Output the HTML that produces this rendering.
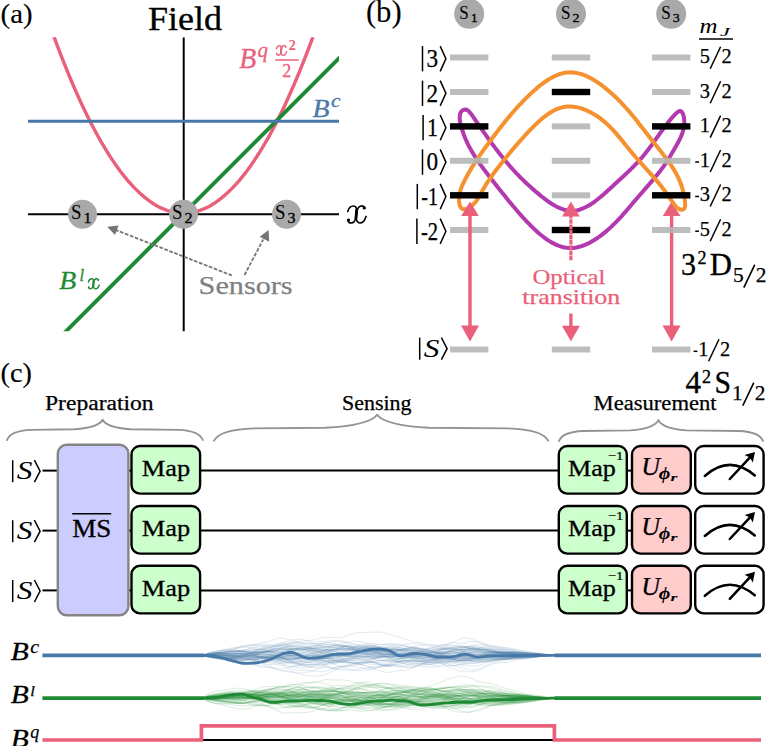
<!DOCTYPE html>
<html><head><meta charset="utf-8"><title>Figure</title>
<style>
html,body{margin:0;padding:0;background:#fff;}
body{width:768px;height:746px;overflow:hidden;font-family:"Liberation Serif",serif;}
svg{display:block;font-family:"Liberation Serif",serif;}
</style></head><body>
<svg width="768" height="746" viewBox="0 0 768 746">
<rect width="768" height="746" fill="#fff"/>
<text x="0.6" y="23.4" font-size="26.5" fill="#000" textLength="32" lengthAdjust="spacingAndGlyphs" stroke="#000" stroke-width="0.15">(a)</text>
<text x="148" y="30" font-size="33" fill="#000" textLength="74" lengthAdjust="spacingAndGlyphs" stroke="#000" stroke-width="0.3">Field</text>
<clipPath id="ca"><rect x="28" y="37.3" width="311" height="294"/></clipPath>
<line x1="183.7" y1="37.5" x2="183.7" y2="331.3" stroke="#000" stroke-width="2"/>
<line x1="28" y1="214.2" x2="339" y2="214.2" stroke="#000" stroke-width="2"/>
<g clip-path="url(#ca)">
<path d="M50.0,25.6 L53.0,34.0 L56.0,42.1 L59.0,50.1 L62.0,57.8 L65.0,65.4 L68.0,72.8 L71.0,80.0 L74.0,87.0 L77.0,93.8 L80.0,100.5 L83.0,106.9 L86.0,113.2 L89.0,119.2 L92.0,125.1 L95.0,130.8 L98.0,136.3 L101.0,141.6 L104.0,146.7 L107.0,151.6 L110.0,156.3 L113.0,160.9 L116.0,165.3 L119.0,169.4 L122.0,173.4 L125.0,177.2 L128.0,180.8 L131.0,184.2 L134.0,187.4 L137.0,190.4 L140.0,193.3 L143.0,195.9 L146.0,198.4 L149.0,200.7 L152.0,202.8 L155.0,204.7 L158.0,206.4 L161.0,207.9 L164.0,209.2 L167.0,210.3 L170.0,211.3 L173.0,212.0 L176.0,212.6 L179.0,213.0 L182.0,213.2 L185.0,213.2 L188.0,213.0 L191.0,212.6 L194.0,212.0 L197.0,211.3 L200.0,210.3 L203.0,209.2 L206.0,207.9 L209.0,206.4 L212.0,204.7 L215.0,202.8 L218.0,200.7 L221.0,198.4 L224.0,195.9 L227.0,193.3 L230.0,190.4 L233.0,187.4 L236.0,184.2 L239.0,180.8 L242.0,177.2 L245.0,173.4 L248.0,169.4 L251.0,165.3 L254.0,160.9 L257.0,156.3 L260.0,151.6 L263.0,146.7 L266.0,141.6 L269.0,136.3 L272.0,130.8 L275.0,125.1 L278.0,119.2 L281.0,113.2 L284.0,106.9 L287.0,100.5 L290.0,93.8 L293.0,87.0 L296.0,80.0 L299.0,72.8 L302.0,65.4 L305.0,57.8 L308.0,50.1 L311.0,42.1 L314.0,34.0 L317.0,25.6" fill="none" stroke="#EA5F79" stroke-width="3.4" stroke-linejoin="round"/>
<line x1="40" y1="357.3" x2="360" y2="37.3" stroke="#1F8A35" stroke-width="3.9"/>
<line x1="28" y1="121.2" x2="339" y2="121.2" stroke="#4878A8" stroke-width="3"/>
</g>
<circle cx="82.5" cy="214.2" r="14.5" fill="#A9A9A9"/>
<text x="71.0" y="218.8" font-size="20" fill="#000" textLength="10.5" lengthAdjust="spacingAndGlyphs">S</text>
<text x="83.5" y="222.5" font-size="14.5" fill="#000" textLength="8" lengthAdjust="spacingAndGlyphs" stroke="#000" stroke-width="0.3">1</text>
<circle cx="183.5" cy="214.2" r="14.5" fill="#A9A9A9"/>
<text x="172.0" y="218.8" font-size="20" fill="#000" textLength="10.5" lengthAdjust="spacingAndGlyphs">S</text>
<text x="184.5" y="222.5" font-size="14.5" fill="#000" textLength="8" lengthAdjust="spacingAndGlyphs" stroke="#000" stroke-width="0.3">2</text>
<circle cx="286.5" cy="214.2" r="14.5" fill="#A9A9A9"/>
<text x="275.0" y="218.8" font-size="20" fill="#000" textLength="10.5" lengthAdjust="spacingAndGlyphs">S</text>
<text x="287.5" y="222.5" font-size="14.5" fill="#000" textLength="8" lengthAdjust="spacingAndGlyphs" stroke="#000" stroke-width="0.3">3</text>
<g transform="translate(334.95,195.04) scale(0.05373)" fill="none" stroke="#000" stroke-linecap="round" stroke-linejoin="round"><path d="M238,305 C255,240 300,203 345,203 C385,203 408,235 402,290 L386,420 C378,480 340,520 300,520 C270,520 247,500 247,472" stroke-width="30"/><path d="M545,242 C540,215 515,200 490,203 C450,208 420,250 412,300 L398,420 C392,470 420,520 465,520 C520,520 560,460 578,398" stroke-width="30"/><path d="M404,275 L390,440" stroke-width="52"/><circle cx="252" cy="466" r="31" fill="#000" stroke="none"/><circle cx="546" cy="240" r="31" fill="#000" stroke="none"/></g>
<text x="239.2" y="67.8" font-size="30" fill="#EA5F79" font-style="italic" textLength="17" lengthAdjust="spacingAndGlyphs" stroke="#EA5F79" stroke-width="0.3">B</text>
<text x="257.6" y="56.6" font-size="21" fill="#EA5F79" font-style="italic" textLength="10.5" lengthAdjust="spacingAndGlyphs" stroke="#EA5F79" stroke-width="0.3">q</text>
<g transform="translate(269.05,39.45) scale(0.03045)" fill="none" stroke="#EA5F79" stroke-linecap="round" stroke-linejoin="round"><path d="M238,305 C255,240 300,203 345,203 C385,203 408,235 402,290 L386,420 C378,480 340,520 300,520 C270,520 247,500 247,472" stroke-width="42"/><path d="M545,242 C540,215 515,200 490,203 C450,208 420,250 412,300 L398,420 C392,470 420,520 465,520 C520,520 560,460 578,398" stroke-width="42"/><path d="M404,275 L390,440" stroke-width="64"/><circle cx="252" cy="466" r="31" fill="#EA5F79" stroke="none"/><circle cx="546" cy="240" r="31" fill="#EA5F79" stroke="none"/></g>
<text x="288.8" y="49.8" font-size="14" fill="#EA5F79" font-weight="bold" textLength="7" lengthAdjust="spacingAndGlyphs">2</text>
<line x1="275.3" y1="60" x2="298.6" y2="60" stroke="#EA5F79" stroke-width="1.5"/>
<text x="282.3" y="77.2" font-size="19.5" fill="#EA5F79" textLength="9" lengthAdjust="spacingAndGlyphs" stroke="#EA5F79" stroke-width="0.3">2</text>
<text x="312.6" y="117" font-size="25.5" fill="#4878A8" font-style="italic" textLength="17" lengthAdjust="spacingAndGlyphs" stroke="#4878A8" stroke-width="0.3">B</text>
<text x="331" y="107" font-size="19" fill="#4878A8" font-style="italic" textLength="9.5" lengthAdjust="spacingAndGlyphs" stroke="#4878A8" stroke-width="0.3">c</text>
<text x="59.2" y="288.6" font-size="26" fill="#1F8A35" font-style="italic" textLength="17" lengthAdjust="spacingAndGlyphs" stroke="#1F8A35" stroke-width="0.3">B</text>
<text x="79.6" y="280.8" font-size="16.5" fill="#1F8A35" font-style="italic" stroke="#1F8A35" stroke-width="0.3">l</text>
<g transform="translate(80.73,272.26) scale(0.03194)" fill="none" stroke="#1F8A35" stroke-linecap="round" stroke-linejoin="round"><path d="M238,305 C255,240 300,203 345,203 C385,203 408,235 402,290 L386,420 C378,480 340,520 300,520 C270,520 247,500 247,472" stroke-width="42"/><path d="M545,242 C540,215 515,200 490,203 C450,208 420,250 412,300 L398,420 C392,470 420,520 465,520 C520,520 560,460 578,398" stroke-width="42"/><path d="M404,275 L390,440" stroke-width="64"/><circle cx="252" cy="466" r="31" fill="#1F8A35" stroke="none"/><circle cx="546" cy="240" r="31" fill="#1F8A35" stroke="none"/></g>
<text x="198.6" y="294" font-size="26" fill="#7F7F7F" textLength="94" lengthAdjust="spacingAndGlyphs" stroke="#7F7F7F" stroke-width="0.25">Sensors</text>
<line x1="232" y1="275.5" x2="116" y2="230.1" stroke="#747474" stroke-width="1.8" stroke-dasharray="3.7,1.6"/>
<polygon points="107.2,226.7 118.6,225.6 115,235" fill="#747474"/>
<line x1="244.5" y1="275" x2="263.2" y2="239.5" stroke="#747474" stroke-width="1.8" stroke-dasharray="3.7,1.6"/>
<polygon points="268.6,230 269.2,241.8 259.8,236.8" fill="#747474"/>
<text x="365.9" y="22.3" font-size="31" fill="#000" textLength="35.8" lengthAdjust="spacingAndGlyphs" stroke="#000" stroke-width="0.1">(b)</text>
<circle cx="469.2" cy="13.8" r="15" fill="#A9A9A9"/>
<text x="459.2" y="18.8" font-size="19.5" fill="#000" textLength="9.5" lengthAdjust="spacingAndGlyphs">S</text>
<text x="470.8" y="22.3" font-size="13.5" fill="#000" textLength="7" lengthAdjust="spacingAndGlyphs" stroke="#000" stroke-width="0.3">1</text>
<circle cx="571" cy="13.8" r="15" fill="#A9A9A9"/>
<text x="561" y="18.8" font-size="19.5" fill="#000" textLength="9.5" lengthAdjust="spacingAndGlyphs">S</text>
<text x="572.6" y="22.3" font-size="13.5" fill="#000" textLength="7" lengthAdjust="spacingAndGlyphs" stroke="#000" stroke-width="0.3">2</text>
<circle cx="671.2" cy="13.8" r="15" fill="#A9A9A9"/>
<text x="661.2" y="18.8" font-size="19.5" fill="#000" textLength="9.5" lengthAdjust="spacingAndGlyphs">S</text>
<text x="672.8000000000001" y="22.3" font-size="13.5" fill="#000" textLength="7" lengthAdjust="spacingAndGlyphs" stroke="#000" stroke-width="0.3">3</text>
<line x1="671.6" y1="212" x2="671.6" y2="330" stroke="#EA5F79" stroke-width="3.4"/>
<polygon points="671.6,201.6 662.8000000000001,216 680.4,216" fill="#EA5F79"/>
<polygon points="671.6,341.4 662.6,325.6 680.6,325.6" fill="#EA5F79"/>
<path d="M570.9,248.1L568.8,248.0L566.7,247.8L564.6,247.5L562.6,247.0L560.5,246.4L558.5,245.7L556.5,244.9L554.5,243.9L552.5,242.9L550.6,241.8L548.6,240.6L546.7,239.3L544.8,238.0L542.9,236.5L541.0,235.0L539.2,233.5L537.4,231.9L535.6,230.3L533.8,228.6L532.1,226.9L530.3,225.2L528.7,223.5L527.0,221.8L525.4,220.0L523.8,218.3L522.2,216.6L520.7,214.9L519.2,213.2L517.7,211.5L516.2,209.8L514.8,208.1L513.4,206.4L512.0,204.7L510.6,203.1L509.2,201.4L507.8,199.7L506.4,198.0L505.1,196.3L503.7,194.6L502.3,192.9L501.0,191.2L499.6,189.4L498.2,187.7L496.8,185.9L495.3,184.1L493.9,182.3L492.5,180.5L491.0,178.7L489.6,176.8L488.2,175.0L486.8,173.1L485.3,171.3L483.9,169.4L482.6,167.5L481.2,165.6L479.8,163.7L478.5,161.8L477.2,159.9L476.0,158.0L474.7,156.1L473.5,154.2L472.4,152.2L471.2,150.3L470.2,148.4L469.1,146.5L468.1,144.6L467.2,142.6L466.3,140.7L465.4,138.7L464.6,136.6L463.7,134.4L463.0,132.2L462.2,129.8L461.4,127.4L460.7,124.8L460.2,122.3L459.8,119.9L459.7,117.5L459.8,115.4L460.2,113.4L461.1,111.8L462.3,110.5L463.8,109.7L465.4,109.5L467.2,110.0L468.8,111.3L470.4,113.1L472.0,115.2L473.5,117.3L474.9,119.4L476.2,121.3L477.5,123.2L478.8,125.1L480.1,126.9L481.3,128.7L482.6,130.5L483.9,132.3L485.2,134.2L486.5,136.0L487.8,137.8L489.1,139.7L490.5,141.5L491.8,143.4L493.2,145.3L494.6,147.1L496.0,149.0L497.4,150.8L498.8,152.6L500.2,154.5L501.7,156.3L503.1,158.1L504.6,159.8L506.0,161.6L507.5,163.3L508.9,165.0L510.4,166.7L511.9,168.4L513.4,170.0L514.9,171.7L516.4,173.3L518.0,174.9L519.5,176.5L521.1,178.1L522.7,179.6L524.3,181.2L525.9,182.7L527.5,184.3L529.2,185.8L530.9,187.3L532.6,188.9L534.4,190.4L536.1,191.9L538.0,193.4L539.8,194.9L541.6,196.5L543.5,197.9L545.4,199.4L547.4,200.8L549.3,202.2L551.3,203.5L553.3,204.7L555.3,205.9L557.3,207.0L559.3,207.9L561.3,208.7L563.3,209.5L565.4,210.0L567.4,210.5L569.4,210.8L571.4,210.9L573.5,210.8L575.5,210.6L577.5,210.2L579.5,209.7L581.5,209.0L583.4,208.2L585.4,207.3L587.4,206.3L589.3,205.2L591.2,204.0L593.2,202.7L595.1,201.3L597.0,199.8L598.9,198.3L600.8,196.8L602.6,195.2L604.5,193.6L606.3,192.0L608.1,190.3L609.9,188.7L611.7,187.0L613.5,185.4L615.2,183.8L616.9,182.2L618.7,180.6L620.4,179.1L622.0,177.5L623.7,176.0L625.3,174.5L627.0,172.9L628.6,171.4L630.1,169.9L631.7,168.3L633.3,166.8L634.8,165.2L636.3,163.7L637.8,162.1L639.3,160.5L640.7,158.9L642.2,157.2L643.6,155.5L645.0,153.8L646.3,152.1L647.7,150.3L649.1,148.5L650.4,146.7L651.8,144.9L653.1,143.0L654.4,141.2L655.8,139.3L657.1,137.4L658.5,135.5L659.8,133.6L661.2,131.6L662.6,129.7L664.0,127.8L665.5,125.9L667.0,123.9L668.5,122.0L670.0,120.1L671.6,118.2L673.2,116.4L674.8,114.6L676.4,113.0L678.0,111.8L679.4,111.1L680.7,111.1L681.8,111.9L682.7,113.3L683.4,115.2L683.9,117.5L684.2,119.9L684.3,122.3L684.2,124.7L683.9,127.0L683.4,129.3L682.8,131.6L682.1,133.8L681.3,135.9L680.3,138.0L679.3,140.1L678.2,142.2L677.1,144.2L676.0,146.2L674.8,148.2L673.7,150.2L672.5,152.1L671.4,154.1L670.3,156.0L669.1,157.9L668.0,159.8L666.8,161.7L665.5,163.6L664.3,165.4L663.0,167.3L661.6,169.1L660.2,170.9L658.8,172.7L657.4,174.5L655.9,176.3L654.5,178.1L653.0,179.9L651.5,181.6L650.0,183.4L648.4,185.1L646.9,186.9L645.4,188.6L643.9,190.3L642.4,192.1L640.8,193.8L639.4,195.5L637.9,197.2L636.4,198.9L635.0,200.6L633.5,202.3L632.1,204.0L630.7,205.7L629.2,207.4L627.8,209.1L626.4,210.8L624.9,212.4L623.4,214.1L622.0,215.8L620.5,217.4L618.9,219.1L617.4,220.7L615.8,222.3L614.2,223.9L612.5,225.5L610.8,227.1L609.1,228.7L607.3,230.3L605.5,231.9L603.6,233.4L601.7,234.9L599.8,236.3L597.8,237.7L595.8,239.0L593.8,240.3L591.8,241.5L589.7,242.7L587.7,243.7L585.6,244.6L583.5,245.5L581.4,246.2L579.3,246.8L577.2,247.3L575.1,247.7L573.0,248.0Z" fill="none" stroke="#B23AAE" stroke-width="4" stroke-linejoin="round"/>
<path d="M571.0,72.3L568.8,72.4L566.7,72.5L564.6,72.9L562.5,73.3L560.4,73.9L558.3,74.6L556.2,75.5L554.2,76.4L552.2,77.4L550.1,78.6L548.1,79.8L546.2,81.0L544.2,82.4L542.3,83.8L540.3,85.3L538.5,86.8L536.6,88.4L534.8,90.0L532.9,91.6L531.2,93.2L529.4,94.9L527.7,96.6L526.0,98.2L524.3,99.9L522.7,101.6L521.1,103.3L519.5,104.9L517.9,106.6L516.4,108.3L514.9,110.0L513.4,111.7L511.9,113.4L510.5,115.1L509.0,116.9L507.6,118.6L506.2,120.3L504.8,122.0L503.4,123.8L502.0,125.5L500.6,127.3L499.2,129.1L497.8,130.9L496.5,132.6L495.1,134.4L493.7,136.2L492.4,138.1L491.0,139.9L489.6,141.7L488.2,143.6L486.9,145.5L485.5,147.3L484.1,149.2L482.8,151.1L481.5,153.0L480.1,154.9L478.8,156.8L477.5,158.8L476.2,160.7L474.9,162.7L473.7,164.6L472.4,166.6L471.2,168.6L470.0,170.6L468.9,172.6L467.7,174.6L466.6,176.7L465.5,178.7L464.5,180.8L463.5,182.8L462.5,184.9L461.6,187.0L460.8,189.2L460.1,191.4L459.6,193.6L459.2,196.0L459.0,198.4L459.1,200.9L459.3,203.4L459.9,205.7L460.7,207.5L461.9,208.7L463.4,209.3L465.1,209.3L467.0,208.7L469.0,207.7L470.9,206.4L472.8,204.8L474.6,203.0L476.1,201.2L477.5,199.3L478.7,197.3L479.9,195.3L481.0,193.2L482.1,191.2L483.2,189.2L484.4,187.2L485.6,185.2L486.9,183.2L488.1,181.3L489.5,179.3L490.8,177.4L492.1,175.5L493.5,173.6L494.9,171.7L496.3,169.8L497.7,168.0L499.2,166.2L500.6,164.3L502.0,162.5L503.5,160.8L504.9,159.0L506.3,157.2L507.7,155.5L509.1,153.8L510.6,152.0L512.0,150.3L513.4,148.6L514.9,146.9L516.3,145.2L517.8,143.6L519.2,141.9L520.7,140.2L522.2,138.5L523.8,136.8L525.3,135.1L526.9,133.4L528.5,131.7L530.1,130.0L531.8,128.3L533.5,126.6L535.2,124.9L537.0,123.2L538.8,121.5L540.6,119.9L542.4,118.3L544.3,116.8L546.2,115.4L548.1,114.0L550.1,112.7L552.1,111.5L554.1,110.4L556.1,109.4L558.1,108.6L560.2,107.9L562.3,107.3L564.4,106.9L566.6,106.6L568.7,106.5L570.9,106.5L573.0,106.7L575.2,106.9L577.4,107.4L579.6,107.9L581.7,108.5L583.9,109.3L586.0,110.1L588.1,111.1L590.2,112.1L592.3,113.2L594.3,114.4L596.4,115.7L598.3,117.0L600.3,118.4L602.1,119.9L604.0,121.4L605.8,122.9L607.5,124.5L609.2,126.1L610.9,127.8L612.5,129.4L614.0,131.1L615.6,132.9L617.1,134.6L618.6,136.4L620.1,138.1L621.5,139.9L623.0,141.7L624.4,143.5L625.8,145.3L627.3,147.0L628.7,148.8L630.1,150.6L631.6,152.3L633.0,154.1L634.5,155.8L636.0,157.5L637.5,159.2L639.0,160.9L640.5,162.6L642.0,164.2L643.5,165.9L645.1,167.6L646.6,169.3L648.1,171.0L649.6,172.6L651.2,174.4L652.7,176.1L654.2,177.8L655.7,179.6L657.2,181.3L658.7,183.1L660.2,184.9L661.7,186.8L663.1,188.7L664.6,190.6L666.0,192.5L667.5,194.5L668.9,196.5L670.2,198.6L671.6,200.7L673.0,202.7L674.4,204.7L675.8,206.4L677.3,207.8L678.9,208.9L680.5,209.6L681.9,209.8L683.2,209.4L684.2,208.6L684.8,207.2L685.1,205.4L685.1,203.2L685.0,200.8L684.6,198.2L684.1,195.5L683.5,192.8L682.8,190.1L682.1,187.6L681.3,185.2L680.5,183.0L679.7,180.9L678.8,178.8L677.9,176.9L676.9,175.0L675.9,173.1L674.8,171.2L673.7,169.4L672.5,167.5L671.3,165.7L670.0,163.8L668.7,161.9L667.4,160.1L666.0,158.2L664.7,156.4L663.2,154.5L661.8,152.6L660.4,150.8L658.9,148.9L657.5,147.1L656.0,145.3L654.5,143.4L653.1,141.6L651.6,139.7L650.2,137.9L648.7,136.1L647.3,134.2L645.9,132.4L644.5,130.6L643.1,128.8L641.6,127.0L640.2,125.2L638.8,123.4L637.4,121.6L636.0,119.8L634.6,118.1L633.1,116.3L631.7,114.6L630.2,112.8L628.8,111.1L627.3,109.4L625.8,107.7L624.3,106.0L622.7,104.4L621.2,102.7L619.6,101.1L618.0,99.4L616.4,97.8L614.7,96.2L613.0,94.7L611.3,93.1L609.5,91.6L607.7,90.1L605.9,88.6L604.1,87.1L602.2,85.7L600.2,84.2L598.3,82.9L596.3,81.5L594.2,80.2L592.2,79.0L590.1,77.9L588.0,76.8L585.9,75.9L583.8,75.0L581.7,74.2L579.5,73.6L577.4,73.1L575.2,72.7L573.1,72.4Z" fill="none" stroke="#F5912F" stroke-width="4" stroke-linejoin="round"/>
<rect x="450.0" y="54.5" width="38.4" height="6" fill="#B4B4B4" fill-opacity="0.88"/>
<rect x="450.0" y="89.0" width="38.4" height="6" fill="#B4B4B4" fill-opacity="0.88"/>
<rect x="450.0" y="123.2" width="38.4" height="6.4" fill="#000"/>
<rect x="450.0" y="157.8" width="38.4" height="6" fill="#B4B4B4" fill-opacity="0.88"/>
<rect x="450.0" y="192.1" width="38.4" height="6.4" fill="#000"/>
<rect x="450.0" y="227.0" width="38.4" height="6" fill="#B4B4B4" fill-opacity="0.88"/>
<rect x="450.0" y="346.5" width="38.4" height="6" fill="#BDBDBD"/>
<rect x="551.8" y="54.5" width="38.4" height="6" fill="#B4B4B4" fill-opacity="0.88"/>
<rect x="551.8" y="88.8" width="38.4" height="6.4" fill="#000"/>
<rect x="551.8" y="123.4" width="38.4" height="6" fill="#B4B4B4" fill-opacity="0.88"/>
<rect x="551.8" y="157.8" width="38.4" height="6" fill="#B4B4B4" fill-opacity="0.88"/>
<rect x="551.8" y="192.3" width="38.4" height="6" fill="#B4B4B4" fill-opacity="0.88"/>
<rect x="551.8" y="226.8" width="38.4" height="6.4" fill="#000"/>
<rect x="551.8" y="346.5" width="38.4" height="6" fill="#BDBDBD"/>
<rect x="652.0" y="54.5" width="38.4" height="6" fill="#B4B4B4" fill-opacity="0.88"/>
<rect x="652.0" y="89.0" width="38.4" height="6" fill="#B4B4B4" fill-opacity="0.88"/>
<rect x="652.0" y="123.2" width="38.4" height="6.4" fill="#000"/>
<rect x="652.0" y="157.8" width="38.4" height="6" fill="#B4B4B4" fill-opacity="0.88"/>
<rect x="652.0" y="192.1" width="38.4" height="6.4" fill="#000"/>
<rect x="652.0" y="227.0" width="38.4" height="6" fill="#B4B4B4" fill-opacity="0.88"/>
<rect x="652.0" y="346.5" width="38.4" height="6" fill="#BDBDBD"/>
<polyline points="440.2,46.1 445.9,58.7 440.2,71.4" fill="none" stroke="#000" stroke-width="1.5"/>
<text x="426.5" y="67.1" font-size="24.5" fill="#000" textLength="11.6" lengthAdjust="spacingAndGlyphs" stroke="#000" stroke-width="0.25">3</text>
<line x1="422.5" y1="46.1" x2="422.5" y2="71.4" stroke="#000" stroke-width="1.5"/>
<polyline points="440.2,80.6 445.9,93.2 440.2,105.9" fill="none" stroke="#000" stroke-width="1.5"/>
<text x="426.5" y="101.6" font-size="24.5" fill="#000" textLength="11.6" lengthAdjust="spacingAndGlyphs" stroke="#000" stroke-width="0.25">2</text>
<line x1="422.5" y1="80.6" x2="422.5" y2="105.9" stroke="#000" stroke-width="1.5"/>
<polyline points="440.2,115.0 445.9,127.7 440.2,140.3" fill="none" stroke="#000" stroke-width="1.5"/>
<text x="427.1" y="136.0" font-size="24.5" fill="#000" textLength="11.0" lengthAdjust="spacingAndGlyphs" stroke="#000" stroke-width="0.25">1</text>
<line x1="423.1" y1="115.0" x2="423.1" y2="140.3" stroke="#000" stroke-width="1.5"/>
<polyline points="440.2,149.4 445.9,162.1 440.2,174.7" fill="none" stroke="#000" stroke-width="1.5"/>
<text x="426.5" y="170.4" font-size="24.5" fill="#000" textLength="11.6" lengthAdjust="spacingAndGlyphs" stroke="#000" stroke-width="0.25">0</text>
<line x1="422.5" y1="149.4" x2="422.5" y2="174.7" stroke="#000" stroke-width="1.5"/>
<polyline points="440.2,183.9 445.9,196.6 440.2,209.2" fill="none" stroke="#000" stroke-width="1.5"/>
<text x="421.3" y="204.9" font-size="24.5" fill="#000" textLength="16.8" lengthAdjust="spacingAndGlyphs" stroke="#000" stroke-width="0.25">-1</text>
<line x1="417.3" y1="183.9" x2="417.3" y2="209.2" stroke="#000" stroke-width="1.5"/>
<polyline points="440.2,218.6 445.9,231.2 440.2,243.9" fill="none" stroke="#000" stroke-width="1.5"/>
<text x="420.9" y="239.6" font-size="24.5" fill="#000" textLength="17.2" lengthAdjust="spacingAndGlyphs" stroke="#000" stroke-width="0.25">-2</text>
<line x1="416.9" y1="218.6" x2="416.9" y2="243.9" stroke="#000" stroke-width="1.5"/>
<polyline points="441.4,337.7 447.1,348.7 441.4,359.7" fill="none" stroke="#000" stroke-width="1.5"/>
<text x="423.7" y="356.6" font-size="25.5" fill="#000" font-style="italic" textLength="15.6" lengthAdjust="spacingAndGlyphs" stroke="#000" stroke-width="0.05">S</text>
<line x1="419.7" y1="337.7" x2="419.7" y2="359.7" stroke="#000" stroke-width="1.5"/>
<text x="699.5" y="33" font-size="22" fill="#000" font-style="italic" textLength="18" lengthAdjust="spacingAndGlyphs">m</text>
<text x="720" y="35.8" font-size="12.5" fill="#000" font-style="italic" textLength="10" lengthAdjust="spacingAndGlyphs">J</text>
<line x1="699" y1="38.9" x2="733" y2="38.9" stroke="#000" stroke-width="1.5"/>
<text x="721.6" y="63.3" font-size="21" fill="#000" textLength="10.2" lengthAdjust="spacingAndGlyphs" stroke="#000" stroke-width="0.25">2</text>
<text x="699.8" y="63.3" font-size="21" fill="#000" textLength="10.2" lengthAdjust="spacingAndGlyphs" stroke="#000" stroke-width="0.25">5</text>
<line x1="710.2" y1="68.7" x2="720.6" y2="46.7" stroke="#000" stroke-width="1.50"/>
<text x="721.6" y="97.8" font-size="21" fill="#000" textLength="10.2" lengthAdjust="spacingAndGlyphs" stroke="#000" stroke-width="0.25">2</text>
<text x="699.8" y="97.8" font-size="21" fill="#000" textLength="10.2" lengthAdjust="spacingAndGlyphs" stroke="#000" stroke-width="0.25">3</text>
<line x1="710.2" y1="103.2" x2="720.6" y2="81.2" stroke="#000" stroke-width="1.50"/>
<text x="721.6" y="132.2" font-size="21" fill="#000" textLength="10.2" lengthAdjust="spacingAndGlyphs" stroke="#000" stroke-width="0.25">2</text>
<text x="699.8" y="132.2" font-size="21" fill="#000" textLength="10.2" lengthAdjust="spacingAndGlyphs" stroke="#000" stroke-width="0.25">1</text>
<line x1="710.2" y1="137.6" x2="720.6" y2="115.6" stroke="#000" stroke-width="1.50"/>
<text x="721.6" y="166.6" font-size="21" fill="#000" textLength="10.2" lengthAdjust="spacingAndGlyphs" stroke="#000" stroke-width="0.25">2</text>
<text x="699.8" y="166.6" font-size="21" fill="#000" textLength="10.2" lengthAdjust="spacingAndGlyphs" stroke="#000" stroke-width="0.25">1</text>
<line x1="710.2" y1="172.0" x2="720.6" y2="150.0" stroke="#000" stroke-width="1.50"/>
<line x1="695.2" y1="162.0" x2="699.0" y2="162.0" stroke="#000" stroke-width="1.50"/>
<text x="721.6" y="201.1" font-size="21" fill="#000" textLength="10.2" lengthAdjust="spacingAndGlyphs" stroke="#000" stroke-width="0.25">2</text>
<text x="699.8" y="201.1" font-size="21" fill="#000" textLength="10.2" lengthAdjust="spacingAndGlyphs" stroke="#000" stroke-width="0.25">3</text>
<line x1="710.2" y1="206.5" x2="720.6" y2="184.5" stroke="#000" stroke-width="1.50"/>
<line x1="695.2" y1="196.5" x2="699.0" y2="196.5" stroke="#000" stroke-width="1.50"/>
<text x="721.6" y="235.8" font-size="21" fill="#000" textLength="10.2" lengthAdjust="spacingAndGlyphs" stroke="#000" stroke-width="0.25">2</text>
<text x="699.8" y="235.8" font-size="21" fill="#000" textLength="10.2" lengthAdjust="spacingAndGlyphs" stroke="#000" stroke-width="0.25">5</text>
<line x1="710.2" y1="241.2" x2="720.6" y2="219.2" stroke="#000" stroke-width="1.50"/>
<line x1="695.2" y1="231.2" x2="699.0" y2="231.2" stroke="#000" stroke-width="1.50"/>
<text x="720.0" y="355.9" font-size="21" fill="#000" textLength="10.2" lengthAdjust="spacingAndGlyphs" stroke="#000" stroke-width="0.25">2</text>
<text x="698.2" y="355.9" font-size="21" fill="#000" textLength="10.2" lengthAdjust="spacingAndGlyphs" stroke="#000" stroke-width="0.25">1</text>
<line x1="708.6" y1="361.3" x2="719.0" y2="339.3" stroke="#000" stroke-width="1.50"/>
<line x1="693.6" y1="351.3" x2="697.4" y2="351.3" stroke="#000" stroke-width="1.50"/>
<text x="681" y="274.7" font-size="31" fill="#000" textLength="15" lengthAdjust="spacingAndGlyphs" stroke="#000" stroke-width="0.35">3</text>
<text x="697.6" y="264.3" font-size="18.5" fill="#000" textLength="9" lengthAdjust="spacingAndGlyphs" stroke="#000" stroke-width="0.35">2</text>
<text x="709.8" y="274.7" font-size="31" fill="#000" textLength="22.2" lengthAdjust="spacingAndGlyphs" stroke="#000" stroke-width="0.35">D</text>
<text x="755.8" y="282.0" font-size="22" fill="#000" textLength="10.7" lengthAdjust="spacingAndGlyphs" stroke="#000" stroke-width="0.25">2</text>
<text x="733.0" y="282.0" font-size="22" fill="#000" textLength="10.7" lengthAdjust="spacingAndGlyphs" stroke="#000" stroke-width="0.25">5</text>
<line x1="743.8" y1="287.7" x2="754.8" y2="264.6" stroke="#000" stroke-width="1.57"/>
<text x="685.6" y="392.6" font-size="31" fill="#000" textLength="15.5" lengthAdjust="spacingAndGlyphs" stroke="#000" stroke-width="0.35">4</text>
<text x="702" y="382.6" font-size="18.5" fill="#000" textLength="9" lengthAdjust="spacingAndGlyphs" stroke="#000" stroke-width="0.35">2</text>
<text x="714.4" y="392.6" font-size="31" fill="#000" textLength="16.5" lengthAdjust="spacingAndGlyphs" stroke="#000" stroke-width="0.35">S</text>
<text x="754.8" y="400.0" font-size="22" fill="#000" textLength="10.7" lengthAdjust="spacingAndGlyphs" stroke="#000" stroke-width="0.25">2</text>
<text x="732.0" y="400.0" font-size="22" fill="#000" textLength="10.7" lengthAdjust="spacingAndGlyphs" stroke="#000" stroke-width="0.25">1</text>
<line x1="742.8" y1="405.7" x2="753.8" y2="382.6" stroke="#000" stroke-width="1.57"/>
<line x1="470.0" y1="212" x2="470.0" y2="330" stroke="#EA5F79" stroke-width="3.4"/>
<polygon points="470.0,201.6 461.2,216 478.8,216" fill="#EA5F79"/>
<polygon points="470.0,341.4 461.0,325.6 479.0,325.6" fill="#EA5F79"/>
<line x1="570.9" y1="214" x2="570.9" y2="260.4" stroke="#EA5F79" stroke-width="3.2" stroke-dasharray="4.6,0.6"/>
<polygon points="570.9,201.4 562.1,216.4 579.6999999999999,216.4" fill="#EA5F79"/>
<line x1="570.9" y1="313.6" x2="570.9" y2="328" stroke="#EA5F79" stroke-width="3.3"/>
<polygon points="570.9,341.2 561.9,325.8 579.9,325.8" fill="#EA5F79"/>
<text x="532.4" y="283.7" font-size="22" fill="#EA5F79" textLength="73" lengthAdjust="spacingAndGlyphs" stroke="#EA5F79" stroke-width="0.25">Optical</text>
<text x="522.3" y="303.5" font-size="22" fill="#EA5F79" textLength="98" lengthAdjust="spacingAndGlyphs" stroke="#EA5F79" stroke-width="0.25">transition</text>
<text x="0.6" y="382.2" font-size="26.5" fill="#000" textLength="31.4" lengthAdjust="spacingAndGlyphs" stroke="#000" stroke-width="0.15">(c)</text>
<text x="45" y="409.6" font-size="20.5" fill="#000" textLength="108.6" lengthAdjust="spacingAndGlyphs" stroke="#000" stroke-width="0.25">Preparation</text>
<text x="342" y="410.2" font-size="21" fill="#000" textLength="69.5" lengthAdjust="spacingAndGlyphs" stroke="#000" stroke-width="0.25">Sensing</text>
<text x="593.6" y="409.6" font-size="20.5" fill="#000" textLength="123" lengthAdjust="spacingAndGlyphs" stroke="#000" stroke-width="0.25">Measurement</text>
<path d="M7,440 C8.9,435.2 14.2,430.6 31,429.90000000000003 L74.6,429.3 C90.0,428.1 99.8,425.0 102.6,419.7 C105.4,425.0 115.2,428.1 130.6,429.3 L178.8,429.90000000000003 C195.6,430.6 200.9,435.2 202.8,440" fill="none" stroke="#939393" stroke-width="1.9" stroke-linecap="round" stroke-linejoin="round"/>
<path d="M214,440.6 C217.2,434.8 226.0,429.3 254,428.40000000000003 L325.1,427.8 C353.7,426.2 371.9,421.9 377.1,414.7 C382.3,421.9 400.5,426.2 429.1,427.8 L508.20000000000005,428.40000000000003 C536.2,429.3 545.0,434.8 548.2,440.6" fill="none" stroke="#939393" stroke-width="1.9" stroke-linecap="round" stroke-linejoin="round"/>
<path d="M559,441 C560.9,436.2 566.2,431.7 583,431.0 L630.4,430.4 C645.8,429.2 655.6,425.8 658.4,420.1 C661.2,425.8 671.0,429.2 686.4,430.4 L739,431.0 C755.8,431.7 761.1,436.2 763,441" fill="none" stroke="#939393" stroke-width="1.9" stroke-linecap="round" stroke-linejoin="round"/>
<line x1="42.5" y1="470.6" x2="58" y2="470.6" stroke="#000" stroke-width="2"/>
<line x1="128" y1="470.6" x2="131" y2="470.6" stroke="#000" stroke-width="2"/>
<line x1="200" y1="470.6" x2="559" y2="470.6" stroke="#000" stroke-width="2"/>
<line x1="627" y1="470.6" x2="632" y2="470.6" stroke="#000" stroke-width="2"/>
<polyline points="34.4,460.2 40.1,471.2 34.4,482.2" fill="none" stroke="#000" stroke-width="1.5"/>
<text x="16.7" y="479.1" font-size="25.5" fill="#000" font-style="italic" textLength="15.6" lengthAdjust="spacingAndGlyphs" stroke="#000" stroke-width="0.05">S</text>
<line x1="12.7" y1="460.2" x2="12.7" y2="482.2" stroke="#000" stroke-width="1.5"/>
<line x1="42.5" y1="530.6" x2="58" y2="530.6" stroke="#000" stroke-width="2"/>
<line x1="128" y1="530.6" x2="131" y2="530.6" stroke="#000" stroke-width="2"/>
<line x1="200" y1="530.6" x2="559" y2="530.6" stroke="#000" stroke-width="2"/>
<line x1="627" y1="530.6" x2="632" y2="530.6" stroke="#000" stroke-width="2"/>
<polyline points="34.4,520.2 40.1,531.2 34.4,542.2" fill="none" stroke="#000" stroke-width="1.5"/>
<text x="16.7" y="539.1" font-size="25.5" fill="#000" font-style="italic" textLength="15.6" lengthAdjust="spacingAndGlyphs" stroke="#000" stroke-width="0.05">S</text>
<line x1="12.7" y1="520.2" x2="12.7" y2="542.2" stroke="#000" stroke-width="1.5"/>
<line x1="42.5" y1="590.4" x2="58" y2="590.4" stroke="#000" stroke-width="2"/>
<line x1="128" y1="590.4" x2="131" y2="590.4" stroke="#000" stroke-width="2"/>
<line x1="200" y1="590.4" x2="559" y2="590.4" stroke="#000" stroke-width="2"/>
<line x1="627" y1="590.4" x2="632" y2="590.4" stroke="#000" stroke-width="2"/>
<polyline points="34.4,580.0 40.1,591.0 34.4,602.0" fill="none" stroke="#000" stroke-width="1.5"/>
<text x="16.7" y="598.9" font-size="25.5" fill="#000" font-style="italic" textLength="15.6" lengthAdjust="spacingAndGlyphs" stroke="#000" stroke-width="0.05">S</text>
<line x1="12.7" y1="580.0" x2="12.7" y2="602.0" stroke="#000" stroke-width="1.5"/>
<rect x="57.8" y="444.8" width="70.6" height="170.4" rx="9" fill="#CCCCFF" stroke="#858585" stroke-width="2.4"/>
<text x="72.2" y="537" font-size="26" fill="#000" textLength="39" lengthAdjust="spacingAndGlyphs" stroke="#000" stroke-width="0.3">MS</text>
<line x1="72.2" y1="513.8" x2="111.2" y2="513.8" stroke="#000" stroke-width="1.6"/>
<rect x="131.5" y="446.0" width="68.6" height="47.6" rx="8.5" fill="#CCFFCC" stroke="#000" stroke-width="2.4"/>
<text x="141.8" y="475.8" font-size="23" fill="#000" textLength="48.4" lengthAdjust="spacingAndGlyphs" stroke="#000" stroke-width="0.3">Map</text>
<rect x="558.8" y="446.0" width="68" height="47.6" rx="8.5" fill="#CCFFCC" stroke="#000" stroke-width="2.4"/>
<text x="568" y="476.0" font-size="23" fill="#000" textLength="47.8" lengthAdjust="spacingAndGlyphs" stroke="#000" stroke-width="0.3">Map</text>
<text x="607.8" y="460.2" font-size="12.5" fill="#000" textLength="15.6" lengthAdjust="spacingAndGlyphs" stroke="#000" stroke-width="0.2">−1</text>
<rect x="632" y="446.0" width="58.8" height="47.6" rx="8.5" fill="#FFCCCC" stroke="#000" stroke-width="2.4"/>
<text x="641.3" y="474.9" font-size="24.5" fill="#000" font-style="italic" textLength="18.8" lengthAdjust="spacingAndGlyphs" stroke="#000" stroke-width="0.25">U</text>
<text x="658.8" y="479.4" font-size="17" fill="#000" font-style="italic" font-weight="bold" textLength="11.5" lengthAdjust="spacingAndGlyphs">ϕ</text>
<text x="670.5" y="481.1" font-size="11" fill="#000" font-style="italic" font-weight="bold" textLength="7" lengthAdjust="spacingAndGlyphs">r</text>
<rect x="695.2" y="446.0" width="68.4" height="47.6" rx="8.5" fill="#fff" stroke="#000" stroke-width="2.4"/>
<path d="M704.8,476.0 Q729.5,454.1 754.8,475.5" fill="none" stroke="#000" stroke-width="2.5" stroke-linecap="round"/>
<line x1="729.8" y1="479.0" x2="750.5" y2="456.8" stroke="#000" stroke-width="2.5" stroke-linecap="round"/>
<polygon points="755,452.0 752.8,462.6 749.8,457.6 744.6,455.0" fill="#000"/>
<rect x="131.5" y="506.0" width="68.6" height="47.6" rx="8.5" fill="#CCFFCC" stroke="#000" stroke-width="2.4"/>
<text x="141.8" y="535.8" font-size="23" fill="#000" textLength="48.4" lengthAdjust="spacingAndGlyphs" stroke="#000" stroke-width="0.3">Map</text>
<rect x="558.8" y="506.0" width="68" height="47.6" rx="8.5" fill="#CCFFCC" stroke="#000" stroke-width="2.4"/>
<text x="568" y="536.0" font-size="23" fill="#000" textLength="47.8" lengthAdjust="spacingAndGlyphs" stroke="#000" stroke-width="0.3">Map</text>
<text x="607.8" y="520.2" font-size="12.5" fill="#000" textLength="15.6" lengthAdjust="spacingAndGlyphs" stroke="#000" stroke-width="0.2">−1</text>
<rect x="632" y="506.0" width="58.8" height="47.6" rx="8.5" fill="#FFCCCC" stroke="#000" stroke-width="2.4"/>
<text x="641.3" y="534.9" font-size="24.5" fill="#000" font-style="italic" textLength="18.8" lengthAdjust="spacingAndGlyphs" stroke="#000" stroke-width="0.25">U</text>
<text x="658.8" y="539.4" font-size="17" fill="#000" font-style="italic" font-weight="bold" textLength="11.5" lengthAdjust="spacingAndGlyphs">ϕ</text>
<text x="670.5" y="541.1" font-size="11" fill="#000" font-style="italic" font-weight="bold" textLength="7" lengthAdjust="spacingAndGlyphs">r</text>
<rect x="695.2" y="506.0" width="68.4" height="47.6" rx="8.5" fill="#fff" stroke="#000" stroke-width="2.4"/>
<path d="M704.8,536.0 Q729.5,514.1 754.8,535.5" fill="none" stroke="#000" stroke-width="2.5" stroke-linecap="round"/>
<line x1="729.8" y1="539.0" x2="750.5" y2="516.8" stroke="#000" stroke-width="2.5" stroke-linecap="round"/>
<polygon points="755,512.0 752.8,522.6 749.8,517.6 744.6,515.0" fill="#000"/>
<rect x="131.5" y="565.8" width="68.6" height="47.6" rx="8.5" fill="#CCFFCC" stroke="#000" stroke-width="2.4"/>
<text x="141.8" y="595.6" font-size="23" fill="#000" textLength="48.4" lengthAdjust="spacingAndGlyphs" stroke="#000" stroke-width="0.3">Map</text>
<rect x="558.8" y="565.8" width="68" height="47.6" rx="8.5" fill="#CCFFCC" stroke="#000" stroke-width="2.4"/>
<text x="568" y="595.8" font-size="23" fill="#000" textLength="47.8" lengthAdjust="spacingAndGlyphs" stroke="#000" stroke-width="0.3">Map</text>
<text x="607.8" y="580.0" font-size="12.5" fill="#000" textLength="15.6" lengthAdjust="spacingAndGlyphs" stroke="#000" stroke-width="0.2">−1</text>
<rect x="632" y="565.8" width="58.8" height="47.6" rx="8.5" fill="#FFCCCC" stroke="#000" stroke-width="2.4"/>
<text x="641.3" y="594.7" font-size="24.5" fill="#000" font-style="italic" textLength="18.8" lengthAdjust="spacingAndGlyphs" stroke="#000" stroke-width="0.25">U</text>
<text x="658.8" y="599.2" font-size="17" fill="#000" font-style="italic" font-weight="bold" textLength="11.5" lengthAdjust="spacingAndGlyphs">ϕ</text>
<text x="670.5" y="600.9" font-size="11" fill="#000" font-style="italic" font-weight="bold" textLength="7" lengthAdjust="spacingAndGlyphs">r</text>
<rect x="695.2" y="565.8" width="68.4" height="47.6" rx="8.5" fill="#fff" stroke="#000" stroke-width="2.4"/>
<path d="M704.8,595.8 Q729.5,573.9 754.8,595.3" fill="none" stroke="#000" stroke-width="2.5" stroke-linecap="round"/>
<line x1="729.8" y1="598.8" x2="750.5" y2="576.6" stroke="#000" stroke-width="2.5" stroke-linecap="round"/>
<polygon points="755,571.8 752.8,582.4 749.8,577.4 744.6,574.8" fill="#000"/>
<line x1="42.4" y1="655.3" x2="204.0" y2="655.3" stroke="#4878A8" stroke-width="3.8"/>
<line x1="554.5" y1="655.3" x2="761" y2="655.3" stroke="#4878A8" stroke-width="3.8"/>
<g fill="none" stroke="#4878A8" stroke-width="0.8" stroke-opacity="0.2">
<path d="M203.0,655.3L206.7,655.5L210.3,655.8L214.0,656.4L217.7,657.0L221.4,657.6L225.0,658.1L228.7,658.3L232.4,658.1L236.0,657.8L239.7,657.4L243.4,657.0L247.1,656.9L250.7,656.8L254.4,656.8L258.1,656.8L261.8,656.8L265.4,656.9L269.1,657.2L272.8,657.6L276.4,658.2L280.1,658.7L283.8,659.0L287.5,658.9L291.1,658.9L294.8,659.0L298.5,659.1L302.1,658.6L305.8,657.9L309.5,657.5L313.2,657.5L316.8,657.9L320.5,658.2L324.2,658.4L327.8,658.8L331.5,659.3L335.2,660.3L338.9,661.5L342.5,662.5L346.2,663.1L349.9,663.4L353.5,663.5L357.2,663.4L360.9,663.2L364.6,662.7L368.2,662.2L371.9,661.5L375.6,660.9L379.2,660.6L382.9,660.8L386.6,660.9L390.3,660.4L393.9,659.4L397.6,658.5L401.3,657.8L405.0,657.1L408.6,656.6L412.3,656.3L416.0,656.4L419.6,656.5L423.3,656.5L427.0,656.5L430.7,657.1L434.3,658.3L438.0,659.7L441.7,660.3L445.3,659.9L449.0,658.7L452.7,657.2L456.4,656.1L460.0,655.7L463.7,655.8L467.4,655.8L471.0,655.6L474.7,655.2L478.4,654.7L482.1,654.7L485.7,655.2L489.4,656.1L493.1,657.0L496.8,657.7L500.4,657.9L504.1,657.8L507.8,657.6L511.4,657.4L515.1,657.0L518.8,656.6L522.5,656.3L526.1,656.1L529.8,655.9L533.5,655.6L537.1,655.4L540.8,655.3L544.5,655.2L548.2,655.2L551.8,655.2L555.5,655.3"/>
<path d="M203.0,655.3L206.7,655.7L210.3,656.1L214.0,656.6L217.7,657.0L221.4,657.4L225.0,657.8L228.7,658.3L232.4,658.5L236.0,658.4L239.7,658.4L243.4,658.5L247.1,658.8L250.7,659.2L254.4,659.5L258.1,659.9L261.8,660.0L265.4,659.9L269.1,659.8L272.8,659.8L276.4,660.0L280.1,660.7L283.8,661.7L287.5,662.8L291.1,663.6L294.8,664.3L298.5,664.8L302.1,665.5L305.8,666.3L309.5,666.5L313.2,665.9L316.8,664.9L320.5,664.2L324.2,664.1L327.8,664.2L331.5,664.1L335.2,663.5L338.9,662.4L342.5,661.2L346.2,660.2L349.9,659.2L353.5,658.2L357.2,657.4L360.9,657.0L364.6,656.8L368.2,656.5L371.9,656.2L375.6,656.0L379.2,655.7L382.9,655.7L386.6,656.0L390.3,656.7L393.9,657.5L397.6,658.2L401.3,658.6L405.0,658.8L408.6,659.1L412.3,659.6L416.0,660.0L419.6,660.4L423.3,660.8L427.0,661.3L430.7,661.6L434.3,661.3L438.0,660.4L441.7,659.1L445.3,658.1L449.0,657.8L452.7,658.0L456.4,658.1L460.0,658.2L463.7,658.2L467.4,658.3L471.0,658.3L474.7,658.4L478.4,658.6L482.1,659.0L485.7,659.5L489.4,659.9L493.1,659.6L496.8,659.1L500.4,658.7L504.1,658.4L507.8,658.1L511.4,657.8L515.1,657.6L518.8,657.4L522.5,657.1L526.1,656.9L529.8,656.6L533.5,656.4L537.1,656.2L540.8,655.9L544.5,655.6L548.2,655.4L551.8,655.3L555.5,655.3"/>
<path d="M203.0,655.3L206.7,653.7L210.3,652.8L214.0,652.0L217.7,651.1L221.4,650.3L225.0,649.8L228.7,649.6L232.4,649.8L236.0,650.3L239.7,650.8L243.4,651.2L247.1,651.7L250.7,651.9L254.4,651.9L258.1,651.6L261.8,651.4L265.4,651.4L269.1,651.7L272.8,652.0L276.4,652.2L280.1,652.0L283.8,651.4L287.5,650.5L291.1,649.7L294.8,649.2L298.5,649.2L302.1,649.6L305.8,650.1L309.5,650.6L313.2,651.0L316.8,651.4L320.5,651.8L324.2,652.1L327.8,652.4L331.5,652.9L335.2,653.5L338.9,653.7L342.5,652.9L346.2,651.3L349.9,649.8L353.5,649.4L357.2,650.3L360.9,651.6L364.6,652.4L368.2,652.4L371.9,652.3L375.6,652.2L379.2,652.3L382.9,652.5L386.6,652.7L390.3,653.0L393.9,653.4L397.6,654.0L401.3,654.7L405.0,655.4L408.6,656.2L412.3,657.3L416.0,658.9L419.6,660.6L423.3,661.7L427.0,661.6L430.7,660.8L434.3,659.6L438.0,658.6L441.7,658.1L445.3,658.2L449.0,658.3L452.7,658.1L456.4,658.0L460.0,658.1L463.7,658.5L467.4,658.9L471.0,658.9L474.7,658.3L478.4,657.5L482.1,656.8L485.7,656.2L489.4,655.6L493.1,654.9L496.8,654.2L500.4,653.8L504.1,653.5L507.8,653.4L511.4,653.5L515.1,653.7L518.8,654.0L522.5,654.1L526.1,654.4L529.8,654.8L533.5,655.0L537.1,655.1L540.8,655.0L544.5,655.0L548.2,655.1L551.8,655.2L555.5,655.3"/>
<path d="M203.0,655.3L206.7,654.7L210.3,654.5L214.0,654.4L217.7,654.3L221.4,654.2L225.0,654.2L228.7,654.4L232.4,654.6L236.0,654.6L239.7,654.6L243.4,654.5L247.1,654.1L250.7,653.3L254.4,652.5L258.1,652.2L261.8,652.7L265.4,653.7L269.1,654.5L272.8,655.3L276.4,656.1L280.1,656.8L283.8,657.1L287.5,657.4L291.1,657.7L294.8,658.1L298.5,658.2L302.1,657.8L305.8,656.7L309.5,655.2L313.2,653.7L316.8,652.5L320.5,651.6L324.2,650.4L327.8,648.6L331.5,646.4L335.2,644.7L338.9,643.9L342.5,643.3L346.2,642.6L349.9,641.6L353.5,641.1L357.2,641.2L360.9,641.9L364.6,642.7L368.2,643.7L371.9,644.8L375.6,646.2L379.2,648.1L382.9,650.2L386.6,652.3L390.3,654.1L393.9,655.3L397.6,656.1L401.3,656.6L405.0,657.0L408.6,657.0L412.3,657.2L416.0,657.9L419.6,658.9L423.3,659.6L427.0,659.8L430.7,659.5L434.3,659.1L438.0,659.0L441.7,658.8L445.3,658.3L449.0,658.2L452.7,658.6L456.4,659.2L460.0,659.4L463.7,659.4L467.4,659.8L471.0,660.7L474.7,661.6L478.4,662.1L482.1,662.0L485.7,661.6L489.4,661.1L493.1,660.5L496.8,660.1L500.4,659.7L504.1,659.6L507.8,659.4L511.4,659.0L515.1,658.6L518.8,658.2L522.5,657.8L526.1,657.6L529.8,657.4L533.5,657.2L537.1,656.8L540.8,656.3L544.5,655.8L548.2,655.6L551.8,655.4L555.5,655.3"/>
<path d="M203.0,655.3L206.7,655.8L210.3,656.1L214.0,656.5L217.7,657.1L221.4,657.7L225.0,658.0L228.7,658.1L232.4,658.0L236.0,658.0L239.7,658.1L243.4,658.3L247.1,658.4L250.7,658.2L254.4,657.8L258.1,657.2L261.8,656.3L265.4,655.3L269.1,654.6L272.8,654.4L276.4,654.3L280.1,654.3L283.8,654.4L287.5,654.8L291.1,655.4L294.8,655.6L298.5,655.5L302.1,655.7L305.8,656.3L309.5,657.0L313.2,657.5L316.8,657.6L320.5,657.3L324.2,656.7L327.8,656.2L331.5,655.8L335.2,655.6L338.9,655.4L342.5,654.8L346.2,653.8L349.9,652.6L353.5,651.5L357.2,650.7L360.9,649.9L364.6,649.2L368.2,648.6L371.9,648.4L375.6,648.6L379.2,649.0L382.9,649.4L386.6,649.7L390.3,649.8L393.9,649.8L397.6,649.8L401.3,649.9L405.0,650.2L408.6,650.6L412.3,651.3L416.0,651.6L419.6,651.2L423.3,650.5L427.0,650.2L430.7,650.6L434.3,650.9L438.0,650.3L441.7,648.9L445.3,647.8L449.0,647.7L452.7,648.2L456.4,648.9L460.0,649.6L463.7,650.2L467.4,650.7L471.0,651.0L474.7,651.3L478.4,651.6L482.1,652.2L485.7,653.0L489.4,653.8L493.1,654.5L496.8,654.9L500.4,655.2L504.1,655.4L507.8,655.5L511.4,655.6L515.1,655.7L518.8,655.9L522.5,656.0L526.1,655.9L529.8,655.8L533.5,655.7L537.1,655.6L540.8,655.5L544.5,655.5L548.2,655.4L551.8,655.3L555.5,655.3"/>
<path d="M203.0,655.3L206.7,655.5L210.3,655.2L214.0,654.8L217.7,654.2L221.4,653.6L225.0,652.7L228.7,651.5L232.4,650.1L236.0,648.6L239.7,647.0L243.4,645.6L247.1,644.9L250.7,645.0L254.4,645.4L258.1,645.8L261.8,646.0L265.4,646.2L269.1,646.2L272.8,646.0L276.4,645.8L280.1,645.9L283.8,646.1L287.5,646.3L291.1,646.6L294.8,646.8L298.5,646.5L302.1,646.1L305.8,646.3L309.5,647.4L313.2,648.8L316.8,649.4L320.5,649.4L324.2,649.2L327.8,649.3L331.5,649.2L335.2,648.8L338.9,647.9L342.5,646.8L346.2,646.3L349.9,646.7L353.5,647.5L357.2,647.9L360.9,647.7L364.6,647.6L368.2,648.2L371.9,649.5L375.6,651.2L379.2,652.8L382.9,654.2L386.6,656.0L390.3,657.9L393.9,659.6L397.6,660.7L401.3,661.5L405.0,662.4L408.6,663.1L412.3,663.4L416.0,663.3L419.6,663.5L423.3,664.0L427.0,664.5L430.7,664.4L434.3,663.5L438.0,662.2L441.7,661.2L445.3,660.5L449.0,660.3L452.7,660.5L456.4,661.0L460.0,661.0L463.7,660.7L467.4,660.6L471.0,661.0L474.7,661.6L478.4,661.6L482.1,660.9L485.7,659.7L489.4,658.6L493.1,658.0L496.8,657.7L500.4,657.4L504.1,657.1L507.8,656.7L511.4,656.2L515.1,655.7L518.8,655.4L522.5,655.4L526.1,655.4L529.8,655.5L533.5,655.5L537.1,655.6L540.8,655.7L544.5,655.6L548.2,655.6L551.8,655.4L555.5,655.3"/>
<path d="M203.0,655.3L206.7,655.3L210.3,654.9L214.0,654.4L217.7,654.0L221.4,653.9L225.0,653.8L228.7,653.7L232.4,653.5L236.0,653.3L239.7,653.1L243.4,653.1L247.1,653.5L250.7,654.1L254.4,654.5L258.1,654.6L261.8,655.0L265.4,655.8L269.1,657.0L272.8,658.3L276.4,659.1L280.1,659.5L283.8,659.7L287.5,660.2L291.1,661.1L294.8,662.3L298.5,663.1L302.1,663.3L305.8,662.7L309.5,661.5L313.2,660.3L316.8,659.8L320.5,659.9L324.2,660.2L327.8,660.3L331.5,660.4L335.2,660.6L338.9,660.6L342.5,660.2L346.2,659.5L349.9,659.0L353.5,658.4L357.2,657.9L360.9,657.6L364.6,657.5L368.2,657.6L371.9,658.0L375.6,658.8L379.2,659.8L382.9,660.5L386.6,661.2L390.3,661.6L393.9,661.8L397.6,661.9L401.3,661.9L405.0,661.6L408.6,660.7L412.3,659.6L416.0,658.6L419.6,658.2L423.3,658.1L427.0,657.6L430.7,656.3L434.3,654.7L438.0,652.9L441.7,651.1L445.3,649.5L449.0,648.5L452.7,647.7L456.4,647.2L460.0,646.9L463.7,647.0L467.4,647.3L471.0,647.7L474.7,648.2L478.4,648.7L482.1,649.5L485.7,650.3L489.4,650.8L493.1,651.3L496.8,651.8L500.4,652.1L504.1,652.3L507.8,652.5L511.4,652.7L515.1,652.9L518.8,653.1L522.5,653.3L526.1,653.4L529.8,653.4L533.5,653.4L537.1,653.5L540.8,653.7L544.5,654.1L548.2,654.5L551.8,655.0L555.5,655.3"/>
<path d="M203.0,655.3L206.7,655.6L210.3,656.0L214.0,656.6L217.7,657.5L221.4,658.5L225.0,659.2L228.7,659.6L232.4,659.7L236.0,659.6L239.7,659.6L243.4,659.7L247.1,659.7L250.7,659.7L254.4,659.6L258.1,659.1L261.8,658.3L265.4,657.4L269.1,656.8L272.8,656.4L276.4,656.5L280.1,657.1L283.8,657.8L287.5,658.2L291.1,658.0L294.8,657.3L298.5,656.9L302.1,656.8L305.8,657.2L309.5,657.8L313.2,658.6L316.8,659.4L320.5,659.8L324.2,659.4L327.8,658.6L331.5,658.1L335.2,657.8L338.9,657.6L342.5,657.2L346.2,656.9L349.9,656.8L353.5,657.0L357.2,657.3L360.9,657.6L364.6,658.2L368.2,658.7L371.9,658.5L375.6,657.5L379.2,656.3L382.9,655.5L386.6,655.3L390.3,655.5L393.9,655.6L397.6,655.3L401.3,654.6L405.0,653.6L408.6,652.6L412.3,651.8L416.0,651.1L419.6,650.3L423.3,649.7L427.0,649.9L430.7,651.0L434.3,652.4L438.0,653.3L441.7,653.3L445.3,652.5L449.0,651.3L452.7,650.0L456.4,648.9L460.0,648.2L463.7,647.8L467.4,647.9L471.0,648.6L474.7,649.8L478.4,650.9L482.1,651.7L485.7,652.2L489.4,652.3L493.1,652.1L496.8,652.1L500.4,652.5L504.1,653.2L507.8,653.7L511.4,654.2L515.1,654.7L518.8,655.1L522.5,655.3L526.1,655.2L529.8,655.0L533.5,654.8L537.1,654.8L540.8,654.9L544.5,655.1L548.2,655.2L551.8,655.3L555.5,655.3"/>
<path d="M203.0,655.3L206.7,655.1L210.3,654.9L214.0,654.5L217.7,654.3L221.4,654.4L225.0,654.8L228.7,655.4L232.4,655.9L236.0,656.3L239.7,656.6L243.4,656.9L247.1,656.6L250.7,655.9L254.4,655.5L258.1,655.9L261.8,656.7L265.4,657.3L269.1,657.5L272.8,657.5L276.4,657.6L280.1,657.7L283.8,658.3L287.5,659.1L291.1,659.8L294.8,660.4L298.5,661.1L302.1,661.9L305.8,662.4L309.5,662.4L313.2,662.1L316.8,661.3L320.5,660.3L324.2,659.1L327.8,657.9L331.5,656.7L335.2,655.8L338.9,655.5L342.5,655.8L346.2,656.2L349.9,656.3L353.5,656.2L357.2,656.1L360.9,656.2L364.6,656.7L368.2,657.3L371.9,657.8L375.6,657.8L379.2,657.4L382.9,656.9L386.6,656.4L390.3,656.2L393.9,656.0L397.6,655.5L401.3,654.7L405.0,653.9L408.6,653.4L412.3,653.2L416.0,653.0L419.6,652.8L423.3,652.6L427.0,652.4L430.7,652.3L434.3,651.9L438.0,651.3L441.7,650.4L445.3,649.5L449.0,648.6L452.7,648.1L456.4,647.9L460.0,647.7L463.7,647.8L467.4,647.8L471.0,647.8L474.7,647.7L478.4,647.6L482.1,647.8L485.7,648.5L489.4,649.5L493.1,650.6L496.8,651.5L500.4,652.1L504.1,652.4L507.8,652.4L511.4,652.3L515.1,652.1L518.8,652.0L522.5,652.2L526.1,652.6L529.8,653.2L533.5,653.6L537.1,654.0L540.8,654.2L544.5,654.5L548.2,654.8L551.8,655.1L555.5,655.3"/>
<path d="M203.0,655.3L206.7,656.2L210.3,656.9L214.0,657.7L217.7,658.5L221.4,659.2L225.0,660.0L228.7,660.7L232.4,661.5L236.0,662.2L239.7,662.6L243.4,662.7L247.1,662.6L250.7,662.6L254.4,662.8L258.1,662.6L261.8,661.8L265.4,660.5L269.1,659.0L272.8,657.7L276.4,656.5L280.1,655.1L283.8,653.4L287.5,651.2L291.1,649.5L294.8,648.7L298.5,648.9L302.1,649.5L305.8,650.3L309.5,650.9L313.2,651.6L316.8,652.0L320.5,652.0L324.2,652.0L327.8,652.5L331.5,653.7L335.2,655.1L338.9,656.0L342.5,656.0L346.2,654.9L349.9,653.2L353.5,651.5L357.2,650.2L360.9,649.3L364.6,648.2L368.2,646.9L371.9,645.7L375.6,644.9L379.2,644.5L382.9,644.2L386.6,643.7L390.3,643.3L393.9,643.7L397.6,644.4L401.3,645.0L405.0,645.7L408.6,646.9L412.3,648.3L416.0,649.5L419.6,650.5L423.3,651.0L427.0,651.4L430.7,652.0L434.3,652.8L438.0,653.9L441.7,654.9L445.3,655.5L449.0,655.9L452.7,656.3L456.4,656.5L460.0,656.4L463.7,656.0L467.4,656.2L471.0,656.7L474.7,657.0L478.4,656.7L482.1,655.9L485.7,655.1L489.4,654.3L493.1,653.8L496.8,653.4L500.4,652.8L504.1,652.3L507.8,652.0L511.4,652.0L515.1,652.3L518.8,652.9L522.5,653.6L526.1,654.2L529.8,654.7L533.5,654.9L537.1,655.1L540.8,655.1L544.5,655.2L548.2,655.3L551.8,655.3L555.5,655.3"/>
<path d="M203.0,655.3L206.7,656.5L210.3,657.4L214.0,658.2L217.7,658.6L221.4,658.7L225.0,658.7L228.7,658.5L232.4,658.3L236.0,658.1L239.7,657.9L243.4,657.8L247.1,658.2L250.7,658.8L254.4,659.7L258.1,660.6L261.8,661.5L265.4,662.2L269.1,662.8L272.8,663.4L276.4,664.2L280.1,665.4L283.8,666.7L287.5,668.0L291.1,668.9L294.8,669.5L298.5,670.0L302.1,670.3L305.8,670.4L309.5,670.6L313.2,670.8L316.8,671.3L320.5,671.7L324.2,671.5L327.8,670.6L331.5,669.2L335.2,667.7L338.9,666.6L342.5,666.0L346.2,665.8L349.9,666.1L353.5,666.5L357.2,667.0L360.9,667.5L364.6,668.3L368.2,669.0L371.9,668.9L375.6,668.0L379.2,666.8L382.9,665.8L386.6,664.8L390.3,663.7L393.9,662.6L397.6,661.6L401.3,661.0L405.0,660.7L408.6,660.5L412.3,660.4L416.0,660.4L419.6,660.6L423.3,660.8L427.0,660.6L430.7,660.1L434.3,660.3L438.0,661.6L441.7,663.5L445.3,665.4L449.0,667.1L452.7,668.9L456.4,670.3L460.0,671.0L463.7,671.1L467.4,671.4L471.0,671.8L474.7,671.5L478.4,670.5L482.1,668.9L485.7,667.2L489.4,665.6L493.1,664.0L496.8,663.0L500.4,662.7L504.1,662.7L507.8,662.3L511.4,661.4L515.1,660.4L518.8,659.5L522.5,658.8L526.1,658.3L529.8,657.9L533.5,657.4L537.1,656.9L540.8,656.4L544.5,656.0L548.2,655.7L551.8,655.4L555.5,655.3"/>
<path d="M203.0,655.3L206.7,656.1L210.3,656.7L214.0,657.2L217.7,657.7L221.4,658.1L225.0,658.3L228.7,658.5L232.4,658.8L236.0,659.2L239.7,659.6L243.4,659.8L247.1,659.9L250.7,660.1L254.4,660.7L258.1,661.9L261.8,663.3L265.4,664.7L269.1,666.1L272.8,667.3L276.4,668.6L280.1,669.9L283.8,670.9L287.5,671.7L291.1,672.2L294.8,672.8L298.5,673.2L302.1,672.9L305.8,672.3L309.5,671.6L313.2,670.8L316.8,669.6L320.5,667.7L324.2,665.5L327.8,663.7L331.5,662.2L335.2,660.8L338.9,659.1L342.5,657.5L346.2,656.4L349.9,655.7L353.5,654.9L357.2,654.0L360.9,653.2L364.6,652.4L368.2,651.6L371.9,651.0L375.6,650.5L379.2,649.7L382.9,648.4L386.6,647.1L390.3,646.4L393.9,646.2L397.6,646.0L401.3,645.3L405.0,644.4L408.6,643.7L412.3,643.4L416.0,643.6L419.6,644.0L423.3,644.4L427.0,644.7L430.7,645.0L434.3,645.5L438.0,646.4L441.7,647.5L445.3,648.2L449.0,648.3L452.7,648.3L456.4,648.7L460.0,649.5L463.7,650.0L467.4,650.1L471.0,650.1L474.7,650.2L478.4,650.2L482.1,650.2L485.7,650.4L489.4,650.8L493.1,651.7L496.8,652.6L500.4,653.2L504.1,653.1L507.8,652.7L511.4,652.4L515.1,652.4L518.8,652.6L522.5,653.0L526.1,653.5L529.8,653.9L533.5,654.3L537.1,654.7L540.8,655.0L544.5,655.2L548.2,655.3L551.8,655.4L555.5,655.3"/>
<path d="M203.0,655.3L206.7,655.2L210.3,654.9L214.0,654.3L217.7,653.8L221.4,653.5L225.0,653.5L228.7,653.5L232.4,653.5L236.0,653.5L239.7,653.7L243.4,654.2L247.1,654.6L250.7,655.3L254.4,656.0L258.1,656.5L261.8,656.4L265.4,656.0L269.1,655.7L272.8,656.0L276.4,656.5L280.1,657.0L283.8,656.9L287.5,656.5L291.1,656.1L294.8,656.0L298.5,655.6L302.1,654.9L305.8,654.1L309.5,653.6L313.2,653.8L316.8,654.3L320.5,654.7L324.2,654.9L327.8,655.0L331.5,655.1L335.2,655.0L338.9,654.7L342.5,654.2L346.2,653.6L349.9,652.9L353.5,652.2L357.2,651.8L360.9,651.6L364.6,651.4L368.2,651.3L371.9,651.5L375.6,652.3L379.2,652.8L382.9,652.7L386.6,651.9L390.3,651.2L393.9,650.8L397.6,651.0L401.3,651.7L405.0,653.0L408.6,654.4L412.3,655.4L416.0,656.2L419.6,657.4L423.3,658.7L427.0,659.8L430.7,660.0L434.3,659.4L438.0,658.7L441.7,658.2L445.3,658.0L449.0,657.8L452.7,657.6L456.4,657.3L460.0,657.1L463.7,656.7L467.4,655.8L471.0,654.7L474.7,653.8L478.4,653.3L482.1,652.7L485.7,652.2L489.4,651.8L493.1,651.9L496.8,652.1L500.4,652.5L504.1,652.9L507.8,653.2L511.4,653.3L515.1,653.2L518.8,653.2L522.5,653.4L526.1,653.5L529.8,653.7L533.5,653.8L537.1,653.9L540.8,654.0L544.5,654.3L548.2,654.7L551.8,655.1L555.5,655.3"/>
<path d="M203.0,655.3L206.7,655.0L210.3,654.5L214.0,654.1L217.7,654.1L221.4,654.4L225.0,655.0L228.7,655.4L232.4,655.9L236.0,656.2L239.7,656.5L243.4,656.6L247.1,656.7L250.7,657.2L254.4,657.8L258.1,658.3L261.8,658.5L265.4,658.5L269.1,658.5L272.8,658.3L276.4,658.0L280.1,658.1L283.8,658.7L287.5,659.5L291.1,659.7L294.8,659.2L298.5,658.6L302.1,658.3L305.8,658.5L309.5,658.3L313.2,657.4L316.8,656.2L320.5,655.3L324.2,654.8L327.8,654.3L331.5,653.7L335.2,653.5L338.9,653.9L342.5,654.9L346.2,656.1L349.9,657.2L353.5,658.0L357.2,658.5L360.9,658.9L364.6,659.2L368.2,659.3L371.9,659.5L375.6,659.9L379.2,660.3L382.9,660.4L386.6,660.4L390.3,660.5L393.9,660.4L397.6,659.8L401.3,658.8L405.0,657.7L408.6,656.3L412.3,655.1L416.0,654.6L419.6,654.8L423.3,655.3L427.0,655.3L430.7,654.7L434.3,654.1L438.0,654.1L441.7,655.0L445.3,656.3L449.0,657.7L452.7,659.0L456.4,660.0L460.0,660.4L463.7,660.1L467.4,659.5L471.0,659.2L474.7,659.6L478.4,660.4L482.1,661.1L485.7,661.1L489.4,660.4L493.1,659.5L496.8,658.9L500.4,658.7L504.1,658.6L507.8,658.3L511.4,657.8L515.1,657.2L518.8,656.8L522.5,656.5L526.1,656.4L529.8,656.3L533.5,656.2L537.1,656.1L540.8,656.1L544.5,655.9L548.2,655.7L551.8,655.5L555.5,655.3"/>
<path d="M203.0,655.3L206.7,654.8L210.3,654.5L214.0,654.3L217.7,654.2L221.4,654.4L225.0,654.6L228.7,654.9L232.4,655.1L236.0,654.9L239.7,654.5L243.4,654.0L247.1,653.6L250.7,653.1L254.4,652.5L258.1,652.0L261.8,652.0L265.4,652.5L269.1,653.4L272.8,654.4L276.4,655.1L280.1,655.4L283.8,655.5L287.5,655.3L291.1,655.0L294.8,654.9L298.5,655.2L302.1,655.5L305.8,655.6L309.5,655.7L313.2,656.1L316.8,657.1L320.5,658.0L324.2,658.2L327.8,657.7L331.5,656.9L335.2,656.5L338.9,656.4L342.5,656.2L346.2,655.7L349.9,655.2L353.5,654.5L357.2,653.7L360.9,653.3L364.6,653.5L368.2,654.1L371.9,654.5L375.6,654.6L379.2,654.4L382.9,654.2L386.6,654.4L390.3,655.3L393.9,656.1L397.6,656.5L401.3,656.4L405.0,655.9L408.6,655.6L412.3,656.0L416.0,657.1L419.6,658.2L423.3,658.8L427.0,659.0L430.7,659.0L434.3,658.8L438.0,658.2L441.7,657.4L445.3,656.9L449.0,656.9L452.7,657.1L456.4,657.1L460.0,656.7L463.7,656.1L467.4,655.9L471.0,656.3L474.7,656.7L478.4,656.3L482.1,654.9L485.7,653.3L489.4,652.4L493.1,652.3L496.8,652.8L500.4,653.7L504.1,654.6L507.8,655.4L511.4,655.9L515.1,656.2L518.8,656.2L522.5,656.2L526.1,656.2L529.8,656.2L533.5,656.2L537.1,656.1L540.8,655.9L544.5,655.8L548.2,655.6L551.8,655.4L555.5,655.3"/>
<path d="M203.0,655.3L206.7,653.7L210.3,652.7L214.0,651.9L217.7,651.1L221.4,650.3L225.0,649.8L228.7,649.3L232.4,648.8L236.0,648.0L239.7,647.2L243.4,646.4L247.1,645.7L250.7,645.1L254.4,644.7L258.1,644.3L261.8,644.2L265.4,644.2L269.1,644.3L272.8,644.2L276.4,643.7L280.1,643.1L283.8,642.9L287.5,643.0L291.1,643.1L294.8,642.8L298.5,642.4L302.1,642.4L305.8,642.7L309.5,643.1L313.2,643.5L316.8,643.7L320.5,643.7L324.2,643.4L327.8,642.9L331.5,642.2L335.2,641.4L338.9,641.3L342.5,641.9L346.2,643.0L349.9,643.8L353.5,644.2L357.2,644.5L360.9,644.9L364.6,645.4L368.2,645.8L371.9,646.2L375.6,646.8L379.2,647.6L382.9,648.6L386.6,649.7L390.3,650.6L393.9,650.8L397.6,650.5L401.3,650.0L405.0,649.6L408.6,649.6L412.3,650.0L416.0,650.7L419.6,651.4L423.3,652.0L427.0,652.2L430.7,652.2L434.3,652.4L438.0,652.7L441.7,652.6L445.3,652.0L449.0,651.5L452.7,651.5L456.4,652.4L460.0,653.6L463.7,654.7L467.4,655.0L471.0,654.6L474.7,654.2L478.4,654.0L482.1,654.1L485.7,654.6L489.4,655.2L493.1,655.8L496.8,656.1L500.4,656.2L504.1,656.0L507.8,655.6L511.4,655.2L515.1,655.1L518.8,655.1L522.5,655.1L526.1,655.0L529.8,654.9L533.5,654.8L537.1,654.7L540.8,654.7L544.5,654.9L548.2,655.1L551.8,655.3L555.5,655.3"/>
<path d="M203.0,655.3L206.7,656.2L210.3,656.5L214.0,656.3L217.7,656.1L221.4,655.9L225.0,655.7L228.7,655.3L232.4,654.9L236.0,654.3L239.7,654.1L243.4,654.3L247.1,655.2L250.7,656.4L254.4,657.3L258.1,657.6L261.8,657.5L265.4,657.4L269.1,657.5L272.8,657.8L276.4,658.1L280.1,658.4L283.8,658.5L287.5,658.8L291.1,659.0L294.8,658.8L298.5,658.3L302.1,657.6L305.8,657.3L309.5,657.4L313.2,657.7L316.8,658.2L320.5,658.5L324.2,658.5L327.8,658.4L331.5,658.4L335.2,658.5L338.9,658.5L342.5,658.4L346.2,658.3L349.9,658.1L353.5,657.6L357.2,656.9L360.9,656.4L364.6,656.4L368.2,657.0L371.9,657.7L375.6,657.8L379.2,657.5L382.9,657.1L386.6,656.8L390.3,656.6L393.9,656.4L397.6,656.4L401.3,656.3L405.0,656.1L408.6,655.7L412.3,655.3L416.0,655.1L419.6,654.9L423.3,654.7L427.0,655.0L430.7,656.0L434.3,657.8L438.0,659.7L441.7,661.5L445.3,663.0L449.0,664.3L452.7,665.6L456.4,666.6L460.0,667.5L463.7,668.2L467.4,669.2L471.0,670.0L474.7,669.9L478.4,669.1L482.1,667.6L485.7,665.8L489.4,664.1L493.1,662.8L496.8,661.8L500.4,661.1L504.1,660.2L507.8,659.2L511.4,658.2L515.1,657.4L518.8,657.0L522.5,656.9L526.1,657.0L529.8,657.0L533.5,656.9L537.1,656.7L540.8,656.4L544.5,656.0L548.2,655.7L551.8,655.5L555.5,655.3"/>
<path d="M203.0,655.3L206.7,654.2L210.3,653.6L214.0,653.1L217.7,652.6L221.4,652.3L225.0,652.1L228.7,652.1L232.4,652.0L236.0,651.9L239.7,651.9L243.4,651.9L247.1,651.9L250.7,651.6L254.4,650.8L258.1,649.7L261.8,648.8L265.4,648.1L269.1,647.6L272.8,646.7L276.4,645.3L280.1,643.9L283.8,642.4L287.5,641.2L291.1,640.7L294.8,640.9L298.5,641.9L302.1,643.2L305.8,644.2L309.5,644.8L313.2,645.0L316.8,645.3L320.5,646.1L324.2,647.7L327.8,649.6L331.5,651.2L335.2,652.1L338.9,652.3L342.5,652.6L346.2,653.1L349.9,653.6L353.5,653.3L357.2,652.3L360.9,651.2L364.6,650.2L368.2,649.6L371.9,649.6L375.6,650.2L379.2,650.7L382.9,650.6L386.6,649.9L390.3,649.1L393.9,648.6L397.6,648.6L401.3,649.2L405.0,650.5L408.6,652.4L412.3,654.5L416.0,655.9L419.6,656.5L423.3,656.9L427.0,657.4L430.7,658.3L434.3,659.1L438.0,659.6L441.7,659.8L445.3,659.9L449.0,659.9L452.7,659.3L456.4,658.4L460.0,657.8L463.7,657.8L467.4,658.0L471.0,657.7L474.7,656.8L478.4,655.8L482.1,655.0L485.7,654.4L489.4,654.0L493.1,653.8L496.8,653.6L500.4,653.4L504.1,653.2L507.8,653.1L511.4,653.1L515.1,653.0L518.8,653.0L522.5,653.1L526.1,653.3L529.8,653.6L533.5,653.8L537.1,654.0L540.8,654.3L544.5,654.6L548.2,654.9L551.8,655.1L555.5,655.3"/>
<path d="M203.0,655.3L206.7,654.6L210.3,654.6L214.0,654.9L217.7,655.2L221.4,655.6L225.0,655.8L228.7,655.9L232.4,656.1L236.0,656.1L239.7,656.1L243.4,655.9L247.1,655.4L250.7,654.6L254.4,653.6L258.1,652.5L261.8,651.4L265.4,650.9L269.1,651.6L272.8,653.2L276.4,655.2L280.1,656.8L283.8,657.5L287.5,657.4L291.1,656.6L294.8,655.8L298.5,655.6L302.1,655.6L305.8,655.1L309.5,654.0L313.2,653.0L316.8,652.8L320.5,653.4L324.2,654.3L327.8,654.9L331.5,655.2L335.2,655.6L338.9,657.0L342.5,659.2L346.2,661.4L349.9,662.8L353.5,663.1L357.2,662.9L360.9,662.5L364.6,661.9L368.2,661.5L371.9,661.8L375.6,662.9L379.2,664.1L382.9,664.8L386.6,665.0L390.3,665.0L393.9,665.2L397.6,665.9L401.3,666.6L405.0,667.1L408.6,667.3L412.3,667.0L416.0,666.2L419.6,665.0L423.3,664.0L427.0,663.9L430.7,664.6L434.3,665.5L438.0,665.7L441.7,664.9L445.3,663.4L449.0,661.8L452.7,660.9L456.4,660.7L460.0,660.8L463.7,660.7L467.4,660.1L471.0,659.1L474.7,657.8L478.4,656.6L482.1,655.3L485.7,654.3L489.4,653.5L493.1,653.3L496.8,653.6L500.4,654.0L504.1,654.2L507.8,654.4L511.4,654.8L515.1,655.2L518.8,655.4L522.5,655.3L526.1,655.1L529.8,654.9L533.5,654.9L537.1,654.8L540.8,654.7L544.5,654.7L548.2,654.9L551.8,655.1L555.5,655.3"/>
<path d="M203.0,655.3L206.7,653.9L210.3,653.2L214.0,652.6L217.7,652.2L221.4,652.0L225.0,652.0L228.7,652.0L232.4,652.3L236.0,652.7L239.7,653.3L243.4,653.7L247.1,654.1L250.7,654.6L254.4,655.3L258.1,656.1L261.8,656.8L265.4,657.6L269.1,658.3L272.8,658.7L276.4,658.9L280.1,658.7L283.8,658.1L287.5,657.9L291.1,658.3L294.8,658.7L298.5,658.6L302.1,658.1L305.8,657.8L309.5,657.4L313.2,656.8L316.8,655.6L320.5,654.3L324.2,653.4L327.8,652.6L331.5,651.8L335.2,650.9L338.9,650.0L342.5,649.5L346.2,649.5L349.9,649.5L353.5,649.3L357.2,649.0L360.9,648.5L364.6,647.9L368.2,647.4L371.9,647.8L375.6,649.7L379.2,652.7L382.9,655.6L386.6,657.1L390.3,657.0L393.9,656.5L397.6,656.7L401.3,657.9L405.0,659.6L408.6,661.2L412.3,662.0L416.0,662.1L419.6,661.8L423.3,661.8L427.0,662.4L430.7,663.3L434.3,663.5L438.0,662.9L441.7,662.0L445.3,661.4L449.0,661.2L452.7,661.3L456.4,661.2L460.0,660.6L463.7,659.6L467.4,658.8L471.0,658.3L474.7,658.1L478.4,658.2L482.1,658.5L485.7,659.0L489.4,659.3L493.1,659.2L496.8,658.7L500.4,658.1L504.1,657.5L507.8,657.1L511.4,656.9L515.1,656.7L518.8,656.8L522.5,656.9L526.1,657.0L529.8,656.8L533.5,656.5L537.1,656.2L540.8,656.0L544.5,655.8L548.2,655.6L551.8,655.4L555.5,655.3"/>
<path d="M203.0,655.3L206.7,656.4L210.3,656.7L214.0,656.7L217.7,656.3L221.4,655.9L225.0,655.5L228.7,655.2L232.4,654.8L236.0,654.3L239.7,653.8L243.4,653.5L247.1,653.5L250.7,653.4L254.4,652.8L258.1,651.9L261.8,650.9L265.4,650.3L269.1,649.9L272.8,649.6L276.4,649.3L280.1,648.9L283.8,648.7L287.5,648.7L291.1,648.7L294.8,648.7L298.5,648.7L302.1,648.9L305.8,648.8L309.5,648.5L313.2,648.2L316.8,648.3L320.5,648.8L324.2,649.5L327.8,650.1L331.5,650.7L335.2,651.9L338.9,653.5L342.5,655.1L346.2,655.7L349.9,655.4L353.5,654.2L357.2,652.8L360.9,651.7L364.6,651.2L368.2,651.2L371.9,651.4L375.6,651.2L379.2,650.5L382.9,649.5L386.6,648.8L390.3,648.6L393.9,648.9L397.6,649.1L401.3,649.2L405.0,649.2L408.6,649.2L412.3,648.9L416.0,648.3L419.6,648.1L423.3,648.4L427.0,649.0L430.7,649.2L434.3,649.1L438.0,648.9L441.7,649.0L445.3,649.4L449.0,649.8L452.7,649.8L456.4,649.5L460.0,649.2L463.7,649.2L467.4,649.3L471.0,649.6L474.7,649.5L478.4,649.3L482.1,649.2L485.7,649.4L489.4,649.6L493.1,649.7L496.8,649.9L500.4,650.4L504.1,651.5L507.8,652.8L511.4,653.9L515.1,654.4L518.8,654.3L522.5,654.1L526.1,654.1L529.8,654.4L533.5,654.8L537.1,655.1L540.8,655.3L544.5,655.3L548.2,655.3L551.8,655.3L555.5,655.3"/>
<path d="M203.0,655.3L206.7,654.8L210.3,654.3L214.0,653.9L217.7,653.3L221.4,652.9L225.0,652.5L228.7,652.3L232.4,652.2L236.0,651.9L239.7,651.5L243.4,650.6L247.1,649.4L250.7,648.1L254.4,646.8L258.1,645.9L261.8,645.5L265.4,645.6L269.1,645.9L272.8,645.9L276.4,645.5L280.1,645.1L283.8,644.8L287.5,644.5L291.1,644.5L294.8,644.5L298.5,644.3L302.1,644.0L305.8,643.7L309.5,643.5L313.2,643.6L316.8,643.7L320.5,643.8L324.2,644.1L327.8,644.6L331.5,644.9L335.2,645.2L338.9,646.1L342.5,647.6L346.2,649.2L349.9,650.2L353.5,650.6L357.2,650.7L360.9,650.7L364.6,650.6L368.2,650.7L371.9,651.4L375.6,652.3L379.2,652.7L382.9,652.0L386.6,650.7L390.3,649.9L393.9,649.6L397.6,649.6L401.3,649.5L405.0,649.2L408.6,649.0L412.3,649.3L416.0,650.0L419.6,650.7L423.3,651.2L427.0,651.4L430.7,651.5L434.3,651.4L438.0,651.3L441.7,651.2L445.3,651.1L449.0,651.2L452.7,651.5L456.4,652.0L460.0,652.2L463.7,652.0L467.4,651.4L471.0,651.2L474.7,651.6L478.4,652.3L482.1,653.0L485.7,653.4L489.4,653.9L493.1,654.4L496.8,655.0L500.4,655.3L504.1,655.5L507.8,655.7L511.4,655.8L515.1,655.8L518.8,655.8L522.5,655.7L526.1,655.6L529.8,655.5L533.5,655.5L537.1,655.6L540.8,655.6L544.5,655.6L548.2,655.5L551.8,655.4L555.5,655.3"/>
<path d="M203.0,655.3L206.7,653.7L210.3,653.0L214.0,652.6L217.7,652.4L221.4,652.3L225.0,652.1L228.7,651.8L232.4,651.6L236.0,651.7L239.7,651.8L243.4,651.9L247.1,652.2L250.7,652.6L254.4,652.9L258.1,652.8L261.8,652.4L265.4,651.9L269.1,651.6L272.8,651.3L276.4,650.8L280.1,650.0L283.8,649.3L287.5,649.5L291.1,650.7L294.8,652.4L298.5,654.1L302.1,655.1L305.8,655.4L309.5,655.2L313.2,654.7L316.8,653.7L320.5,652.6L324.2,651.8L327.8,651.1L331.5,650.2L335.2,649.1L338.9,648.5L342.5,648.4L346.2,648.5L349.9,648.3L353.5,647.7L357.2,647.3L360.9,647.3L364.6,647.4L368.2,647.5L371.9,647.8L375.6,648.6L379.2,649.8L382.9,651.1L386.6,652.0L390.3,652.6L393.9,653.6L397.6,655.2L401.3,656.8L405.0,658.0L408.6,658.4L412.3,658.1L416.0,657.4L419.6,656.5L423.3,655.7L427.0,655.1L430.7,654.8L434.3,654.6L438.0,654.3L441.7,653.9L445.3,653.5L449.0,653.0L452.7,652.5L456.4,652.4L460.0,652.8L463.7,653.2L467.4,653.3L471.0,653.1L474.7,653.0L478.4,653.4L482.1,654.1L485.7,654.9L489.4,655.7L493.1,656.3L496.8,656.7L500.4,657.0L504.1,657.1L507.8,657.2L511.4,657.4L515.1,657.6L518.8,657.8L522.5,658.0L526.1,658.0L529.8,657.8L533.5,657.4L537.1,657.0L540.8,656.6L544.5,656.1L548.2,655.8L551.8,655.5L555.5,655.3"/>
<path d="M203.0,655.3L206.7,655.7L210.3,656.1L214.0,656.7L217.7,657.2L221.4,657.5L225.0,657.9L228.7,658.4L232.4,659.2L236.0,659.8L239.7,660.3L243.4,660.6L247.1,660.9L250.7,661.1L254.4,661.3L258.1,661.8L261.8,662.3L265.4,662.6L269.1,662.4L272.8,662.1L276.4,662.3L280.1,663.3L283.8,664.6L287.5,666.0L291.1,666.8L294.8,666.8L298.5,665.7L302.1,664.0L305.8,662.4L309.5,661.5L313.2,661.0L316.8,660.2L320.5,658.8L324.2,657.0L327.8,655.4L331.5,654.4L335.2,654.3L338.9,655.0L342.5,655.8L346.2,656.1L349.9,656.0L353.5,655.9L357.2,655.9L360.9,656.1L364.6,656.1L368.2,655.8L371.9,654.9L375.6,653.3L379.2,651.6L382.9,650.7L386.6,650.9L390.3,651.4L393.9,651.6L397.6,651.3L401.3,650.9L405.0,650.7L408.6,650.7L412.3,651.0L416.0,651.4L419.6,651.9L423.3,652.2L427.0,652.1L430.7,651.9L434.3,651.4L438.0,650.3L441.7,649.2L445.3,648.4L449.0,647.8L452.7,647.1L456.4,646.6L460.0,646.6L463.7,647.3L467.4,648.2L471.0,648.7L474.7,649.0L478.4,649.5L482.1,650.5L485.7,651.3L489.4,651.7L493.1,651.9L496.8,652.1L500.4,652.5L504.1,653.1L507.8,653.6L511.4,653.8L515.1,653.9L518.8,654.1L522.5,654.4L526.1,654.5L529.8,654.5L533.5,654.5L537.1,654.6L540.8,654.7L544.5,654.8L548.2,654.9L551.8,655.1L555.5,655.3"/>
<path d="M203.0,655.3L206.7,655.9L210.3,656.7L214.0,657.7L217.7,658.6L221.4,659.4L225.0,660.1L228.7,660.7L232.4,661.4L236.0,661.8L239.7,661.8L243.4,661.1L247.1,660.0L250.7,659.0L254.4,658.3L258.1,658.1L261.8,657.9L265.4,657.4L269.1,656.5L272.8,655.8L276.4,655.5L280.1,655.5L283.8,655.5L287.5,655.3L291.1,655.3L294.8,655.4L298.5,655.6L302.1,656.2L305.8,657.1L309.5,657.9L313.2,658.3L316.8,658.6L320.5,658.8L324.2,658.8L327.8,658.2L331.5,657.0L335.2,655.8L338.9,655.3L342.5,655.2L346.2,655.3L349.9,654.9L353.5,654.2L357.2,653.5L360.9,653.1L364.6,652.8L368.2,652.3L371.9,652.0L375.6,651.7L379.2,651.4L382.9,651.4L386.6,652.2L390.3,653.7L393.9,655.3L397.6,656.4L401.3,657.0L405.0,657.3L408.6,657.4L412.3,657.1L416.0,656.5L419.6,655.9L423.3,655.8L427.0,655.9L430.7,655.9L434.3,655.8L438.0,655.7L441.7,655.1L445.3,654.1L449.0,653.2L452.7,652.9L456.4,653.0L460.0,652.9L463.7,652.4L467.4,651.8L471.0,651.7L474.7,652.2L478.4,652.7L482.1,653.2L485.7,653.7L489.4,653.9L493.1,653.7L496.8,653.3L500.4,652.8L504.1,652.6L507.8,652.7L511.4,653.0L515.1,653.1L518.8,653.0L522.5,653.0L526.1,653.1L529.8,653.3L533.5,653.5L537.1,653.7L540.8,654.1L544.5,654.6L548.2,655.0L551.8,655.2L555.5,655.3"/>
<path d="M203.0,655.3L206.7,653.9L210.3,653.2L214.0,652.8L217.7,652.6L221.4,652.2L225.0,651.7L228.7,651.0L232.4,650.4L236.0,650.3L239.7,650.8L243.4,651.7L247.1,652.5L250.7,652.9L254.4,653.0L258.1,652.8L261.8,652.2L265.4,651.4L269.1,650.8L272.8,650.7L276.4,651.1L280.1,652.0L283.8,652.9L287.5,653.6L291.1,654.1L294.8,654.5L298.5,654.8L302.1,655.5L305.8,656.2L309.5,656.8L313.2,656.8L316.8,656.3L320.5,655.9L324.2,656.0L327.8,656.3L331.5,656.5L335.2,656.4L338.9,656.0L342.5,655.6L346.2,655.4L349.9,655.3L353.5,655.5L357.2,655.9L360.9,656.2L364.6,656.3L368.2,656.2L371.9,656.0L375.6,655.8L379.2,655.8L382.9,656.2L386.6,657.0L390.3,657.5L393.9,657.3L397.6,656.8L401.3,656.8L405.0,657.3L408.6,657.9L412.3,658.0L416.0,657.5L419.6,656.4L423.3,655.1L427.0,654.0L430.7,653.3L434.3,653.1L438.0,653.2L441.7,653.1L445.3,652.9L449.0,652.4L452.7,651.9L456.4,651.2L460.0,650.5L463.7,649.8L467.4,649.3L471.0,649.4L474.7,650.1L478.4,650.9L482.1,651.7L485.7,652.3L489.4,652.6L493.1,652.4L496.8,652.0L500.4,651.7L504.1,651.8L507.8,652.1L511.4,652.4L515.1,652.5L518.8,652.4L522.5,652.4L526.1,652.7L529.8,653.1L533.5,653.5L537.1,653.9L540.8,654.3L544.5,654.7L548.2,655.0L551.8,655.2L555.5,655.3"/>
<path d="M203.0,655.3L206.7,655.9L210.3,656.3L214.0,656.6L217.7,656.8L221.4,656.9L225.0,656.8L228.7,656.6L232.4,656.2L236.0,655.8L239.7,655.3L243.4,654.7L247.1,653.9L250.7,652.8L254.4,651.3L258.1,649.9L261.8,649.1L265.4,648.6L269.1,647.8L272.8,646.4L276.4,644.9L280.1,644.1L283.8,644.3L287.5,645.1L291.1,646.3L294.8,647.1L298.5,647.5L302.1,647.6L305.8,647.9L309.5,648.9L313.2,650.0L316.8,650.8L320.5,650.9L324.2,650.3L327.8,649.5L331.5,649.1L335.2,649.4L338.9,649.9L342.5,649.9L346.2,649.3L349.9,648.5L353.5,647.9L357.2,647.7L360.9,648.1L364.6,648.8L368.2,649.5L371.9,650.0L375.6,650.7L379.2,651.5L382.9,652.1L386.6,652.3L390.3,651.8L393.9,650.9L397.6,649.9L401.3,649.2L405.0,649.0L408.6,649.4L412.3,650.4L416.0,651.6L419.6,652.9L423.3,654.2L427.0,655.3L430.7,655.8L434.3,655.5L438.0,655.0L441.7,654.8L445.3,655.3L449.0,655.9L452.7,656.1L456.4,655.3L460.0,653.6L463.7,651.5L467.4,649.7L471.0,648.5L474.7,648.2L478.4,648.7L482.1,649.6L485.7,650.6L489.4,651.6L493.1,652.4L496.8,652.9L500.4,653.1L504.1,653.1L507.8,653.1L511.4,653.4L515.1,653.8L518.8,654.3L522.5,654.6L526.1,654.8L529.8,655.0L533.5,655.2L537.1,655.2L540.8,655.2L544.5,655.2L548.2,655.2L551.8,655.3L555.5,655.3"/>
<path d="M203.0,655.3L206.7,655.8L210.3,656.2L214.0,656.6L217.7,656.8L221.4,657.1L225.0,657.5L228.7,657.9L232.4,658.4L236.0,658.9L239.7,659.4L243.4,659.6L247.1,659.6L250.7,659.5L254.4,659.4L258.1,659.3L261.8,659.2L265.4,659.2L269.1,659.3L272.8,659.5L276.4,659.8L280.1,660.4L283.8,660.9L287.5,661.0L291.1,660.6L294.8,660.3L298.5,660.4L302.1,660.5L305.8,660.3L309.5,660.0L313.2,659.9L316.8,659.9L320.5,660.3L324.2,660.9L327.8,661.7L331.5,662.4L335.2,662.6L338.9,662.1L342.5,661.2L346.2,660.6L349.9,660.5L353.5,661.0L357.2,661.7L360.9,662.3L364.6,662.6L368.2,662.4L371.9,662.1L375.6,662.3L379.2,663.0L382.9,663.9L386.6,664.5L390.3,664.8L393.9,664.9L397.6,665.2L401.3,665.8L405.0,666.7L408.6,667.5L412.3,667.7L416.0,666.8L419.6,665.3L423.3,663.6L427.0,662.3L430.7,661.2L434.3,660.4L438.0,660.1L441.7,660.4L445.3,661.2L449.0,662.2L452.7,663.1L456.4,663.9L460.0,664.6L463.7,665.2L467.4,665.7L471.0,666.1L474.7,666.2L478.4,665.7L482.1,664.7L485.7,663.4L489.4,662.1L493.1,661.2L496.8,660.6L500.4,660.1L504.1,659.6L507.8,659.1L511.4,658.6L515.1,658.1L518.8,657.5L522.5,657.1L526.1,656.8L529.8,656.7L533.5,656.7L537.1,656.7L540.8,656.5L544.5,656.3L548.2,656.0L551.8,655.7L555.5,655.3"/>
<path d="M203.0,655.3L206.7,656.1L210.3,656.6L214.0,657.3L217.7,658.1L221.4,658.9L225.0,659.3L228.7,659.3L232.4,659.4L236.0,659.7L239.7,659.8L243.4,659.4L247.1,658.3L250.7,656.9L254.4,655.5L258.1,654.1L261.8,652.8L265.4,651.9L269.1,651.4L272.8,650.9L276.4,650.0L280.1,648.9L283.8,647.6L287.5,646.4L291.1,645.6L294.8,645.2L298.5,645.4L302.1,646.3L305.8,647.4L309.5,648.0L313.2,647.9L316.8,647.6L320.5,647.4L324.2,647.1L327.8,646.8L331.5,646.3L335.2,646.1L338.9,646.0L342.5,646.0L346.2,646.4L349.9,647.3L353.5,648.7L357.2,649.8L360.9,650.0L364.6,649.7L368.2,649.7L371.9,650.4L375.6,651.3L379.2,651.6L382.9,651.4L386.6,651.0L390.3,651.2L393.9,651.9L397.6,652.7L401.3,653.2L405.0,653.5L408.6,653.4L412.3,653.0L416.0,652.5L419.6,652.4L423.3,653.0L427.0,654.3L430.7,655.5L434.3,656.1L438.0,655.6L441.7,654.4L445.3,652.9L449.0,651.8L452.7,651.0L456.4,650.3L460.0,649.4L463.7,648.2L467.4,646.8L471.0,645.7L474.7,644.9L478.4,644.4L482.1,644.5L485.7,645.6L489.4,647.5L493.1,649.6L496.8,651.4L500.4,652.9L504.1,654.2L507.8,655.4L511.4,656.2L515.1,656.7L518.8,656.7L522.5,656.7L526.1,656.6L529.8,656.4L533.5,656.2L537.1,655.9L540.8,655.7L544.5,655.6L548.2,655.4L551.8,655.3L555.5,655.3"/>
<path d="M203.0,655.3L206.7,656.0L210.3,656.4L214.0,656.3L217.7,656.0L221.4,655.5L225.0,654.9L228.7,654.4L232.4,654.0L236.0,653.8L239.7,653.7L243.4,653.6L247.1,653.6L250.7,653.8L254.4,654.4L258.1,655.3L261.8,656.6L265.4,657.7L269.1,658.2L272.8,657.7L276.4,656.4L280.1,655.2L283.8,654.6L287.5,654.7L291.1,655.2L294.8,655.2L298.5,654.6L302.1,653.8L305.8,653.3L309.5,653.4L313.2,653.9L316.8,655.0L320.5,656.7L324.2,658.3L327.8,659.4L331.5,659.7L335.2,659.8L338.9,659.8L342.5,659.7L346.2,659.3L349.9,658.4L353.5,657.0L357.2,655.7L360.9,654.8L364.6,654.2L368.2,653.5L371.9,652.7L375.6,651.6L379.2,650.2L382.9,649.1L386.6,648.8L390.3,649.3L393.9,649.9L397.6,650.2L401.3,650.4L405.0,650.8L408.6,651.5L412.3,652.4L416.0,653.6L419.6,654.5L423.3,654.6L427.0,653.8L430.7,652.6L434.3,651.5L438.0,651.2L441.7,651.7L445.3,652.3L449.0,652.8L452.7,653.3L456.4,654.2L460.0,655.4L463.7,656.2L467.4,656.4L471.0,656.1L474.7,655.8L478.4,655.4L482.1,655.1L485.7,654.6L489.4,654.2L493.1,654.0L496.8,654.1L500.4,654.2L504.1,654.4L507.8,654.5L511.4,654.8L515.1,655.0L518.8,655.0L522.5,655.0L526.1,655.0L529.8,655.2L533.5,655.5L537.1,655.7L540.8,655.7L544.5,655.7L548.2,655.6L551.8,655.4L555.5,655.3"/>
<path d="M203.0,655.3L206.7,656.0L210.3,656.0L214.0,655.7L217.7,655.3L221.4,655.0L225.0,654.7L228.7,654.2L232.4,653.5L236.0,653.1L239.7,652.7L243.4,652.2L247.1,651.2L250.7,650.2L254.4,649.6L258.1,649.3L261.8,648.9L265.4,648.2L269.1,647.5L272.8,647.1L276.4,646.8L280.1,646.2L283.8,645.3L287.5,644.1L291.1,643.1L294.8,642.7L298.5,643.2L302.1,644.5L305.8,646.0L309.5,647.3L313.2,648.1L316.8,648.6L320.5,649.1L324.2,649.9L327.8,650.8L331.5,651.1L335.2,650.7L338.9,649.8L342.5,648.9L346.2,648.3L349.9,647.7L353.5,647.2L357.2,646.7L360.9,646.4L364.6,646.7L368.2,647.7L371.9,648.9L375.6,649.9L379.2,650.6L382.9,651.1L386.6,651.7L390.3,652.6L393.9,653.3L397.6,653.6L401.3,653.6L405.0,653.2L408.6,652.7L412.3,652.5L416.0,652.8L419.6,653.7L423.3,654.5L427.0,654.4L430.7,653.5L434.3,652.7L438.0,652.3L441.7,652.3L445.3,652.0L449.0,651.1L452.7,650.0L456.4,649.5L460.0,649.7L463.7,649.7L467.4,649.1L471.0,648.4L474.7,648.1L478.4,648.1L482.1,648.0L485.7,648.0L489.4,648.4L493.1,649.2L496.8,650.0L500.4,650.6L504.1,651.0L507.8,651.4L511.4,651.8L515.1,652.4L518.8,653.1L522.5,653.8L526.1,654.4L529.8,654.7L533.5,654.9L537.1,654.8L540.8,654.8L544.5,654.9L548.2,655.1L551.8,655.2L555.5,655.3"/>
<path d="M203.0,655.3L206.7,655.3L210.3,655.6L214.0,656.1L217.7,656.9L221.4,657.8L225.0,658.5L228.7,658.9L232.4,659.0L236.0,659.3L239.7,659.6L243.4,659.8L247.1,660.0L250.7,660.3L254.4,660.7L258.1,660.7L261.8,660.2L265.4,659.9L269.1,660.1L272.8,660.8L276.4,661.4L280.1,662.0L283.8,662.4L287.5,662.2L291.1,661.6L294.8,661.3L298.5,661.3L302.1,661.4L305.8,661.3L309.5,660.8L313.2,659.9L316.8,659.1L320.5,658.3L324.2,658.1L327.8,658.4L331.5,658.5L335.2,657.9L338.9,657.0L342.5,656.2L346.2,656.0L349.9,656.3L353.5,656.6L357.2,656.9L360.9,656.9L364.6,656.8L368.2,656.6L371.9,656.5L375.6,656.4L379.2,655.9L382.9,654.8L386.6,654.2L390.3,654.3L393.9,654.7L397.6,654.6L401.3,654.1L405.0,653.6L408.6,653.5L412.3,653.2L416.0,652.6L419.6,651.9L423.3,651.4L427.0,651.1L430.7,650.5L434.3,649.5L438.0,648.8L441.7,648.8L445.3,649.2L449.0,649.5L452.7,649.6L456.4,649.9L460.0,650.8L463.7,651.8L467.4,652.5L471.0,652.7L474.7,652.3L478.4,651.8L482.1,651.5L485.7,651.7L489.4,652.1L493.1,652.3L496.8,652.0L500.4,651.4L504.1,651.0L507.8,651.1L511.4,651.8L515.1,652.6L518.8,653.4L522.5,654.0L526.1,654.4L529.8,654.8L533.5,655.1L537.1,655.3L540.8,655.3L544.5,655.3L548.2,655.3L551.8,655.3L555.5,655.3"/>
<path d="M203.0,655.3L206.7,654.4L210.3,654.0L214.0,653.8L217.7,653.8L221.4,654.4L225.0,655.1L228.7,655.5L232.4,655.6L236.0,655.6L239.7,655.8L243.4,656.5L247.1,657.4L250.7,658.5L254.4,659.7L258.1,661.1L261.8,662.7L265.4,663.9L269.1,664.5L272.8,664.5L276.4,664.2L280.1,663.7L283.8,663.4L287.5,663.0L291.1,662.7L294.8,662.9L298.5,663.5L302.1,664.2L305.8,665.0L309.5,665.4L313.2,665.1L316.8,664.1L320.5,662.8L324.2,661.9L327.8,662.0L331.5,662.5L335.2,662.7L338.9,662.3L342.5,661.9L346.2,661.9L349.9,662.5L353.5,663.2L357.2,663.8L360.9,664.6L364.6,665.7L368.2,666.9L371.9,668.1L375.6,669.3L379.2,670.6L382.9,671.8L386.6,672.4L390.3,672.2L393.9,671.4L397.6,670.6L401.3,670.4L405.0,670.4L408.6,669.9L412.3,668.2L416.0,665.9L419.6,664.1L423.3,663.4L427.0,663.1L430.7,662.6L434.3,661.8L438.0,661.0L441.7,660.0L445.3,659.0L449.0,658.5L452.7,658.4L456.4,658.5L460.0,658.4L463.7,658.3L467.4,658.2L471.0,658.0L474.7,657.7L478.4,657.4L482.1,657.1L485.7,656.3L489.4,655.2L493.1,654.2L496.8,653.4L500.4,652.9L504.1,652.6L507.8,652.5L511.4,652.7L515.1,653.3L518.8,653.9L522.5,654.1L526.1,654.1L529.8,654.3L533.5,654.6L537.1,654.9L540.8,655.0L544.5,655.1L548.2,655.2L551.8,655.2L555.5,655.3"/>
<path d="M203.0,655.3L206.7,654.3L210.3,653.9L214.0,653.7L217.7,653.2L221.4,652.5L225.0,652.0L228.7,651.8L232.4,651.8L236.0,651.6L239.7,651.3L243.4,651.1L247.1,651.2L250.7,651.5L254.4,651.9L258.1,652.4L261.8,652.5L265.4,652.1L269.1,651.7L272.8,651.6L276.4,651.7L280.1,651.6L283.8,651.3L287.5,651.0L291.1,651.3L294.8,652.0L298.5,652.5L302.1,652.4L305.8,652.0L309.5,652.1L313.2,653.0L316.8,654.6L320.5,656.3L324.2,657.5L327.8,658.4L331.5,659.4L335.2,660.7L338.9,661.6L342.5,661.7L346.2,661.3L349.9,660.7L353.5,660.0L357.2,659.6L360.9,659.5L364.6,659.5L368.2,659.2L371.9,658.6L375.6,658.1L379.2,657.8L382.9,657.7L386.6,657.9L390.3,658.4L393.9,659.0L397.6,659.0L401.3,658.4L405.0,657.4L408.6,656.8L412.3,656.6L416.0,656.3L419.6,655.5L423.3,654.5L427.0,653.6L430.7,653.1L434.3,652.7L438.0,652.5L441.7,652.7L445.3,653.3L449.0,654.3L452.7,655.5L456.4,656.3L460.0,656.1L463.7,654.9L467.4,653.1L471.0,651.3L474.7,649.8L478.4,648.6L482.1,647.7L485.7,647.1L489.4,647.1L493.1,647.6L496.8,648.0L500.4,648.5L504.1,649.1L507.8,649.8L511.4,650.5L515.1,651.1L518.8,651.7L522.5,652.4L526.1,653.0L529.8,653.4L533.5,653.6L537.1,653.7L540.8,654.0L544.5,654.4L548.2,654.8L551.8,655.1L555.5,655.3"/>
<path d="M203.0,655.3L206.7,655.5L210.3,655.8L214.0,656.2L217.7,656.6L221.4,656.8L225.0,657.2L228.7,657.7L232.4,658.1L236.0,658.1L239.7,657.7L243.4,657.0L247.1,656.3L250.7,655.4L254.4,654.4L258.1,653.4L261.8,652.2L265.4,651.1L269.1,649.9L272.8,648.6L276.4,647.1L280.1,645.7L283.8,644.4L287.5,643.3L291.1,642.6L294.8,642.2L298.5,641.6L302.1,641.0L305.8,640.5L309.5,640.4L313.2,640.0L316.8,639.1L320.5,638.1L324.2,637.5L327.8,637.4L331.5,637.4L335.2,637.5L338.9,637.5L342.5,637.1L346.2,636.1L349.9,634.8L353.5,633.5L357.2,632.8L360.9,632.5L364.6,632.4L368.2,632.4L371.9,632.2L375.6,632.1L379.2,632.1L382.9,632.6L386.6,633.6L390.3,634.8L393.9,635.8L397.6,636.7L401.3,637.7L405.0,639.0L408.6,640.3L412.3,641.4L416.0,642.0L419.6,642.4L423.3,643.3L427.0,644.3L430.7,645.1L434.3,645.2L438.0,644.9L441.7,644.5L445.3,644.5L449.0,644.8L452.7,645.3L456.4,645.4L460.0,645.5L463.7,645.8L467.4,646.5L471.0,647.2L474.7,647.9L478.4,648.6L482.1,649.4L485.7,650.3L489.4,651.1L493.1,652.2L496.8,653.4L500.4,654.4L504.1,654.8L507.8,654.9L511.4,655.1L515.1,655.6L518.8,656.1L522.5,656.3L526.1,656.1L529.8,655.9L533.5,655.7L537.1,655.5L540.8,655.4L544.5,655.4L548.2,655.3L551.8,655.3L555.5,655.3"/>
<path d="M203.0,655.3L206.7,654.9L210.3,654.5L214.0,654.1L217.7,653.4L221.4,652.6L225.0,651.6L228.7,650.4L232.4,649.4L236.0,648.5L239.7,648.0L243.4,647.5L247.1,646.8L250.7,645.7L254.4,644.5L258.1,643.5L261.8,642.9L265.4,642.3L269.1,641.4L272.8,640.0L276.4,638.7L280.1,638.1L283.8,638.5L287.5,639.3L291.1,639.9L294.8,639.7L298.5,639.2L302.1,639.3L305.8,640.3L309.5,641.5L313.2,642.1L316.8,641.9L320.5,641.5L324.2,641.6L327.8,642.2L331.5,643.1L335.2,644.0L338.9,644.8L342.5,645.5L346.2,646.2L349.9,647.0L353.5,647.7L357.2,648.3L360.9,648.8L364.6,649.4L368.2,650.1L371.9,650.7L375.6,651.0L379.2,651.0L382.9,651.1L386.6,651.5L390.3,652.1L393.9,653.0L397.6,653.8L401.3,654.7L405.0,655.7L408.6,657.2L412.3,659.0L416.0,660.7L419.6,662.0L423.3,662.7L427.0,662.9L430.7,662.7L434.3,662.2L438.0,661.4L441.7,660.7L445.3,659.9L449.0,659.4L452.7,659.3L456.4,659.9L460.0,660.6L463.7,660.9L467.4,660.8L471.0,660.0L474.7,658.5L478.4,656.4L482.1,654.2L485.7,652.5L489.4,651.7L493.1,651.6L496.8,651.8L500.4,651.9L504.1,652.0L507.8,652.0L511.4,651.9L515.1,651.9L518.8,652.1L522.5,652.3L526.1,652.6L529.8,653.1L533.5,653.4L537.1,653.7L540.8,654.1L544.5,654.4L548.2,654.8L551.8,655.1L555.5,655.3"/>
<path d="M203.0,655.3L206.7,655.5L210.3,655.6L214.0,655.7L217.7,656.0L221.4,656.4L225.0,656.7L228.7,657.0L232.4,657.0L236.0,656.6L239.7,655.9L243.4,655.0L247.1,654.1L250.7,653.0L254.4,651.7L258.1,650.0L261.8,648.1L265.4,646.5L269.1,645.6L272.8,645.5L276.4,645.7L280.1,645.8L283.8,645.8L287.5,646.0L291.1,646.3L294.8,646.2L298.5,646.2L302.1,646.6L305.8,647.6L309.5,648.6L313.2,649.2L316.8,649.5L320.5,649.7L324.2,649.8L327.8,649.9L331.5,650.1L335.2,650.1L338.9,650.2L342.5,650.4L346.2,651.1L349.9,652.0L353.5,652.6L357.2,653.1L360.9,653.6L364.6,654.2L368.2,654.7L371.9,655.3L375.6,656.4L379.2,657.7L382.9,658.9L386.6,659.5L390.3,659.9L393.9,660.5L397.6,661.5L401.3,662.8L405.0,663.9L408.6,664.9L412.3,665.6L416.0,666.0L419.6,666.2L423.3,666.4L427.0,666.7L430.7,667.0L434.3,667.2L438.0,667.0L441.7,666.5L445.3,666.0L449.0,665.9L452.7,665.8L456.4,665.2L460.0,664.2L463.7,663.3L467.4,662.7L471.0,662.4L474.7,662.0L478.4,662.1L482.1,662.1L485.7,661.6L489.4,660.8L493.1,660.1L496.8,659.8L500.4,659.7L504.1,659.3L507.8,658.9L511.4,658.7L515.1,658.6L518.8,658.4L522.5,658.2L526.1,658.0L529.8,657.8L533.5,657.6L537.1,657.2L540.8,656.7L544.5,656.3L548.2,655.9L551.8,655.6L555.5,655.3"/>
<path d="M203.0,655.3L206.7,655.0L210.3,654.9L214.0,654.9L217.7,655.0L221.4,655.2L225.0,655.5L228.7,655.9L232.4,656.1L236.0,656.1L239.7,655.9L243.4,656.0L247.1,656.3L250.7,656.7L254.4,657.0L258.1,657.2L261.8,657.4L265.4,657.4L269.1,657.3L272.8,657.2L276.4,657.4L280.1,657.8L283.8,658.2L287.5,658.5L291.1,658.8L294.8,659.0L298.5,659.1L302.1,659.1L305.8,658.8L309.5,658.6L313.2,658.5L316.8,658.8L320.5,659.3L324.2,660.1L327.8,661.3L331.5,663.0L335.2,664.6L338.9,665.9L342.5,667.1L346.2,668.5L349.9,669.6L353.5,669.9L357.2,669.5L360.9,668.9L364.6,668.5L368.2,667.9L371.9,666.9L375.6,666.2L379.2,666.0L382.9,665.9L386.6,665.4L390.3,664.3L393.9,662.7L397.6,661.4L401.3,660.7L405.0,660.5L408.6,660.2L412.3,659.6L416.0,658.6L419.6,657.9L423.3,657.6L427.0,657.7L430.7,657.8L434.3,657.8L438.0,657.8L441.7,658.0L445.3,658.5L449.0,658.8L452.7,658.6L456.4,658.0L460.0,657.3L463.7,656.9L467.4,656.8L471.0,656.9L474.7,657.0L478.4,657.2L482.1,657.3L485.7,657.5L489.4,657.7L493.1,657.9L496.8,658.0L500.4,658.4L504.1,658.8L507.8,659.1L511.4,659.1L515.1,658.8L518.8,658.5L522.5,658.1L526.1,657.6L529.8,657.1L533.5,656.7L537.1,656.4L540.8,656.1L544.5,655.9L548.2,655.7L551.8,655.5L555.5,655.3"/>
<path d="M203.0,655.3L206.7,656.3L210.3,656.9L214.0,657.2L217.7,657.3L221.4,657.5L225.0,658.0L228.7,659.0L232.4,659.8L236.0,660.3L239.7,660.3L243.4,660.2L247.1,660.0L250.7,659.7L254.4,659.2L258.1,658.4L261.8,657.4L265.4,656.7L269.1,656.6L272.8,657.3L276.4,658.5L280.1,659.5L283.8,659.8L287.5,659.5L291.1,659.1L294.8,658.7L298.5,658.0L302.1,657.3L305.8,657.2L309.5,658.0L313.2,659.1L316.8,660.1L320.5,660.8L324.2,661.2L327.8,661.3L331.5,661.2L335.2,660.9L338.9,660.2L342.5,659.3L346.2,658.3L349.9,657.2L353.5,656.3L357.2,655.8L360.9,655.3L364.6,654.6L368.2,653.7L371.9,652.9L375.6,652.5L379.2,652.4L382.9,652.6L386.6,653.0L390.3,653.4L393.9,653.7L397.6,653.9L401.3,654.1L405.0,654.6L408.6,655.3L412.3,656.0L416.0,656.6L419.6,657.0L423.3,657.2L427.0,657.1L430.7,656.5L434.3,654.9L438.0,652.1L441.7,648.9L445.3,646.2L449.0,644.2L452.7,642.4L456.4,640.6L460.0,639.0L463.7,638.1L467.4,638.0L471.0,638.8L474.7,640.4L478.4,642.1L482.1,643.5L485.7,644.5L489.4,645.3L493.1,645.9L496.8,646.4L500.4,647.0L504.1,647.7L507.8,648.7L511.4,649.9L515.1,650.9L518.8,651.8L522.5,652.5L526.1,653.1L529.8,653.8L533.5,654.3L537.1,654.8L540.8,655.1L544.5,655.3L548.2,655.3L551.8,655.3L555.5,655.3"/>
<path d="M203.0,655.3L206.7,656.8L210.3,657.2L214.0,657.3L217.7,657.3L221.4,657.3L225.0,657.4L228.7,657.5L232.4,657.4L236.0,657.3L239.7,657.0L243.4,656.7L247.1,656.4L250.7,656.3L254.4,656.4L258.1,656.7L261.8,656.7L265.4,656.5L269.1,656.0L272.8,655.4L276.4,654.8L280.1,654.6L283.8,654.9L287.5,655.3L291.1,655.3L294.8,654.4L298.5,652.8L302.1,650.8L305.8,649.4L309.5,648.8L313.2,648.8L316.8,649.4L320.5,650.3L324.2,651.1L327.8,651.5L331.5,651.7L335.2,651.8L338.9,651.4L342.5,650.7L346.2,650.1L349.9,649.7L353.5,649.5L357.2,649.1L360.9,648.1L364.6,646.7L368.2,645.8L371.9,645.9L375.6,646.7L379.2,647.9L382.9,648.9L386.6,649.5L390.3,649.1L393.9,648.1L397.6,647.2L401.3,646.8L405.0,647.0L408.6,647.3L412.3,647.5L416.0,647.9L419.6,648.6L423.3,649.6L427.0,650.3L430.7,650.9L434.3,651.8L438.0,653.4L441.7,655.0L445.3,656.0L449.0,656.2L452.7,656.0L456.4,656.1L460.0,656.7L463.7,657.6L467.4,658.4L471.0,658.6L474.7,658.1L478.4,657.1L482.1,656.3L485.7,655.7L489.4,655.4L493.1,655.5L496.8,655.9L500.4,656.3L504.1,656.7L507.8,656.8L511.4,656.7L515.1,656.3L518.8,655.9L522.5,655.6L526.1,655.4L529.8,655.3L533.5,655.3L537.1,655.3L540.8,655.4L544.5,655.4L548.2,655.4L551.8,655.4L555.5,655.3"/>
<path d="M203.0,655.3L206.7,654.6L210.3,654.2L214.0,654.0L217.7,653.9L221.4,653.8L225.0,653.7L228.7,653.6L232.4,653.5L236.0,653.7L239.7,654.0L243.4,654.6L247.1,655.4L250.7,656.4L254.4,657.1L258.1,657.6L261.8,657.9L265.4,658.3L269.1,658.8L272.8,659.4L276.4,659.9L280.1,660.6L283.8,661.4L287.5,662.4L291.1,663.0L294.8,662.9L298.5,662.2L302.1,661.2L305.8,660.0L309.5,658.6L313.2,657.4L316.8,656.5L320.5,656.3L324.2,656.8L327.8,657.2L331.5,656.9L335.2,655.7L338.9,654.3L342.5,653.4L346.2,652.9L349.9,652.6L353.5,652.2L357.2,651.8L360.9,651.3L364.6,651.0L368.2,650.9L371.9,650.6L375.6,650.2L379.2,650.0L382.9,650.3L386.6,651.2L390.3,652.3L393.9,652.9L397.6,652.9L401.3,652.7L405.0,653.0L408.6,653.5L412.3,653.9L416.0,654.0L419.6,653.9L423.3,654.1L427.0,654.7L430.7,655.2L434.3,655.3L438.0,655.2L441.7,654.8L445.3,654.3L449.0,654.0L452.7,653.8L456.4,653.5L460.0,652.7L463.7,651.5L467.4,650.4L471.0,649.7L474.7,649.5L478.4,649.4L482.1,649.3L485.7,649.5L489.4,650.0L493.1,650.5L496.8,650.7L500.4,651.0L504.1,651.5L507.8,652.1L511.4,652.4L515.1,652.6L518.8,652.8L522.5,653.3L526.1,653.8L529.8,654.2L533.5,654.4L537.1,654.4L540.8,654.5L544.5,654.6L548.2,654.9L551.8,655.1L555.5,655.3"/>
<path d="M203.0,655.3L206.7,656.5L210.3,657.4L214.0,658.3L217.7,658.9L221.4,659.1L225.0,658.9L228.7,658.7L232.4,658.5L236.0,658.3L239.7,657.8L243.4,657.0L247.1,656.1L250.7,655.3L254.4,654.7L258.1,654.1L261.8,653.3L265.4,652.1L269.1,650.6L272.8,649.4L276.4,648.4L280.1,647.7L283.8,647.6L287.5,648.1L291.1,649.5L294.8,651.6L298.5,653.8L302.1,655.6L305.8,657.1L309.5,658.7L313.2,660.3L316.8,661.5L320.5,662.3L324.2,662.8L327.8,663.0L331.5,662.7L335.2,661.9L338.9,661.5L342.5,661.7L346.2,662.3L349.9,662.8L353.5,662.9L357.2,662.8L360.9,662.8L364.6,663.2L368.2,663.8L371.9,664.4L375.6,664.6L379.2,664.8L382.9,665.3L386.6,666.0L390.3,666.6L393.9,667.0L397.6,667.0L401.3,666.5L405.0,665.6L408.6,664.8L412.3,664.5L416.0,664.5L419.6,664.8L423.3,664.9L427.0,664.7L430.7,664.3L434.3,663.9L438.0,663.6L441.7,663.4L445.3,663.2L449.0,663.1L452.7,662.7L456.4,661.7L460.0,660.0L463.7,658.3L467.4,657.3L471.0,657.1L474.7,657.2L478.4,656.7L482.1,655.3L485.7,653.8L489.4,652.9L493.1,652.6L496.8,652.7L500.4,653.0L504.1,653.4L507.8,653.8L511.4,653.9L515.1,653.9L518.8,653.7L522.5,653.3L526.1,652.9L529.8,652.8L533.5,653.1L537.1,653.6L540.8,654.0L544.5,654.4L548.2,654.7L551.8,655.1L555.5,655.3"/>
<path d="M203.0,655.3L206.7,657.0L210.3,657.8L214.0,658.4L217.7,658.9L221.4,659.2L225.0,659.2L228.7,659.0L232.4,658.7L236.0,658.4L239.7,658.5L243.4,658.9L247.1,659.2L250.7,659.1L254.4,658.6L258.1,657.9L261.8,657.1L265.4,656.5L269.1,656.1L272.8,656.1L276.4,656.5L280.1,656.8L283.8,656.6L287.5,656.3L291.1,656.7L294.8,657.8L298.5,659.0L302.1,659.6L305.8,659.7L309.5,659.8L313.2,660.4L316.8,660.9L320.5,661.0L324.2,660.8L327.8,660.5L331.5,660.5L335.2,660.6L338.9,660.8L342.5,661.2L346.2,661.8L349.9,662.4L353.5,662.9L357.2,663.0L360.9,662.6L364.6,662.2L368.2,662.2L371.9,662.7L375.6,663.6L379.2,664.4L382.9,664.6L386.6,663.8L390.3,662.2L393.9,660.7L397.6,660.0L401.3,659.9L405.0,660.1L408.6,660.4L412.3,661.0L416.0,661.5L419.6,661.6L423.3,661.2L427.0,660.7L430.7,660.0L434.3,659.0L438.0,657.9L441.7,656.9L445.3,656.8L449.0,657.9L452.7,659.4L456.4,660.2L460.0,660.3L463.7,660.3L467.4,660.6L471.0,661.0L474.7,661.1L478.4,660.8L482.1,660.6L485.7,660.8L489.4,661.2L493.1,661.1L496.8,660.3L500.4,659.3L504.1,658.8L507.8,658.6L511.4,658.8L515.1,658.9L518.8,659.1L522.5,659.1L526.1,658.9L529.8,658.3L533.5,657.6L537.1,656.9L540.8,656.4L544.5,656.1L548.2,655.9L551.8,655.6L555.5,655.3"/>
<path d="M203.0,655.3L206.7,654.9L210.3,654.4L214.0,653.9L217.7,653.2L221.4,652.7L225.0,652.4L228.7,652.0L232.4,651.5L236.0,650.9L239.7,650.5L243.4,650.1L247.1,649.8L250.7,649.6L254.4,649.5L258.1,649.4L261.8,649.3L265.4,649.2L269.1,649.0L272.8,648.7L276.4,648.3L280.1,647.9L283.8,647.6L287.5,647.6L291.1,648.5L294.8,650.1L298.5,651.7L302.1,652.5L305.8,652.0L309.5,650.5L313.2,648.6L316.8,647.3L320.5,646.6L324.2,646.5L327.8,646.8L331.5,647.4L335.2,648.0L338.9,648.6L342.5,649.0L346.2,648.9L349.9,648.6L353.5,648.2L357.2,648.1L360.9,648.8L364.6,650.1L368.2,651.5L371.9,652.5L375.6,653.2L379.2,653.8L382.9,654.2L386.6,654.5L390.3,654.9L393.9,655.1L397.6,655.0L401.3,654.6L405.0,654.3L408.6,654.2L412.3,654.0L416.0,653.6L419.6,653.5L423.3,653.8L427.0,654.1L430.7,653.9L434.3,653.4L438.0,652.8L441.7,652.6L445.3,652.9L449.0,653.5L452.7,653.6L456.4,652.9L460.0,652.1L463.7,651.4L467.4,650.9L471.0,650.5L474.7,649.9L478.4,649.5L482.1,649.6L485.7,650.2L489.4,650.9L493.1,651.6L496.8,652.0L500.4,652.5L504.1,653.1L507.8,653.5L511.4,653.8L515.1,653.8L518.8,654.0L522.5,654.2L526.1,654.5L529.8,654.8L533.5,655.1L537.1,655.3L540.8,655.4L544.5,655.4L548.2,655.4L551.8,655.4L555.5,655.3"/>
<path d="M203.0,655.3L206.7,653.3L210.3,652.2L214.0,651.4L217.7,650.8L221.4,650.2L225.0,649.4L228.7,648.5L232.4,647.7L236.0,647.2L239.7,646.8L243.4,646.7L247.1,647.0L250.7,647.5L254.4,648.1L258.1,648.8L261.8,649.6L265.4,650.5L269.1,651.3L272.8,651.9L276.4,652.0L280.1,651.7L283.8,650.9L287.5,649.8L291.1,648.8L294.8,648.2L298.5,648.4L302.1,648.9L305.8,649.1L309.5,648.8L313.2,648.3L316.8,647.8L320.5,647.5L324.2,647.5L327.8,647.5L331.5,647.2L335.2,646.9L338.9,646.9L342.5,647.2L346.2,647.7L349.9,648.1L353.5,648.6L357.2,649.5L360.9,651.0L364.6,652.9L368.2,654.4L371.9,655.0L375.6,655.0L379.2,654.8L382.9,654.7L386.6,654.5L390.3,654.2L393.9,653.8L397.6,653.3L401.3,653.0L405.0,653.0L408.6,653.0L412.3,652.6L416.0,652.0L419.6,651.7L423.3,651.8L427.0,652.5L430.7,654.0L434.3,655.9L438.0,657.6L441.7,658.7L445.3,659.3L449.0,660.1L452.7,661.3L456.4,662.5L460.0,663.1L463.7,662.6L467.4,661.6L471.0,660.5L474.7,659.6L478.4,658.7L482.1,657.9L485.7,657.2L489.4,656.8L493.1,656.7L496.8,657.0L500.4,657.7L504.1,658.3L507.8,658.3L511.4,657.9L515.1,657.3L518.8,657.0L522.5,656.9L526.1,656.9L529.8,656.9L533.5,656.8L537.1,656.4L540.8,656.0L544.5,655.7L548.2,655.5L551.8,655.4L555.5,655.3"/>
<path d="M203.0,655.3L206.7,654.7L210.3,654.6L214.0,654.4L217.7,654.2L221.4,653.9L225.0,654.0L228.7,654.4L232.4,655.1L236.0,655.6L239.7,655.8L243.4,655.6L247.1,655.1L250.7,654.6L254.4,654.1L258.1,653.5L261.8,652.8L265.4,651.9L269.1,651.2L272.8,650.7L276.4,650.4L280.1,650.0L283.8,649.5L287.5,649.1L291.1,649.0L294.8,648.9L298.5,648.2L302.1,647.5L305.8,647.0L309.5,646.7L313.2,646.2L316.8,645.3L320.5,644.0L324.2,642.6L327.8,641.4L331.5,640.6L335.2,640.4L338.9,640.6L342.5,641.1L346.2,641.9L349.9,642.7L353.5,643.9L357.2,645.4L360.9,647.0L364.6,648.1L368.2,648.9L371.9,649.6L375.6,650.2L379.2,650.4L382.9,650.3L386.6,650.1L390.3,649.8L393.9,649.7L397.6,650.0L401.3,650.9L405.0,651.5L408.6,651.4L412.3,651.0L416.0,650.5L419.6,650.5L423.3,651.4L427.0,653.0L430.7,654.5L434.3,655.5L438.0,656.0L441.7,656.5L445.3,656.9L449.0,656.8L452.7,656.3L456.4,655.5L460.0,655.0L463.7,654.8L467.4,655.1L471.0,655.7L474.7,656.2L478.4,656.3L482.1,656.1L485.7,655.7L489.4,655.4L493.1,655.3L496.8,655.4L500.4,655.8L504.1,656.1L507.8,656.3L511.4,656.3L515.1,656.3L518.8,656.4L522.5,656.6L526.1,656.7L529.8,656.5L533.5,656.2L537.1,655.8L540.8,655.5L544.5,655.3L548.2,655.2L551.8,655.2L555.5,655.3"/>
<path d="M203.0,655.3L206.7,656.3L210.3,657.0L214.0,657.6L217.7,658.2L221.4,658.8L225.0,659.4L228.7,660.0L232.4,660.7L236.0,661.3L239.7,661.7L243.4,662.3L247.1,663.2L250.7,664.4L254.4,665.5L258.1,666.4L261.8,667.1L265.4,667.5L269.1,667.7L272.8,667.8L276.4,668.1L280.1,668.5L283.8,668.5L287.5,667.9L291.1,666.7L294.8,665.7L298.5,665.4L302.1,665.7L305.8,666.3L309.5,667.0L313.2,667.6L316.8,667.9L320.5,667.8L324.2,667.6L327.8,667.8L331.5,668.4L335.2,669.1L338.9,669.7L342.5,669.8L346.2,669.9L349.9,670.2L353.5,670.5L357.2,670.5L360.9,670.4L364.6,670.3L368.2,670.0L371.9,669.3L375.6,668.2L379.2,666.9L382.9,666.0L386.6,665.6L390.3,665.4L393.9,665.0L397.6,664.5L401.3,663.9L405.0,663.0L408.6,662.1L412.3,661.3L416.0,660.8L419.6,660.3L423.3,659.7L427.0,658.9L430.7,658.0L434.3,657.4L438.0,657.5L441.7,658.0L445.3,658.2L449.0,657.5L452.7,656.4L456.4,655.6L460.0,655.4L463.7,655.6L467.4,655.8L471.0,656.0L474.7,656.4L478.4,656.9L482.1,657.4L485.7,657.8L489.4,658.2L493.1,658.3L496.8,658.2L500.4,658.0L504.1,657.6L507.8,657.1L511.4,656.6L515.1,656.2L518.8,656.0L522.5,656.0L526.1,655.9L529.8,655.8L533.5,655.6L537.1,655.3L540.8,655.2L544.5,655.2L548.2,655.3L551.8,655.3L555.5,655.3"/>
<path d="M203.0,655.3L206.7,655.0L210.3,654.9L214.0,655.1L217.7,655.6L221.4,656.0L225.0,656.4L228.7,656.4L232.4,656.1L236.0,655.9L239.7,655.7L243.4,655.6L247.1,655.4L250.7,655.4L254.4,656.0L258.1,656.9L261.8,657.8L265.4,658.6L269.1,659.6L272.8,660.7L276.4,661.2L280.1,661.3L283.8,661.2L287.5,660.7L291.1,659.9L294.8,659.1L298.5,658.3L302.1,657.5L305.8,656.6L309.5,655.9L313.2,655.8L316.8,656.3L320.5,656.8L324.2,656.8L327.8,656.4L331.5,655.8L335.2,655.1L338.9,654.5L342.5,654.0L346.2,653.4L349.9,652.5L353.5,651.5L357.2,651.0L360.9,651.2L364.6,651.9L368.2,652.5L371.9,653.0L375.6,653.4L379.2,653.9L382.9,653.9L386.6,653.4L390.3,652.5L393.9,651.6L397.6,651.2L401.3,651.2L405.0,651.5L408.6,652.1L412.3,652.6L416.0,653.2L419.6,654.0L423.3,655.2L427.0,656.0L430.7,655.7L434.3,654.7L438.0,653.7L441.7,653.4L445.3,653.8L449.0,654.6L452.7,655.3L456.4,655.5L460.0,655.2L463.7,654.4L467.4,653.9L471.0,654.0L474.7,654.7L478.4,655.4L482.1,655.6L485.7,655.5L489.4,655.3L493.1,655.3L496.8,655.4L500.4,655.6L504.1,655.8L507.8,656.0L511.4,656.2L515.1,656.3L518.8,656.2L522.5,656.1L526.1,656.1L529.8,656.0L533.5,655.8L537.1,655.6L540.8,655.4L544.5,655.3L548.2,655.2L551.8,655.2L555.5,655.3"/>
<path d="M203.0,655.3L206.7,655.0L210.3,654.7L214.0,654.5L217.7,654.3L221.4,654.0L225.0,653.7L228.7,653.3L232.4,653.2L236.0,653.3L239.7,653.5L243.4,653.7L247.1,653.8L250.7,653.5L254.4,652.7L258.1,651.3L261.8,650.0L265.4,649.3L269.1,649.2L272.8,649.5L276.4,649.7L280.1,649.2L283.8,648.3L287.5,647.5L291.1,647.5L294.8,648.5L298.5,650.0L302.1,651.3L305.8,652.1L309.5,652.2L313.2,652.0L316.8,651.5L320.5,650.9L324.2,650.2L327.8,649.3L331.5,648.4L335.2,647.4L338.9,646.4L342.5,645.8L346.2,645.9L349.9,646.3L353.5,646.4L357.2,646.0L360.9,645.2L364.6,644.4L368.2,643.7L371.9,643.6L375.6,644.0L379.2,644.5L382.9,644.8L386.6,644.7L390.3,644.6L393.9,645.3L397.6,646.9L401.3,648.4L405.0,648.9L408.6,648.6L412.3,648.2L416.0,648.5L419.6,649.7L423.3,651.7L427.0,654.1L430.7,656.1L434.3,657.2L438.0,657.6L441.7,657.7L445.3,657.8L449.0,657.8L452.7,657.8L456.4,657.6L460.0,656.8L463.7,655.5L467.4,654.1L471.0,652.9L474.7,652.0L478.4,651.2L482.1,650.5L485.7,650.1L489.4,650.3L493.1,651.0L496.8,651.8L500.4,652.4L504.1,652.9L507.8,653.3L511.4,653.5L515.1,653.6L518.8,653.8L522.5,654.0L526.1,654.2L529.8,654.3L533.5,654.5L537.1,654.6L540.8,654.8L544.5,655.0L548.2,655.1L551.8,655.3L555.5,655.3"/>
<path d="M203.0,655.3L206.7,654.2L210.3,653.3L214.0,652.5L217.7,651.6L221.4,650.9L225.0,650.5L228.7,650.5L232.4,650.6L236.0,650.7L239.7,651.0L243.4,651.7L247.1,652.6L250.7,653.5L254.4,654.0L258.1,654.0L261.8,653.5L265.4,652.7L269.1,651.9L272.8,651.0L276.4,650.2L280.1,649.4L283.8,649.0L287.5,648.9L291.1,649.0L294.8,649.1L298.5,649.3L302.1,649.6L305.8,649.8L309.5,650.1L313.2,650.6L316.8,651.5L320.5,652.7L324.2,653.6L327.8,654.1L331.5,654.4L335.2,654.6L338.9,654.9L342.5,654.9L346.2,654.5L349.9,653.6L353.5,652.8L357.2,652.5L360.9,652.4L364.6,652.0L368.2,651.0L371.9,649.5L375.6,648.1L379.2,647.3L382.9,647.4L386.6,648.1L390.3,649.1L393.9,649.7L397.6,649.7L401.3,649.2L405.0,648.5L408.6,647.8L412.3,647.8L416.0,648.6L419.6,649.9L423.3,651.1L427.0,652.0L430.7,652.7L434.3,653.1L438.0,652.9L441.7,652.2L445.3,651.5L449.0,651.1L452.7,651.1L456.4,651.2L460.0,651.4L463.7,651.8L467.4,652.5L471.0,653.3L474.7,654.0L478.4,654.5L482.1,654.8L485.7,655.0L489.4,655.3L493.1,655.6L496.8,655.8L500.4,655.8L504.1,655.5L507.8,655.1L511.4,654.9L515.1,655.1L518.8,655.4L522.5,655.7L526.1,655.8L529.8,655.8L533.5,655.7L537.1,655.8L540.8,655.8L544.5,655.7L548.2,655.5L551.8,655.4L555.5,655.3"/>
<path d="M203.0,655.3L206.7,656.0L210.3,656.5L214.0,656.9L217.7,657.2L221.4,657.5L225.0,657.7L228.7,657.7L232.4,657.5L236.0,657.4L239.7,657.6L243.4,658.0L247.1,658.3L250.7,658.6L254.4,658.9L258.1,658.9L261.8,658.6L265.4,658.0L269.1,657.5L272.8,657.4L276.4,657.3L280.1,657.1L283.8,656.7L287.5,656.1L291.1,655.7L294.8,655.9L298.5,656.3L302.1,656.5L305.8,656.6L309.5,656.6L313.2,656.7L316.8,656.9L320.5,657.2L324.2,657.1L327.8,656.3L331.5,655.1L335.2,654.0L338.9,653.0L342.5,651.8L346.2,650.6L349.9,649.7L353.5,649.5L357.2,649.9L360.9,650.9L364.6,652.2L368.2,653.3L371.9,653.7L375.6,653.6L379.2,653.7L382.9,654.0L386.6,654.4L390.3,654.7L393.9,654.7L397.6,654.7L401.3,654.7L405.0,655.0L408.6,655.3L412.3,655.3L416.0,654.3L419.6,652.5L423.3,650.4L427.0,648.9L430.7,647.8L434.3,646.9L438.0,645.9L441.7,645.2L445.3,645.1L449.0,645.6L452.7,646.0L456.4,646.0L460.0,646.1L463.7,646.6L467.4,647.4L471.0,648.1L474.7,648.6L478.4,648.9L482.1,649.3L485.7,649.7L489.4,649.9L493.1,649.8L496.8,649.7L500.4,649.5L504.1,649.2L507.8,649.1L511.4,649.1L515.1,649.4L518.8,649.9L522.5,650.6L526.1,651.5L529.8,652.3L533.5,653.0L537.1,653.5L540.8,653.8L544.5,654.1L548.2,654.6L551.8,655.0L555.5,655.3"/>
<path d="M203.0,655.3L206.7,655.0L210.3,654.6L214.0,654.2L217.7,653.8L221.4,653.6L225.0,653.8L228.7,654.1L232.4,654.0L236.0,653.6L239.7,653.2L243.4,653.0L247.1,653.0L250.7,653.0L254.4,653.0L258.1,652.8L261.8,652.5L265.4,652.1L269.1,652.0L272.8,652.4L276.4,653.1L280.1,653.7L283.8,654.0L287.5,654.4L291.1,655.3L294.8,656.5L298.5,657.5L302.1,658.0L305.8,658.3L309.5,658.6L313.2,658.8L316.8,658.9L320.5,658.7L324.2,658.4L327.8,658.0L331.5,657.6L335.2,657.1L338.9,656.5L342.5,655.6L346.2,654.5L349.9,652.9L353.5,651.0L357.2,649.1L360.9,647.5L364.6,646.4L368.2,645.8L371.9,645.6L375.6,646.0L379.2,646.7L382.9,647.3L386.6,647.4L390.3,647.3L393.9,647.6L397.6,648.7L401.3,650.7L405.0,653.0L408.6,654.5L412.3,655.0L416.0,654.8L419.6,654.5L423.3,654.4L427.0,654.7L430.7,655.1L434.3,655.4L438.0,655.3L441.7,655.5L445.3,655.9L449.0,656.3L452.7,656.5L456.4,656.5L460.0,656.7L463.7,656.9L467.4,656.9L471.0,656.7L474.7,656.6L478.4,656.6L482.1,656.3L485.7,655.6L489.4,654.9L493.1,654.6L496.8,654.3L500.4,654.2L504.1,654.0L507.8,653.8L511.4,654.0L515.1,654.5L518.8,655.1L522.5,655.5L526.1,655.8L529.8,656.0L533.5,656.0L537.1,656.0L540.8,655.8L544.5,655.7L548.2,655.5L551.8,655.4L555.5,655.3"/>
<path d="M203.0,655.3L206.7,655.9L210.3,656.2L214.0,656.3L217.7,656.5L221.4,656.7L225.0,656.9L228.7,657.3L232.4,657.5L236.0,657.4L239.7,657.0L243.4,656.6L247.1,656.2L250.7,655.6L254.4,655.1L258.1,654.8L261.8,654.7L265.4,654.8L269.1,654.9L272.8,655.4L276.4,656.1L280.1,657.0L283.8,658.1L287.5,658.9L291.1,659.1L294.8,658.9L298.5,658.2L302.1,657.3L305.8,656.3L309.5,655.5L313.2,655.2L316.8,655.3L320.5,655.5L324.2,655.4L327.8,655.1L331.5,655.2L335.2,655.5L338.9,655.7L342.5,655.1L346.2,653.9L349.9,652.8L353.5,652.3L357.2,652.5L360.9,653.1L364.6,653.8L368.2,654.3L371.9,654.6L375.6,655.0L379.2,655.8L382.9,656.8L386.6,657.5L390.3,657.8L393.9,658.3L397.6,659.3L401.3,660.6L405.0,661.7L408.6,662.2L412.3,662.2L416.0,661.9L419.6,661.5L423.3,661.1L427.0,660.7L430.7,660.6L434.3,661.2L438.0,662.4L441.7,663.8L445.3,664.8L449.0,665.3L452.7,665.4L456.4,665.3L460.0,665.0L463.7,664.5L467.4,663.9L471.0,663.4L474.7,663.1L478.4,662.9L482.1,662.5L485.7,662.1L489.4,661.5L493.1,660.9L496.8,660.0L500.4,659.4L504.1,659.1L507.8,659.0L511.4,659.0L515.1,658.8L518.8,658.3L522.5,657.9L526.1,657.4L529.8,657.0L533.5,656.5L537.1,656.1L540.8,655.9L544.5,655.8L548.2,655.6L551.8,655.5L555.5,655.3"/>
<path d="M203.0,655.3L206.7,654.9L210.3,654.3L214.0,653.6L217.7,653.1L221.4,652.8L225.0,652.6L228.7,652.2L232.4,651.7L236.0,651.2L239.7,650.9L243.4,651.0L247.1,651.6L250.7,652.5L254.4,653.5L258.1,654.6L261.8,655.5L265.4,655.7L269.1,655.7L272.8,655.9L276.4,656.5L280.1,657.4L283.8,658.2L287.5,658.6L291.1,658.4L294.8,658.0L298.5,657.7L302.1,657.4L305.8,657.4L309.5,657.6L313.2,658.0L316.8,657.8L320.5,657.2L324.2,656.3L327.8,655.3L331.5,654.2L335.2,653.5L338.9,653.4L342.5,653.5L346.2,653.5L349.9,653.1L353.5,652.8L357.2,653.0L360.9,653.4L364.6,653.5L368.2,653.4L371.9,653.5L375.6,654.2L379.2,655.2L382.9,655.9L386.6,656.3L390.3,656.7L393.9,657.3L397.6,658.0L401.3,658.4L405.0,658.4L408.6,658.0L412.3,657.0L416.0,655.6L419.6,654.3L423.3,653.5L427.0,653.0L430.7,652.8L434.3,652.7L438.0,652.9L441.7,653.3L445.3,653.7L449.0,654.2L452.7,655.0L456.4,655.8L460.0,656.5L463.7,657.2L467.4,657.9L471.0,658.4L474.7,658.5L478.4,658.3L482.1,657.9L485.7,657.2L489.4,656.4L493.1,655.6L496.8,654.6L500.4,653.7L504.1,653.0L507.8,652.7L511.4,652.7L515.1,653.0L518.8,653.5L522.5,653.8L526.1,654.1L529.8,654.2L533.5,654.4L537.1,654.6L540.8,654.8L544.5,654.9L548.2,655.0L551.8,655.2L555.5,655.3"/>
<path d="M203.0,655.3L206.7,654.6L210.3,654.0L214.0,653.6L217.7,653.3L221.4,653.3L225.0,653.5L228.7,653.8L232.4,654.1L236.0,654.5L239.7,654.9L243.4,655.4L247.1,655.7L250.7,656.0L254.4,656.5L258.1,657.1L261.8,657.6L265.4,657.8L269.1,657.8L272.8,657.7L276.4,657.4L280.1,657.0L283.8,656.4L287.5,656.0L291.1,656.3L294.8,657.1L298.5,657.6L302.1,657.7L305.8,657.4L309.5,657.0L313.2,656.3L316.8,655.2L320.5,654.0L324.2,653.2L327.8,652.9L331.5,653.1L335.2,653.4L338.9,653.4L342.5,653.2L346.2,652.9L349.9,652.4L353.5,651.7L357.2,650.6L360.9,649.6L364.6,648.6L368.2,648.0L371.9,647.9L375.6,648.4L379.2,649.2L382.9,649.7L386.6,650.1L390.3,650.7L393.9,651.7L397.6,652.7L401.3,653.8L405.0,655.2L408.6,656.8L412.3,658.1L416.0,658.4L419.6,658.1L423.3,657.5L427.0,657.2L430.7,657.5L434.3,658.1L438.0,658.4L441.7,658.1L445.3,657.8L449.0,657.6L452.7,657.6L456.4,657.5L460.0,657.2L463.7,656.8L467.4,656.8L471.0,657.3L474.7,657.9L478.4,657.9L482.1,657.5L485.7,657.2L489.4,657.2L493.1,657.7L496.8,658.4L500.4,659.1L504.1,659.4L507.8,659.1L511.4,658.5L515.1,658.0L518.8,657.7L522.5,657.7L526.1,657.5L529.8,657.1L533.5,656.6L537.1,656.1L540.8,655.8L544.5,655.5L548.2,655.4L551.8,655.3L555.5,655.3"/>
<path d="M203.0,655.3L206.7,656.0L210.3,656.6L214.0,657.2L217.7,657.6L221.4,657.8L225.0,657.7L228.7,657.6L232.4,657.6L236.0,657.8L239.7,658.2L243.4,658.4L247.1,658.2L250.7,657.6L254.4,656.8L258.1,656.0L261.8,655.3L265.4,654.9L269.1,654.6L272.8,654.6L276.4,655.0L280.1,655.8L283.8,656.6L287.5,657.0L291.1,657.1L294.8,657.1L298.5,657.3L302.1,657.6L305.8,657.8L309.5,657.8L313.2,657.7L316.8,657.5L320.5,656.7L324.2,655.6L327.8,654.8L331.5,654.9L335.2,655.5L338.9,655.8L342.5,655.5L346.2,655.1L349.9,654.9L353.5,655.0L357.2,655.0L360.9,654.9L364.6,654.8L368.2,654.6L371.9,654.2L375.6,653.8L379.2,653.3L382.9,653.0L386.6,653.2L390.3,653.7L393.9,654.2L397.6,654.6L401.3,655.1L405.0,655.8L408.6,656.7L412.3,657.5L416.0,658.1L419.6,658.2L423.3,658.1L427.0,658.2L430.7,658.5L434.3,658.7L438.0,658.7L441.7,658.5L445.3,658.5L449.0,658.7L452.7,659.2L456.4,659.7L460.0,660.0L463.7,660.1L467.4,660.2L471.0,660.2L474.7,660.2L478.4,660.1L482.1,659.6L485.7,658.8L489.4,657.9L493.1,657.0L496.8,656.2L500.4,655.7L504.1,655.5L507.8,655.6L511.4,655.7L515.1,655.5L518.8,655.1L522.5,654.9L526.1,654.7L529.8,654.6L533.5,654.6L537.1,654.5L540.8,654.5L544.5,654.7L548.2,654.8L551.8,655.1L555.5,655.3"/>
<path d="M203.0,655.3L206.7,654.8L210.3,654.7L214.0,654.7L217.7,654.7L221.4,654.6L225.0,654.5L228.7,654.4L232.4,654.1L236.0,653.6L239.7,653.1L243.4,653.0L247.1,653.4L250.7,654.1L254.4,654.6L258.1,654.7L261.8,654.5L265.4,654.5L269.1,654.9L272.8,655.4L276.4,656.1L280.1,657.2L283.8,658.8L287.5,660.6L291.1,662.0L294.8,663.3L298.5,664.4L302.1,665.0L305.8,665.0L309.5,664.4L313.2,663.7L316.8,663.4L320.5,663.8L324.2,664.8L327.8,666.1L331.5,667.2L335.2,667.4L338.9,667.1L342.5,666.6L346.2,666.1L349.9,665.5L353.5,664.9L357.2,664.4L360.9,663.8L364.6,662.7L368.2,661.2L371.9,659.6L375.6,658.0L379.2,656.9L382.9,656.6L386.6,657.4L390.3,658.9L393.9,660.6L397.6,662.1L401.3,663.3L405.0,663.9L408.6,664.1L412.3,663.8L416.0,663.6L419.6,663.4L423.3,663.1L427.0,662.6L430.7,662.4L434.3,662.5L438.0,662.6L441.7,662.4L445.3,661.9L449.0,661.1L452.7,659.7L456.4,658.0L460.0,656.4L463.7,655.4L467.4,655.3L471.0,655.7L474.7,656.1L478.4,656.3L482.1,656.3L485.7,656.2L489.4,656.1L493.1,656.2L496.8,656.5L500.4,657.0L504.1,657.5L507.8,657.6L511.4,657.2L515.1,656.4L518.8,655.8L522.5,655.2L526.1,654.9L529.8,654.7L533.5,654.8L537.1,654.8L540.8,654.9L544.5,655.0L548.2,655.1L551.8,655.2L555.5,655.3"/>
<path d="M203.0,655.3L206.7,655.5L210.3,655.5L214.0,655.6L217.7,655.8L221.4,656.1L225.0,656.5L228.7,656.6L232.4,656.4L236.0,656.0L239.7,655.6L243.4,655.3L247.1,655.1L250.7,654.9L254.4,654.8L258.1,654.6L261.8,654.5L265.4,654.4L269.1,654.2L272.8,654.0L276.4,653.6L280.1,653.1L283.8,652.5L287.5,651.7L291.1,650.8L294.8,650.1L298.5,649.4L302.1,648.6L305.8,647.4L309.5,646.2L313.2,645.3L316.8,644.9L320.5,644.8L324.2,644.7L327.8,644.6L331.5,644.7L335.2,644.9L338.9,645.2L342.5,645.4L346.2,645.6L349.9,645.8L353.5,646.4L357.2,646.8L360.9,646.8L364.6,646.5L368.2,646.7L371.9,647.6L375.6,648.7L379.2,649.3L382.9,649.6L386.6,650.0L390.3,650.7L393.9,651.1L397.6,650.9L401.3,650.1L405.0,649.4L408.6,649.1L412.3,649.1L416.0,649.4L419.6,649.5L423.3,649.4L427.0,649.0L430.7,648.3L434.3,647.5L438.0,646.8L441.7,646.0L445.3,644.5L449.0,642.9L452.7,642.3L456.4,642.9L460.0,643.5L463.7,643.1L467.4,642.1L471.0,641.5L474.7,641.5L478.4,641.8L482.1,642.6L485.7,643.8L489.4,645.2L493.1,646.6L496.8,647.8L500.4,648.5L504.1,649.1L507.8,649.7L511.4,650.3L515.1,651.0L518.8,651.8L522.5,652.4L526.1,653.0L529.8,653.5L533.5,654.0L537.1,654.5L540.8,654.8L544.5,654.9L548.2,655.0L551.8,655.2L555.5,655.3"/>
<path d="M203.0,655.3L206.7,655.5L210.3,655.9L214.0,656.4L217.7,657.0L221.4,657.5L225.0,657.8L228.7,658.0L232.4,658.1L236.0,657.9L239.7,656.9L243.4,655.5L247.1,654.2L250.7,653.7L254.4,653.6L258.1,653.4L261.8,652.8L265.4,652.4L269.1,652.3L272.8,652.5L276.4,652.7L280.1,652.5L283.8,651.7L287.5,650.5L291.1,649.5L294.8,648.9L298.5,648.7L302.1,648.8L305.8,649.1L309.5,649.5L313.2,649.8L316.8,650.2L320.5,650.3L324.2,650.1L327.8,649.7L331.5,649.7L335.2,649.7L338.9,649.1L342.5,647.6L346.2,646.0L349.9,645.5L353.5,646.5L357.2,648.1L360.9,649.1L364.6,649.0L368.2,648.0L371.9,647.4L375.6,647.9L379.2,649.4L382.9,650.5L386.6,650.3L390.3,649.5L393.9,648.8L397.6,648.9L401.3,649.7L405.0,650.6L408.6,650.8L412.3,650.1L416.0,649.3L419.6,648.9L423.3,649.1L427.0,650.1L430.7,651.3L434.3,652.4L438.0,653.2L441.7,653.8L445.3,654.2L449.0,654.0L452.7,653.6L456.4,653.2L460.0,653.0L463.7,653.0L467.4,653.4L471.0,654.4L474.7,655.7L478.4,656.8L482.1,657.5L485.7,657.9L489.4,658.4L493.1,659.1L496.8,659.6L500.4,659.6L504.1,659.3L507.8,659.0L511.4,658.5L515.1,657.9L518.8,657.3L522.5,656.9L526.1,656.7L529.8,656.5L533.5,656.3L537.1,656.0L540.8,655.9L544.5,655.7L548.2,655.6L551.8,655.4L555.5,655.3"/>
<path d="M203.0,655.3L206.7,655.3L210.3,655.3L214.0,655.4L217.7,655.5L221.4,655.7L225.0,656.0L228.7,656.2L232.4,656.1L236.0,655.6L239.7,654.9L243.4,654.1L247.1,653.3L250.7,652.7L254.4,652.1L258.1,651.7L261.8,651.5L265.4,651.6L269.1,652.0L272.8,652.4L276.4,652.7L280.1,652.7L283.8,652.7L287.5,652.7L291.1,652.9L294.8,653.3L298.5,653.6L302.1,654.0L305.8,654.3L309.5,654.0L313.2,653.3L316.8,652.7L320.5,652.5L324.2,652.5L327.8,651.9L331.5,650.9L335.2,649.6L338.9,648.3L342.5,647.0L346.2,646.4L349.9,647.1L353.5,648.5L357.2,649.7L360.9,650.5L364.6,651.1L368.2,651.6L371.9,652.2L375.6,652.9L379.2,653.5L382.9,654.0L386.6,654.6L390.3,655.2L393.9,655.4L397.6,655.3L401.3,655.1L405.0,655.4L408.6,656.2L412.3,657.2L416.0,658.1L419.6,658.6L423.3,658.8L427.0,658.8L430.7,659.1L434.3,660.0L438.0,660.9L441.7,661.3L445.3,661.4L449.0,661.6L452.7,661.9L456.4,662.1L460.0,661.9L463.7,661.3L467.4,661.0L471.0,660.9L474.7,660.7L478.4,659.9L482.1,659.1L485.7,658.5L489.4,658.2L493.1,657.9L496.8,657.4L500.4,657.1L504.1,657.1L507.8,657.3L511.4,657.5L515.1,657.4L518.8,657.1L522.5,656.8L526.1,656.6L529.8,656.5L533.5,656.4L537.1,656.2L540.8,656.1L544.5,655.9L548.2,655.6L551.8,655.4L555.5,655.3"/>
<path d="M203.0,655.3L206.7,656.6L210.3,657.2L214.0,657.7L217.7,658.2L221.4,658.6L225.0,658.8L228.7,658.9L232.4,659.2L236.0,659.6L239.7,660.3L243.4,661.5L247.1,662.9L250.7,664.0L254.4,664.5L258.1,664.8L261.8,665.4L265.4,666.1L269.1,667.0L272.8,668.2L276.4,669.7L280.1,670.7L283.8,670.8L287.5,670.7L291.1,671.0L294.8,672.2L298.5,673.6L302.1,674.8L305.8,675.4L309.5,675.8L313.2,676.0L316.8,676.0L320.5,675.6L324.2,674.8L327.8,673.5L331.5,671.8L335.2,669.8L338.9,667.9L342.5,666.3L346.2,665.3L349.9,664.6L353.5,663.8L357.2,662.8L360.9,661.6L364.6,660.9L368.2,660.4L371.9,659.7L375.6,658.7L379.2,657.6L382.9,656.7L386.6,655.8L390.3,654.6L393.9,653.1L397.6,651.5L401.3,650.0L405.0,648.7L408.6,647.5L412.3,647.0L416.0,647.4L419.6,648.5L423.3,649.5L427.0,649.9L430.7,649.6L434.3,648.8L438.0,648.3L441.7,648.2L445.3,648.4L449.0,648.8L452.7,649.4L456.4,649.9L460.0,649.8L463.7,649.3L467.4,648.9L471.0,649.2L474.7,650.0L478.4,650.4L482.1,650.0L485.7,649.1L489.4,648.4L493.1,648.4L496.8,648.9L500.4,649.6L504.1,650.3L507.8,650.8L511.4,651.3L515.1,651.7L518.8,652.1L522.5,652.4L526.1,652.6L529.8,652.9L533.5,653.2L537.1,653.7L540.8,654.1L544.5,654.5L548.2,654.7L551.8,655.0L555.5,655.3"/>
<path d="M203.0,655.3L206.7,654.1L210.3,653.4L214.0,652.9L217.7,652.5L221.4,652.3L225.0,652.1L228.7,652.0L232.4,651.8L236.0,651.8L239.7,651.8L243.4,651.7L247.1,651.4L250.7,651.1L254.4,650.8L258.1,650.5L261.8,650.3L265.4,650.6L269.1,651.0L272.8,651.2L276.4,650.7L280.1,650.0L283.8,649.8L287.5,650.1L291.1,650.6L294.8,650.6L298.5,650.2L302.1,649.8L305.8,649.5L309.5,649.3L313.2,649.0L316.8,648.8L320.5,648.6L324.2,648.0L327.8,647.0L331.5,646.0L335.2,645.2L338.9,645.1L342.5,646.0L346.2,647.4L349.9,648.7L353.5,649.7L357.2,651.1L360.9,652.9L364.6,654.7L368.2,656.1L371.9,657.0L375.6,657.1L379.2,656.9L382.9,656.7L386.6,656.6L390.3,656.6L393.9,656.4L397.6,656.1L401.3,655.7L405.0,655.2L408.6,655.0L412.3,655.0L416.0,655.3L419.6,655.5L423.3,655.3L427.0,654.6L430.7,654.0L434.3,653.9L438.0,654.3L441.7,655.0L445.3,655.9L449.0,656.9L452.7,657.7L456.4,658.5L460.0,659.2L463.7,659.5L467.4,659.3L471.0,659.3L474.7,659.8L478.4,660.3L482.1,660.2L485.7,659.2L489.4,658.1L493.1,657.4L496.8,657.2L500.4,657.2L504.1,656.9L507.8,656.6L511.4,656.3L515.1,656.2L518.8,656.2L522.5,656.0L526.1,655.9L529.8,655.9L533.5,656.0L537.1,655.9L540.8,655.7L544.5,655.6L548.2,655.4L551.8,655.4L555.5,655.3"/>
<path d="M203.0,655.3L206.7,654.8L210.3,654.4L214.0,653.8L217.7,653.3L221.4,653.2L225.0,653.6L228.7,654.2L232.4,654.8L236.0,655.1L239.7,655.0L243.4,655.0L247.1,655.3L250.7,655.7L254.4,655.7L258.1,655.1L261.8,654.1L265.4,653.3L269.1,653.0L272.8,653.2L276.4,653.6L280.1,654.0L283.8,654.3L287.5,654.1L291.1,653.9L294.8,653.8L298.5,654.2L302.1,655.1L305.8,655.9L309.5,656.0L313.2,655.6L316.8,654.9L320.5,654.1L324.2,653.5L327.8,653.5L331.5,653.8L335.2,654.1L338.9,654.3L342.5,654.3L346.2,654.2L349.9,654.0L353.5,654.0L357.2,654.3L360.9,654.9L364.6,655.3L368.2,655.4L371.9,655.1L375.6,654.6L379.2,654.3L382.9,654.1L386.6,654.1L390.3,654.4L393.9,655.0L397.6,655.6L401.3,655.9L405.0,656.0L408.6,655.7L412.3,655.0L416.0,654.1L419.6,653.3L423.3,653.0L427.0,652.9L430.7,652.5L434.3,651.4L438.0,650.1L441.7,649.1L445.3,648.8L449.0,648.7L452.7,648.6L456.4,648.0L460.0,647.3L463.7,646.8L467.4,646.6L471.0,646.6L474.7,646.6L478.4,646.9L482.1,647.9L485.7,649.3L489.4,650.8L493.1,651.9L496.8,652.7L500.4,653.3L504.1,653.9L507.8,654.3L511.4,654.8L515.1,655.2L518.8,655.4L522.5,655.6L526.1,655.7L529.8,655.9L533.5,656.0L537.1,655.9L540.8,655.7L544.5,655.6L548.2,655.5L551.8,655.4L555.5,655.3"/>
<path d="M203.0,655.3L206.7,655.6L210.3,655.6L214.0,655.5L217.7,655.5L221.4,655.5L225.0,655.5L228.7,655.6L232.4,655.9L236.0,656.3L239.7,656.6L243.4,656.4L247.1,655.9L250.7,655.5L254.4,655.6L258.1,656.1L261.8,656.5L265.4,656.7L269.1,656.7L272.8,656.6L276.4,656.3L280.1,655.6L283.8,655.1L287.5,654.9L291.1,654.7L294.8,654.4L298.5,654.1L302.1,653.4L305.8,652.3L309.5,651.2L313.2,650.6L316.8,650.6L320.5,651.0L324.2,651.1L327.8,650.7L331.5,649.9L335.2,649.0L338.9,648.5L342.5,648.4L346.2,648.7L349.9,649.2L353.5,649.8L357.2,650.3L360.9,650.6L364.6,650.8L368.2,650.8L371.9,651.2L375.6,652.2L379.2,653.5L382.9,654.5L386.6,655.0L390.3,655.1L393.9,655.1L397.6,655.3L401.3,655.8L405.0,656.4L408.6,656.4L412.3,656.1L416.0,655.8L419.6,655.9L423.3,656.1L427.0,655.9L430.7,655.1L434.3,654.2L438.0,653.3L441.7,652.6L445.3,652.1L449.0,651.7L452.7,651.2L456.4,650.9L460.0,650.4L463.7,649.7L467.4,648.9L471.0,648.5L474.7,648.7L478.4,649.8L482.1,651.3L485.7,652.9L489.4,654.0L493.1,654.6L496.8,654.5L500.4,654.4L504.1,654.8L507.8,655.5L511.4,656.2L515.1,656.4L518.8,656.3L522.5,656.3L526.1,656.4L529.8,656.6L533.5,656.7L537.1,656.6L540.8,656.3L544.5,656.0L548.2,655.7L551.8,655.5L555.5,655.3"/>
<path d="M203.0,655.3L206.7,656.7L210.3,657.3L214.0,657.7L217.7,658.0L221.4,657.9L225.0,657.6L228.7,657.2L232.4,657.0L236.0,657.0L239.7,656.7L243.4,656.3L247.1,655.8L250.7,655.5L254.4,655.7L258.1,656.4L261.8,657.1L265.4,657.1L269.1,656.7L272.8,656.7L276.4,658.0L280.1,660.1L283.8,661.9L287.5,662.6L291.1,662.4L294.8,662.0L298.5,661.9L302.1,662.0L305.8,662.2L309.5,662.4L313.2,662.5L316.8,662.4L320.5,662.0L324.2,661.5L327.8,661.2L331.5,661.0L335.2,660.8L338.9,660.7L342.5,660.6L346.2,660.6L349.9,660.5L353.5,660.4L357.2,660.4L360.9,660.5L364.6,661.0L368.2,661.7L371.9,662.3L375.6,662.4L379.2,662.3L382.9,662.2L386.6,662.0L390.3,661.9L393.9,661.9L397.6,662.1L401.3,662.1L405.0,661.6L408.6,661.0L412.3,660.8L416.0,661.0L419.6,661.4L423.3,661.7L427.0,662.1L430.7,662.3L434.3,662.3L438.0,662.3L441.7,662.4L445.3,662.2L449.0,661.8L452.7,661.4L456.4,661.1L460.0,660.8L463.7,660.5L467.4,660.4L471.0,660.4L474.7,660.2L478.4,659.6L482.1,658.7L485.7,657.7L489.4,656.9L493.1,656.2L496.8,655.8L500.4,655.6L504.1,655.3L507.8,655.0L511.4,654.9L515.1,655.0L518.8,655.3L522.5,655.6L526.1,655.8L529.8,655.9L533.5,655.8L537.1,655.8L540.8,655.7L544.5,655.6L548.2,655.4L551.8,655.3L555.5,655.3"/>
<path d="M203.0,655.3L206.7,655.3L210.3,655.5L214.0,655.7L217.7,655.8L221.4,655.8L225.0,655.6L228.7,655.4L232.4,655.5L236.0,656.0L239.7,656.7L243.4,657.5L247.1,658.0L250.7,658.2L254.4,658.0L258.1,657.5L261.8,657.5L265.4,658.3L269.1,659.8L272.8,661.4L276.4,662.6L280.1,663.7L283.8,664.6L287.5,665.6L291.1,666.3L294.8,666.9L298.5,667.4L302.1,667.9L305.8,668.2L309.5,667.9L313.2,667.0L316.8,666.1L320.5,665.3L324.2,664.5L327.8,663.6L331.5,662.9L335.2,662.6L338.9,662.5L342.5,662.3L346.2,662.0L349.9,661.9L353.5,662.3L357.2,663.2L360.9,664.3L364.6,665.4L368.2,666.5L371.9,667.3L375.6,667.4L379.2,667.2L382.9,666.8L386.6,666.4L390.3,665.6L393.9,664.3L397.6,662.9L401.3,661.7L405.0,661.1L408.6,661.0L412.3,660.8L416.0,660.3L419.6,659.8L423.3,659.9L427.0,660.5L430.7,660.8L434.3,660.2L438.0,658.9L441.7,658.0L445.3,658.0L449.0,658.6L452.7,659.5L456.4,660.1L460.0,660.0L463.7,659.4L467.4,659.0L471.0,658.9L474.7,658.9L478.4,659.2L482.1,659.7L485.7,660.1L489.4,659.9L493.1,659.1L496.8,658.2L500.4,657.3L504.1,656.9L507.8,657.0L511.4,657.3L515.1,657.3L518.8,657.1L522.5,656.8L526.1,656.5L529.8,656.3L533.5,656.1L537.1,655.9L540.8,655.7L544.5,655.6L548.2,655.5L551.8,655.4L555.5,655.3"/>
<path d="M203.0,655.3L206.7,655.0L210.3,654.9L214.0,654.7L217.7,654.5L221.4,654.2L225.0,653.8L228.7,653.1L232.4,652.3L236.0,651.6L239.7,651.0L243.4,650.3L247.1,649.5L250.7,648.6L254.4,647.8L258.1,647.3L261.8,647.2L265.4,647.5L269.1,647.8L272.8,647.9L276.4,648.0L280.1,648.5L283.8,649.2L287.5,649.6L291.1,649.5L294.8,649.0L298.5,648.9L302.1,649.3L305.8,650.2L309.5,651.2L313.2,651.9L316.8,652.0L320.5,651.9L324.2,651.7L327.8,651.3L331.5,650.5L335.2,649.7L338.9,649.3L342.5,649.3L346.2,649.7L349.9,650.2L353.5,650.6L357.2,650.6L360.9,650.1L364.6,649.5L368.2,649.3L371.9,649.2L375.6,649.0L379.2,648.5L382.9,647.7L386.6,647.3L390.3,647.2L393.9,647.4L397.6,647.5L401.3,647.7L405.0,648.5L408.6,649.9L412.3,651.6L416.0,653.1L419.6,654.3L423.3,655.3L427.0,656.4L430.7,657.0L434.3,657.0L438.0,656.6L441.7,656.3L445.3,656.3L449.0,657.0L452.7,658.1L456.4,659.0L460.0,659.3L463.7,659.0L467.4,658.3L471.0,657.2L474.7,655.8L478.4,654.5L482.1,653.4L485.7,652.5L489.4,651.9L493.1,651.8L496.8,652.0L500.4,652.4L504.1,653.1L507.8,653.8L511.4,654.4L515.1,654.7L518.8,654.7L522.5,654.7L526.1,654.8L529.8,655.0L533.5,655.1L537.1,655.1L540.8,655.0L544.5,655.0L548.2,655.0L551.8,655.1L555.5,655.3"/>
<path d="M203.0,655.3L206.7,656.1L210.3,656.4L214.0,656.5L217.7,656.5L221.4,656.2L225.0,655.9L228.7,655.8L232.4,656.0L236.0,656.1L239.7,655.8L243.4,655.3L247.1,654.7L250.7,653.9L254.4,653.0L258.1,652.3L261.8,651.8L265.4,651.2L269.1,650.5L272.8,649.7L276.4,649.1L280.1,648.2L283.8,647.1L287.5,646.1L291.1,645.8L294.8,646.4L298.5,647.3L302.1,647.8L305.8,648.0L309.5,647.8L313.2,647.2L316.8,646.5L320.5,646.0L324.2,646.0L327.8,645.9L331.5,645.7L335.2,645.2L338.9,644.9L342.5,645.0L346.2,645.5L349.9,646.1L353.5,646.2L357.2,645.9L360.9,645.5L364.6,645.4L368.2,645.7L371.9,646.3L375.6,646.6L379.2,646.5L382.9,646.1L386.6,645.5L390.3,645.0L393.9,644.6L397.6,644.7L401.3,645.2L405.0,646.0L408.6,646.7L412.3,647.3L416.0,647.6L419.6,648.1L423.3,649.0L427.0,650.1L430.7,650.6L434.3,650.2L438.0,649.5L441.7,649.3L445.3,649.9L449.0,650.3L452.7,650.1L456.4,649.9L460.0,650.2L463.7,651.1L467.4,652.2L471.0,653.2L474.7,654.0L478.4,654.7L482.1,655.0L485.7,654.7L489.4,654.1L493.1,653.5L496.8,653.0L500.4,652.8L504.1,652.9L507.8,653.2L511.4,653.7L515.1,654.2L518.8,654.7L522.5,655.1L526.1,655.4L529.8,655.5L533.5,655.6L537.1,655.7L540.8,655.7L544.5,655.6L548.2,655.4L551.8,655.3L555.5,655.3"/>
<path d="M203.0,655.3L206.7,655.2L210.3,655.1L214.0,655.1L217.7,655.4L221.4,655.7L225.0,655.9L228.7,656.1L232.4,656.3L236.0,656.6L239.7,656.9L243.4,657.1L247.1,657.3L250.7,657.3L254.4,657.3L258.1,657.4L261.8,657.6L265.4,658.1L269.1,658.8L272.8,659.3L276.4,659.5L280.1,659.4L283.8,659.6L287.5,660.2L291.1,661.2L294.8,662.4L298.5,663.3L302.1,663.9L305.8,664.1L309.5,664.2L313.2,664.4L316.8,665.0L320.5,665.7L324.2,666.3L327.8,667.1L331.5,668.1L335.2,668.9L338.9,668.9L342.5,667.9L346.2,666.6L349.9,665.5L353.5,664.9L357.2,664.8L360.9,664.6L364.6,663.9L368.2,662.8L371.9,661.9L375.6,661.3L379.2,660.8L382.9,660.3L386.6,659.6L390.3,658.4L393.9,656.7L397.6,654.8L401.3,653.0L405.0,651.3L408.6,649.4L412.3,647.6L416.0,646.2L419.6,645.4L423.3,645.5L427.0,646.2L430.7,646.9L434.3,647.1L438.0,646.9L441.7,646.7L445.3,646.7L449.0,647.2L452.7,647.8L456.4,648.0L460.0,647.6L463.7,646.9L467.4,646.4L471.0,646.2L474.7,646.1L478.4,645.9L482.1,645.9L485.7,646.0L489.4,646.3L493.1,646.7L496.8,646.9L500.4,647.1L504.1,647.3L507.8,647.7L511.4,648.5L515.1,649.5L518.8,650.3L522.5,650.9L526.1,651.3L529.8,651.7L533.5,652.2L537.1,652.8L540.8,653.4L544.5,654.0L548.2,654.5L551.8,654.9L555.5,655.3"/>
<path d="M203.0,655.3L206.7,656.0L210.3,656.5L214.0,657.0L217.7,657.2L221.4,657.1L225.0,656.8L228.7,656.8L232.4,657.0L236.0,657.3L239.7,657.3L243.4,657.2L247.1,657.4L250.7,657.8L254.4,658.1L258.1,658.3L261.8,658.1L265.4,657.9L269.1,657.9L272.8,658.2L276.4,658.1L280.1,657.3L283.8,656.2L287.5,655.5L291.1,655.7L294.8,656.2L298.5,656.4L302.1,655.9L305.8,655.3L309.5,655.0L313.2,655.3L316.8,655.5L320.5,655.4L324.2,655.4L327.8,656.2L331.5,657.5L335.2,658.7L338.9,659.2L342.5,659.0L346.2,658.9L349.9,659.1L353.5,659.3L357.2,659.0L360.9,658.2L364.6,657.4L368.2,657.1L371.9,657.2L375.6,657.1L379.2,656.6L382.9,655.7L386.6,654.7L390.3,654.0L393.9,653.9L397.6,654.5L401.3,655.4L405.0,655.9L408.6,655.8L412.3,655.5L416.0,655.1L419.6,654.7L423.3,654.7L427.0,655.1L430.7,655.8L434.3,656.0L438.0,655.5L441.7,654.2L445.3,652.7L449.0,651.8L452.7,651.8L456.4,652.7L460.0,653.9L463.7,654.8L467.4,654.9L471.0,654.8L474.7,655.1L478.4,655.7L482.1,656.3L485.7,656.6L489.4,656.7L493.1,656.5L496.8,656.1L500.4,655.9L504.1,656.1L507.8,656.5L511.4,656.9L515.1,657.0L518.8,656.9L522.5,656.7L526.1,656.5L529.8,656.1L533.5,655.8L537.1,655.7L540.8,655.6L544.5,655.6L548.2,655.5L551.8,655.4L555.5,655.3"/>
<path d="M203.0,655.3L206.7,656.1L210.3,656.7L214.0,657.3L217.7,657.9L221.4,658.3L225.0,658.2L228.7,657.9L232.4,657.8L236.0,657.9L239.7,658.2L243.4,658.6L247.1,659.3L250.7,659.7L254.4,659.8L258.1,659.5L261.8,659.0L265.4,658.4L269.1,657.8L272.8,657.0L276.4,656.0L280.1,655.0L283.8,654.0L287.5,652.9L291.1,651.8L294.8,651.0L298.5,650.5L302.1,649.8L305.8,648.7L309.5,647.4L313.2,646.3L316.8,645.7L320.5,645.5L324.2,645.8L327.8,646.6L331.5,647.3L335.2,647.5L338.9,647.3L342.5,647.0L346.2,646.9L349.9,647.3L353.5,648.6L357.2,650.2L360.9,651.5L364.6,652.5L368.2,653.5L371.9,654.7L375.6,656.0L379.2,656.7L382.9,656.7L386.6,656.5L390.3,656.5L393.9,656.6L397.6,656.5L401.3,656.1L405.0,655.5L408.6,654.9L412.3,654.7L416.0,655.3L419.6,656.0L423.3,656.4L427.0,656.7L430.7,657.1L434.3,657.7L438.0,658.3L441.7,658.8L445.3,659.4L449.0,659.8L452.7,659.6L456.4,658.7L460.0,656.9L463.7,654.9L467.4,653.3L471.0,652.3L474.7,651.9L478.4,651.7L482.1,651.7L485.7,651.7L489.4,652.0L493.1,652.2L496.8,652.3L500.4,652.3L504.1,652.4L507.8,652.6L511.4,652.8L515.1,653.1L518.8,653.4L522.5,653.7L526.1,654.1L529.8,654.5L533.5,654.8L537.1,655.0L540.8,655.1L544.5,655.2L548.2,655.2L551.8,655.2L555.5,655.3"/>
<path d="M203.0,655.3L206.7,654.5L210.3,653.8L214.0,653.3L217.7,652.7L221.4,652.2L225.0,651.6L228.7,651.1L232.4,650.6L236.0,650.4L239.7,650.6L243.4,651.1L247.1,651.5L250.7,651.8L254.4,652.0L258.1,652.5L261.8,653.3L265.4,654.0L269.1,654.5L272.8,654.9L276.4,655.8L280.1,657.2L283.8,658.9L287.5,660.5L291.1,661.8L294.8,663.0L298.5,664.1L302.1,664.7L305.8,664.8L309.5,664.7L313.2,664.7L316.8,664.5L320.5,663.8L324.2,662.9L327.8,662.1L331.5,661.5L335.2,661.1L338.9,660.7L342.5,660.1L346.2,659.4L349.9,658.8L353.5,658.6L357.2,658.8L360.9,659.5L364.6,660.3L368.2,661.0L371.9,661.7L375.6,662.8L379.2,664.2L382.9,665.7L386.6,666.6L390.3,666.2L393.9,664.8L397.6,662.8L401.3,660.9L405.0,659.1L408.6,657.4L412.3,655.8L416.0,654.6L419.6,654.3L423.3,654.6L427.0,654.7L430.7,654.7L434.3,655.0L438.0,655.7L441.7,656.7L445.3,657.7L449.0,658.7L452.7,659.6L456.4,660.4L460.0,661.5L463.7,662.8L467.4,663.7L471.0,663.8L474.7,663.2L478.4,662.5L482.1,661.7L485.7,660.8L489.4,660.1L493.1,659.5L496.8,659.1L500.4,658.7L504.1,658.2L507.8,657.8L511.4,657.5L515.1,657.5L518.8,657.5L522.5,657.5L526.1,657.5L529.8,657.4L533.5,657.1L537.1,656.8L540.8,656.4L544.5,656.1L548.2,655.7L551.8,655.5L555.5,655.3"/>
</g>
<path d="M203.0,655.3L205.5,655.5L208.1,655.7L210.6,655.9L213.1,656.2L215.7,656.5L218.2,656.9L220.8,657.5L223.3,658.2L225.8,659.0L228.4,659.8L230.9,660.4L233.4,661.1L236.0,661.7L238.5,662.4L241.0,663.0L243.6,663.3L246.1,663.4L248.6,663.3L251.2,663.1L253.7,663.0L256.3,662.8L258.8,662.5L261.3,662.0L263.9,661.3L266.4,660.7L268.9,660.0L271.5,659.0L274.0,657.8L276.5,656.5L279.1,655.3L281.6,654.2L284.2,653.4L286.7,652.8L289.2,652.5L291.8,652.4L294.3,653.0L296.8,654.0L299.4,655.3L301.9,656.5L304.4,657.5L307.0,658.2L309.5,658.3L312.0,658.2L314.6,658.0L317.1,657.8L319.7,657.4L322.2,657.0L324.7,656.4L327.3,655.8L329.8,655.2L332.3,654.7L334.9,654.3L337.4,654.0L339.9,653.8L342.5,653.8L345.0,653.9L347.6,653.8L350.1,653.6L352.6,653.2L355.2,652.7L357.7,652.1L360.2,651.5L362.8,650.9L365.3,650.4L367.8,649.9L370.4,649.5L372.9,649.2L375.4,649.0L378.0,648.9L380.5,649.0L383.1,649.3L385.6,649.7L388.1,650.2L390.7,651.2L393.2,652.7L395.7,654.2L398.3,655.5L400.8,655.9L403.3,655.6L405.9,655.0L408.4,654.3L410.9,653.8L413.5,653.5L416.0,653.5L418.6,653.6L421.1,653.8L423.6,654.1L426.2,654.6L428.7,655.2L431.2,655.8L433.8,656.4L436.3,656.8L438.8,657.0L441.4,657.0L443.9,656.9L446.5,656.9L449.0,656.8L451.5,656.7L454.1,656.4L456.6,655.8L459.1,655.1L461.7,654.6L464.2,654.2L466.7,654.3L469.3,654.8L471.8,655.7L474.3,656.5L476.9,657.2L479.4,657.2L482.0,656.9L484.5,656.6L487.0,656.2L489.6,656.0L492.1,655.9L494.6,655.8L497.2,655.7L499.7,655.7L502.2,655.7L504.8,655.7L507.3,655.7L509.9,655.6L512.4,655.5L514.9,655.5L517.5,655.6L520.0,655.6L522.5,655.6L525.1,655.5L527.6,655.4L530.1,655.3L532.7,655.2L535.2,655.2L537.7,655.2L540.3,655.2L542.8,655.3L545.4,655.3L547.9,655.4L550.4,655.3L553.0,655.3L555.5,655.3" fill="none" stroke="#4878A8" stroke-width="2.8" stroke-linejoin="round"/>
<line x1="42.4" y1="698.2" x2="204.0" y2="698.2" stroke="#1F8A35" stroke-width="3.8"/>
<line x1="554.5" y1="698.2" x2="761" y2="698.2" stroke="#1F8A35" stroke-width="3.8"/>
<g fill="none" stroke="#1F8A35" stroke-width="0.8" stroke-opacity="0.2">
<path d="M203.0,698.2L206.7,698.0L210.3,697.9L214.0,698.0L217.7,698.1L221.4,698.0L225.0,697.9L228.7,698.1L232.4,698.4L236.0,698.6L239.7,698.2L243.4,697.7L247.1,697.3L250.7,697.4L254.4,697.4L258.1,696.9L261.8,696.0L265.4,694.9L269.1,693.9L272.8,693.1L276.4,692.3L280.1,691.4L283.8,690.3L287.5,689.9L291.1,690.9L294.8,692.8L298.5,694.3L302.1,694.8L305.8,694.7L309.5,694.5L313.2,694.6L316.8,694.4L320.5,693.5L324.2,692.4L327.8,691.5L331.5,690.9L335.2,690.4L338.9,689.7L342.5,688.8L346.2,687.6L349.9,685.8L353.5,683.9L357.2,682.5L360.9,682.5L364.6,683.4L368.2,684.5L371.9,684.9L375.6,685.0L379.2,685.3L382.9,685.9L386.6,686.8L390.3,688.4L393.9,690.8L397.6,693.3L401.3,694.9L405.0,695.5L408.6,695.5L412.3,695.2L416.0,694.6L419.6,693.7L423.3,692.5L427.0,691.4L430.7,690.4L434.3,689.6L438.0,689.2L441.7,688.9L445.3,688.4L449.0,687.6L452.7,686.9L456.4,686.5L460.0,686.5L463.7,686.8L467.4,687.3L471.0,688.2L474.7,689.6L478.4,691.1L482.1,692.6L485.7,694.3L489.4,696.1L493.1,697.6L496.8,698.8L500.4,699.6L504.1,700.3L507.8,701.2L511.4,701.8L515.1,701.9L518.8,701.7L522.5,701.3L526.1,700.9L529.8,700.6L533.5,700.3L537.1,699.9L540.8,699.5L544.5,699.0L548.2,698.7L551.8,698.4L555.5,698.2"/>
<path d="M203.0,698.2L206.7,697.2L210.3,696.8L214.0,696.8L217.7,697.1L221.4,697.2L225.0,697.0L228.7,696.7L232.4,696.4L236.0,696.5L239.7,696.7L243.4,697.1L247.1,697.6L250.7,697.9L254.4,697.4L258.1,696.2L261.8,694.7L265.4,693.4L269.1,692.2L272.8,691.6L276.4,691.7L280.1,692.6L283.8,694.0L287.5,695.1L291.1,695.8L294.8,696.5L298.5,697.6L302.1,698.8L305.8,699.8L309.5,700.6L313.2,701.3L316.8,701.9L320.5,702.5L324.2,702.9L327.8,703.3L331.5,703.5L335.2,703.7L338.9,704.0L342.5,704.2L346.2,703.9L349.9,703.4L353.5,702.7L357.2,701.8L360.9,700.6L364.6,699.2L368.2,697.9L371.9,696.9L375.6,696.1L379.2,695.5L382.9,695.2L386.6,695.1L390.3,694.6L393.9,693.4L397.6,692.1L401.3,691.4L405.0,691.5L408.6,692.1L412.3,692.6L416.0,693.0L419.6,693.3L423.3,693.4L427.0,693.9L430.7,694.7L434.3,695.3L438.0,695.3L441.7,694.8L445.3,694.4L449.0,694.2L452.7,694.0L456.4,693.5L460.0,692.9L463.7,692.2L467.4,691.2L471.0,690.0L474.7,689.3L478.4,689.3L482.1,689.9L485.7,690.5L489.4,690.8L493.1,690.8L496.8,690.8L500.4,690.9L504.1,691.0L507.8,691.5L511.4,692.2L515.1,693.1L518.8,694.1L522.5,695.0L526.1,695.8L529.8,696.3L533.5,696.7L537.1,697.0L540.8,697.4L544.5,697.7L548.2,697.9L551.8,698.1L555.5,698.2"/>
<path d="M203.0,698.2L206.7,697.5L210.3,697.3L214.0,697.0L217.7,696.8L221.4,696.7L225.0,696.9L228.7,697.2L232.4,697.3L236.0,697.4L239.7,697.7L243.4,698.1L247.1,698.4L250.7,698.6L254.4,698.6L258.1,698.7L261.8,698.5L265.4,698.0L269.1,697.3L272.8,696.7L276.4,696.3L280.1,696.4L283.8,696.8L287.5,697.3L291.1,698.1L294.8,699.1L298.5,699.6L302.1,699.1L305.8,697.3L309.5,695.3L313.2,694.1L316.8,694.2L320.5,695.0L324.2,695.8L327.8,696.1L331.5,696.1L335.2,696.3L338.9,696.7L342.5,697.0L346.2,697.0L349.9,697.0L353.5,696.8L357.2,696.8L360.9,697.2L364.6,698.3L368.2,700.0L371.9,701.5L375.6,702.0L379.2,701.6L382.9,700.9L386.6,700.1L390.3,699.2L393.9,698.0L397.6,696.7L401.3,695.7L405.0,695.2L408.6,695.1L412.3,695.2L416.0,695.2L419.6,695.4L423.3,695.8L427.0,695.9L430.7,695.6L434.3,695.3L438.0,695.2L441.7,695.3L445.3,695.8L449.0,696.7L452.7,698.0L456.4,699.8L460.0,701.7L463.7,703.4L467.4,704.5L471.0,705.0L474.7,704.8L478.4,704.5L482.1,704.4L485.7,704.6L489.4,704.8L493.1,704.9L496.8,704.8L500.4,704.3L504.1,703.5L507.8,702.6L511.4,701.8L515.1,701.3L518.8,700.8L522.5,700.4L526.1,700.0L529.8,699.6L533.5,699.2L537.1,698.8L540.8,698.5L544.5,698.3L548.2,698.3L551.8,698.2L555.5,698.2"/>
<path d="M203.0,698.2L206.7,700.9L210.3,702.1L214.0,703.0L217.7,703.6L221.4,704.0L225.0,704.2L228.7,704.4L232.4,704.8L236.0,705.3L239.7,705.7L243.4,705.9L247.1,705.9L250.7,705.6L254.4,705.3L258.1,705.2L261.8,705.4L265.4,705.5L269.1,705.3L272.8,704.5L276.4,703.3L280.1,702.0L283.8,701.3L287.5,701.5L291.1,702.6L294.8,703.9L298.5,704.9L302.1,705.1L305.8,704.3L309.5,703.0L313.2,701.8L316.8,701.2L320.5,701.3L324.2,701.8L327.8,702.5L331.5,702.9L335.2,703.2L338.9,703.1L342.5,702.5L346.2,701.9L349.9,701.4L353.5,701.0L357.2,700.6L360.9,700.3L364.6,700.1L368.2,700.0L371.9,700.3L375.6,700.9L379.2,701.7L382.9,702.8L386.6,704.4L390.3,705.9L393.9,706.3L397.6,705.6L401.3,704.3L405.0,703.2L408.6,702.9L412.3,703.4L416.0,704.4L419.6,705.4L423.3,706.1L427.0,706.4L430.7,706.6L434.3,706.6L438.0,706.7L441.7,706.9L445.3,706.7L449.0,706.2L452.7,705.6L456.4,705.0L460.0,704.2L463.7,703.3L467.4,702.4L471.0,701.5L474.7,700.3L478.4,699.4L482.1,699.0L485.7,699.1L489.4,699.2L493.1,699.2L496.8,699.5L500.4,699.9L504.1,700.2L507.8,700.0L511.4,699.4L515.1,698.7L518.8,698.1L522.5,697.9L526.1,697.9L529.8,698.0L533.5,698.0L537.1,697.9L540.8,697.9L544.5,698.0L548.2,698.1L551.8,698.2L555.5,698.2"/>
<path d="M203.0,698.2L206.7,697.2L210.3,696.6L214.0,696.1L217.7,695.7L221.4,695.4L225.0,695.2L228.7,695.2L232.4,695.3L236.0,695.5L239.7,695.5L243.4,695.1L247.1,694.4L250.7,693.7L254.4,692.9L258.1,692.3L261.8,691.6L265.4,690.8L269.1,689.9L272.8,688.8L276.4,687.6L280.1,686.6L283.8,685.8L287.5,685.1L291.1,684.6L294.8,684.2L298.5,683.7L302.1,682.9L305.8,682.5L309.5,682.7L313.2,682.8L316.8,682.0L320.5,680.8L324.2,679.8L327.8,679.6L331.5,679.8L335.2,680.1L338.9,680.0L342.5,679.9L346.2,680.2L349.9,681.1L353.5,682.1L357.2,683.2L360.9,684.1L364.6,684.7L368.2,685.1L371.9,685.7L375.6,686.3L379.2,687.1L382.9,687.9L386.6,688.6L390.3,689.3L393.9,689.8L397.6,690.1L401.3,690.5L405.0,691.3L408.6,692.5L412.3,693.6L416.0,694.2L419.6,694.4L423.3,694.6L427.0,694.8L430.7,695.0L434.3,695.2L438.0,695.4L441.7,696.1L445.3,697.3L449.0,698.7L452.7,700.0L456.4,700.7L460.0,701.0L463.7,701.2L467.4,702.0L471.0,703.1L474.7,704.0L478.4,704.5L482.1,704.7L485.7,705.0L489.4,705.3L493.1,705.4L496.8,705.4L500.4,705.1L504.1,704.6L507.8,704.2L511.4,703.7L515.1,703.2L518.8,702.5L522.5,701.6L526.1,700.8L529.8,700.1L533.5,699.7L537.1,699.4L540.8,699.0L544.5,698.7L548.2,698.5L551.8,698.3L555.5,698.2"/>
<path d="M203.0,698.2L206.7,697.7L210.3,697.0L214.0,696.4L217.7,695.8L221.4,695.3L225.0,695.0L228.7,695.0L232.4,695.0L236.0,694.8L239.7,694.2L243.4,693.5L247.1,693.0L250.7,693.0L254.4,693.2L258.1,693.3L261.8,693.2L265.4,693.0L269.1,693.2L272.8,693.5L276.4,693.4L280.1,692.4L283.8,691.0L287.5,690.4L291.1,691.1L294.8,692.2L298.5,692.8L302.1,692.7L305.8,693.0L309.5,694.1L313.2,695.5L316.8,696.4L320.5,696.5L324.2,696.0L327.8,695.2L331.5,694.5L335.2,694.1L338.9,694.4L342.5,695.0L346.2,695.3L349.9,695.0L353.5,694.5L357.2,694.2L360.9,694.1L364.6,694.3L368.2,694.7L371.9,695.5L375.6,696.4L379.2,697.2L382.9,697.8L386.6,698.4L390.3,698.9L393.9,699.1L397.6,698.9L401.3,698.3L405.0,697.5L408.6,696.7L412.3,695.8L416.0,694.7L419.6,693.7L423.3,693.0L427.0,692.7L430.7,692.7L434.3,692.9L438.0,693.4L441.7,693.9L445.3,694.2L449.0,694.5L452.7,695.6L456.4,697.3L460.0,699.1L463.7,700.2L467.4,700.9L471.0,701.3L474.7,701.3L478.4,700.8L482.1,700.4L485.7,700.3L489.4,700.5L493.1,700.5L496.8,700.2L500.4,699.8L504.1,699.3L507.8,698.5L511.4,697.6L515.1,697.0L518.8,696.6L522.5,696.4L526.1,696.4L529.8,696.4L533.5,696.5L537.1,696.7L540.8,697.0L544.5,697.4L548.2,697.7L551.8,698.0L555.5,698.2"/>
<path d="M203.0,698.2L206.7,697.8L210.3,697.4L214.0,697.0L217.7,696.7L221.4,696.5L225.0,696.3L228.7,696.1L232.4,696.2L236.0,696.5L239.7,696.7L243.4,696.5L247.1,695.8L250.7,695.1L254.4,694.9L258.1,695.2L261.8,695.7L265.4,696.2L269.1,696.6L272.8,696.9L276.4,696.9L280.1,696.7L283.8,696.5L287.5,696.1L291.1,695.5L294.8,694.7L298.5,694.0L302.1,693.5L305.8,693.0L309.5,692.8L313.2,693.1L316.8,693.9L320.5,694.5L324.2,694.7L327.8,694.3L331.5,693.4L335.2,692.7L338.9,692.6L342.5,693.3L346.2,694.4L349.9,695.2L353.5,695.4L357.2,695.3L360.9,695.3L364.6,695.4L368.2,695.6L371.9,695.8L375.6,696.1L379.2,696.6L382.9,697.2L386.6,697.5L390.3,697.5L393.9,697.1L397.6,696.6L401.3,696.4L405.0,696.3L408.6,695.9L412.3,694.9L416.0,693.4L419.6,691.7L423.3,690.2L427.0,689.1L430.7,688.5L434.3,688.6L438.0,689.2L441.7,690.1L445.3,690.9L449.0,691.8L452.7,692.6L456.4,693.2L460.0,693.6L463.7,694.0L467.4,694.7L471.0,695.4L474.7,696.0L478.4,696.4L482.1,696.9L485.7,697.2L489.4,697.3L493.1,697.5L496.8,697.9L500.4,698.6L504.1,699.4L507.8,700.2L511.4,700.8L515.1,701.1L518.8,701.2L522.5,701.1L526.1,700.8L529.8,700.5L533.5,700.1L537.1,699.8L540.8,699.4L544.5,699.1L548.2,698.7L551.8,698.4L555.5,698.2"/>
<path d="M203.0,698.2L206.7,698.5L210.3,698.6L214.0,698.6L217.7,698.8L221.4,699.0L225.0,699.1L228.7,699.0L232.4,698.8L236.0,698.6L239.7,698.4L243.4,698.1L247.1,697.5L250.7,696.8L254.4,696.5L258.1,696.6L261.8,696.6L265.4,696.0L269.1,695.0L272.8,694.1L276.4,693.6L280.1,693.2L283.8,692.8L287.5,692.8L291.1,693.3L294.8,694.1L298.5,695.2L302.1,696.5L305.8,697.9L309.5,699.0L313.2,700.0L316.8,701.2L320.5,702.6L324.2,704.2L327.8,706.2L331.5,708.3L335.2,709.6L338.9,709.6L342.5,708.5L346.2,706.8L349.9,705.1L353.5,703.9L357.2,703.3L360.9,703.2L364.6,703.5L368.2,703.8L371.9,704.1L375.6,704.0L379.2,703.6L382.9,703.4L386.6,703.6L390.3,704.0L393.9,704.1L397.6,704.1L401.3,704.2L405.0,704.5L408.6,704.7L412.3,704.7L416.0,704.3L419.6,703.6L423.3,703.0L427.0,702.4L430.7,702.0L434.3,701.8L438.0,701.7L441.7,701.8L445.3,702.3L449.0,703.0L452.7,703.9L456.4,704.5L460.0,704.7L463.7,704.7L467.4,704.4L471.0,703.7L474.7,702.7L478.4,701.6L482.1,700.7L485.7,700.4L489.4,700.6L493.1,700.9L496.8,701.3L500.4,701.9L504.1,702.4L507.8,702.8L511.4,702.9L515.1,702.8L518.8,702.6L522.5,702.2L526.1,701.6L529.8,700.9L533.5,700.3L537.1,699.7L540.8,699.3L544.5,698.9L548.2,698.5L551.8,698.3L555.5,698.2"/>
<path d="M203.0,698.2L206.7,698.3L210.3,698.1L214.0,698.0L217.7,697.9L221.4,697.7L225.0,697.1L228.7,696.2L232.4,695.0L236.0,694.0L239.7,693.8L243.4,694.2L247.1,694.8L250.7,695.3L254.4,695.5L258.1,695.6L261.8,695.8L265.4,696.2L269.1,696.6L272.8,696.9L276.4,697.1L280.1,697.3L283.8,697.3L287.5,697.0L291.1,696.6L294.8,696.3L298.5,696.2L302.1,696.0L305.8,695.6L309.5,695.1L313.2,694.5L316.8,694.2L320.5,694.3L324.2,694.8L327.8,695.1L331.5,695.0L335.2,694.4L338.9,693.6L342.5,692.8L346.2,691.9L349.9,690.6L353.5,688.9L357.2,687.3L360.9,686.4L364.6,686.2L368.2,686.5L371.9,687.0L375.6,687.5L379.2,687.8L382.9,687.7L386.6,687.7L390.3,688.3L393.9,689.5L397.6,690.7L401.3,691.5L405.0,692.3L408.6,693.2L412.3,693.9L416.0,694.2L419.6,694.5L423.3,695.2L427.0,696.0L430.7,696.6L434.3,696.9L438.0,696.9L441.7,696.8L445.3,696.5L449.0,695.7L452.7,695.2L456.4,695.4L460.0,696.4L463.7,697.7L467.4,698.6L471.0,698.8L474.7,698.4L478.4,697.6L482.1,696.9L485.7,696.5L489.4,696.3L493.1,696.3L496.8,696.3L500.4,696.4L504.1,696.5L507.8,696.7L511.4,697.3L515.1,697.9L518.8,698.2L522.5,698.3L526.1,698.2L529.8,698.3L533.5,698.4L537.1,698.4L540.8,698.4L544.5,698.4L548.2,698.3L551.8,698.3L555.5,698.2"/>
<path d="M203.0,698.2L206.7,697.2L210.3,696.9L214.0,696.7L217.7,696.7L221.4,696.9L225.0,697.4L228.7,697.7L232.4,697.6L236.0,697.2L239.7,696.9L243.4,697.0L247.1,697.3L250.7,697.7L254.4,698.0L258.1,698.1L261.8,697.7L265.4,696.9L269.1,695.9L272.8,695.5L276.4,695.7L280.1,696.3L283.8,696.9L287.5,697.4L291.1,698.1L294.8,699.0L298.5,700.0L302.1,700.7L305.8,701.1L309.5,701.6L313.2,702.1L316.8,702.6L320.5,703.1L324.2,703.4L327.8,703.5L331.5,703.1L335.2,702.1L338.9,700.5L342.5,698.9L346.2,698.3L349.9,698.8L353.5,699.5L357.2,699.9L360.9,700.2L364.6,701.1L368.2,702.2L371.9,703.2L375.6,704.0L379.2,704.6L382.9,704.8L386.6,704.6L390.3,703.9L393.9,703.0L397.6,702.3L401.3,702.1L405.0,702.5L408.6,703.5L412.3,704.5L416.0,705.2L419.6,705.8L423.3,706.4L427.0,707.1L430.7,707.6L434.3,707.8L438.0,707.7L441.7,707.8L445.3,708.2L449.0,708.7L452.7,708.9L456.4,708.6L460.0,708.0L463.7,707.7L467.4,707.8L471.0,707.5L474.7,706.6L478.4,705.3L482.1,703.8L485.7,702.2L489.4,701.0L493.1,700.3L496.8,700.0L500.4,699.9L504.1,699.8L507.8,699.3L511.4,698.7L515.1,698.0L518.8,697.5L522.5,697.3L526.1,697.3L529.8,697.5L533.5,697.6L537.1,697.8L540.8,698.1L544.5,698.3L548.2,698.4L551.8,698.3L555.5,698.2"/>
<path d="M203.0,698.2L206.7,698.3L210.3,698.3L214.0,698.1L217.7,697.8L221.4,697.5L225.0,697.1L228.7,696.8L232.4,696.6L236.0,696.4L239.7,696.3L243.4,695.8L247.1,695.1L250.7,694.2L254.4,693.7L258.1,693.6L261.8,693.8L265.4,694.2L269.1,694.8L272.8,695.4L276.4,695.7L280.1,695.5L283.8,695.0L287.5,694.7L291.1,694.9L294.8,695.5L298.5,696.4L302.1,697.1L305.8,697.3L309.5,696.6L313.2,695.7L316.8,695.1L320.5,695.0L324.2,694.6L327.8,693.4L331.5,692.0L335.2,691.2L338.9,691.0L342.5,691.3L346.2,691.9L349.9,692.5L353.5,692.7L357.2,693.0L360.9,694.1L364.6,695.8L368.2,697.5L371.9,698.7L375.6,699.3L379.2,700.0L382.9,700.7L386.6,701.1L390.3,700.9L393.9,700.2L397.6,699.3L401.3,698.3L405.0,697.6L408.6,697.5L412.3,697.8L416.0,698.0L419.6,698.0L423.3,697.7L427.0,697.2L430.7,696.4L434.3,695.1L438.0,693.5L441.7,692.0L445.3,690.9L449.0,690.2L452.7,689.9L456.4,689.8L460.0,689.9L463.7,690.0L467.4,690.1L471.0,690.3L474.7,691.0L478.4,692.0L482.1,693.4L485.7,694.6L489.4,695.2L493.1,695.5L496.8,695.7L500.4,695.9L504.1,696.1L507.8,696.3L511.4,696.6L515.1,696.9L518.8,697.1L522.5,697.2L526.1,697.2L529.8,697.3L533.5,697.5L537.1,697.8L540.8,698.0L544.5,698.1L548.2,698.1L551.8,698.1L555.5,698.2"/>
<path d="M203.0,698.2L206.7,696.8L210.3,696.0L214.0,695.2L217.7,694.2L221.4,693.3L225.0,692.4L228.7,691.7L232.4,691.0L236.0,690.7L239.7,690.8L243.4,690.8L247.1,690.7L250.7,690.5L254.4,690.5L258.1,690.9L261.8,692.0L265.4,693.4L269.1,694.4L272.8,694.9L276.4,694.6L280.1,694.1L283.8,693.9L287.5,694.4L291.1,695.3L294.8,696.0L298.5,696.2L302.1,695.9L305.8,695.3L309.5,695.0L313.2,695.1L316.8,695.6L320.5,696.1L324.2,696.3L327.8,696.5L331.5,696.9L335.2,697.9L338.9,698.8L342.5,699.0L346.2,698.4L349.9,697.9L353.5,698.1L357.2,698.7L360.9,699.0L364.6,698.6L368.2,697.3L371.9,695.7L375.6,694.5L379.2,694.2L382.9,694.6L386.6,695.1L390.3,695.1L393.9,694.8L397.6,694.4L401.3,694.5L405.0,695.6L408.6,697.6L412.3,699.8L416.0,701.4L419.6,702.2L423.3,702.6L427.0,702.9L430.7,702.8L434.3,702.8L438.0,703.0L441.7,703.4L445.3,703.7L449.0,703.9L452.7,704.0L456.4,703.8L460.0,703.4L463.7,702.9L467.4,702.9L471.0,703.3L474.7,703.4L478.4,702.9L482.1,702.0L485.7,701.1L489.4,700.3L493.1,699.6L496.8,698.8L500.4,698.0L504.1,697.5L507.8,697.4L511.4,697.5L515.1,697.7L518.8,697.7L522.5,697.7L526.1,697.8L529.8,698.0L533.5,698.2L537.1,698.2L540.8,698.1L544.5,698.0L548.2,698.0L551.8,698.1L555.5,698.2"/>
<path d="M203.0,698.2L206.7,698.7L210.3,698.9L214.0,699.1L217.7,699.1L221.4,698.9L225.0,698.4L228.7,697.6L232.4,696.6L236.0,695.7L239.7,695.1L243.4,694.5L247.1,693.9L250.7,693.4L254.4,692.9L258.1,692.5L261.8,692.4L265.4,693.0L269.1,693.9L272.8,694.5L276.4,694.9L280.1,695.1L283.8,695.4L287.5,696.0L291.1,696.8L294.8,697.1L298.5,696.8L302.1,696.0L305.8,695.0L309.5,693.9L313.2,692.8L316.8,692.1L320.5,691.6L324.2,691.3L327.8,691.3L331.5,691.4L335.2,691.7L338.9,692.2L342.5,693.2L346.2,694.7L349.9,696.1L353.5,697.5L357.2,698.8L360.9,700.2L364.6,701.1L368.2,701.3L371.9,701.3L375.6,702.0L379.2,703.2L382.9,704.4L386.6,705.0L390.3,704.9L393.9,704.0L397.6,702.9L401.3,702.1L405.0,702.0L408.6,702.2L412.3,702.3L416.0,702.2L419.6,701.6L423.3,700.8L427.0,700.5L430.7,700.7L434.3,700.9L438.0,700.6L441.7,700.2L445.3,699.9L449.0,699.7L452.7,699.6L456.4,699.9L460.0,700.5L463.7,701.3L467.4,701.9L471.0,702.2L474.7,702.3L478.4,702.1L482.1,702.0L485.7,701.8L489.4,701.7L493.1,701.3L496.8,700.6L500.4,699.9L504.1,699.2L507.8,698.6L511.4,698.0L515.1,697.8L518.8,697.9L522.5,698.4L526.1,698.8L529.8,699.0L533.5,699.2L537.1,699.3L540.8,699.2L544.5,698.9L548.2,698.6L551.8,698.4L555.5,698.2"/>
<path d="M203.0,698.2L206.7,699.2L210.3,699.9L214.0,700.5L217.7,701.0L221.4,701.2L225.0,701.1L228.7,700.8L232.4,700.4L236.0,699.8L239.7,699.0L243.4,698.3L247.1,698.0L250.7,698.0L254.4,698.0L258.1,698.0L261.8,697.9L265.4,697.8L269.1,697.5L272.8,697.0L276.4,696.3L280.1,696.2L283.8,696.7L287.5,697.3L291.1,697.3L294.8,696.8L298.5,696.3L302.1,696.3L305.8,696.4L309.5,696.5L313.2,696.4L316.8,696.4L320.5,696.4L324.2,696.4L327.8,696.2L331.5,695.7L335.2,695.2L338.9,695.1L342.5,695.8L346.2,697.2L349.9,698.6L353.5,699.6L357.2,700.1L360.9,700.3L364.6,700.5L368.2,701.0L371.9,701.9L375.6,702.8L379.2,703.4L382.9,703.8L386.6,703.9L390.3,703.5L393.9,702.8L397.6,702.3L401.3,702.0L405.0,701.8L408.6,701.4L412.3,700.9L416.0,700.2L419.6,699.3L423.3,698.1L427.0,697.0L430.7,696.4L434.3,696.7L438.0,697.6L441.7,698.7L445.3,699.8L449.0,700.9L452.7,702.1L456.4,702.9L460.0,703.2L463.7,703.0L467.4,702.5L471.0,702.1L474.7,702.2L478.4,702.7L482.1,703.3L485.7,703.6L489.4,703.6L493.1,703.5L496.8,703.2L500.4,702.9L504.1,702.5L507.8,702.1L511.4,701.8L515.1,701.2L518.8,700.4L522.5,699.6L526.1,698.9L529.8,698.4L533.5,698.1L537.1,697.8L540.8,697.6L544.5,697.6L548.2,697.8L551.8,698.0L555.5,698.2"/>
<path d="M203.0,698.2L206.7,697.9L210.3,697.4L214.0,696.7L217.7,695.8L221.4,694.9L225.0,694.0L228.7,693.2L232.4,692.8L236.0,692.8L239.7,692.9L243.4,692.9L247.1,692.6L250.7,691.6L254.4,690.0L258.1,688.4L261.8,687.3L265.4,686.7L269.1,686.4L272.8,686.5L276.4,686.9L280.1,687.3L283.8,687.6L287.5,687.9L291.1,688.6L294.8,689.2L298.5,689.8L302.1,690.2L305.8,689.9L309.5,688.9L313.2,687.8L316.8,687.2L320.5,687.5L324.2,688.1L327.8,688.7L331.5,689.4L335.2,690.3L338.9,691.3L342.5,692.4L346.2,693.4L349.9,694.3L353.5,694.9L357.2,695.2L360.9,695.5L364.6,696.0L368.2,696.9L371.9,697.8L375.6,698.2L379.2,698.3L382.9,698.8L386.6,700.0L390.3,701.5L393.9,702.5L397.6,702.7L401.3,702.3L405.0,702.0L408.6,702.2L412.3,702.9L416.0,703.5L419.6,703.9L423.3,704.1L427.0,703.9L430.7,703.3L434.3,702.4L438.0,701.5L441.7,700.6L445.3,699.3L449.0,697.8L452.7,696.7L456.4,696.1L460.0,695.9L463.7,695.7L467.4,695.8L471.0,695.8L474.7,695.6L478.4,695.4L482.1,695.8L485.7,696.9L489.4,698.4L493.1,699.7L496.8,700.6L500.4,701.2L504.1,701.9L507.8,702.5L511.4,702.9L515.1,703.1L518.8,703.1L522.5,703.0L526.1,702.5L529.8,702.0L533.5,701.3L537.1,700.5L540.8,699.7L544.5,699.1L548.2,698.7L551.8,698.4L555.5,698.2"/>
<path d="M203.0,698.2L206.7,698.9L210.3,698.9L214.0,698.8L217.7,698.6L221.4,698.4L225.0,698.2L228.7,698.3L232.4,698.7L236.0,699.2L239.7,699.4L243.4,699.2L247.1,699.0L250.7,699.2L254.4,699.7L258.1,699.9L261.8,699.7L265.4,699.0L269.1,698.1L272.8,697.5L276.4,697.4L280.1,697.8L283.8,698.4L287.5,698.6L291.1,698.1L294.8,697.1L298.5,696.4L302.1,696.1L305.8,696.3L309.5,696.4L313.2,696.4L316.8,696.2L320.5,695.8L324.2,695.4L327.8,695.7L331.5,696.5L335.2,697.4L338.9,697.7L342.5,697.6L346.2,697.2L349.9,696.6L353.5,696.1L357.2,696.2L360.9,697.0L364.6,698.2L368.2,699.5L371.9,700.9L375.6,702.0L379.2,702.6L382.9,702.8L386.6,703.3L390.3,704.4L393.9,705.5L397.6,705.7L401.3,704.6L405.0,702.8L408.6,701.3L412.3,700.4L416.0,699.5L419.6,698.0L423.3,696.2L427.0,694.7L430.7,693.7L434.3,693.1L438.0,692.4L441.7,691.7L445.3,691.2L449.0,690.7L452.7,690.2L456.4,689.4L460.0,689.1L463.7,689.4L467.4,690.1L471.0,691.0L474.7,692.0L478.4,692.9L482.1,693.6L485.7,693.8L489.4,693.9L493.1,694.3L496.8,694.9L500.4,695.3L504.1,695.5L507.8,695.7L511.4,696.0L515.1,696.4L518.8,696.7L522.5,696.9L526.1,697.3L529.8,697.7L533.5,698.0L537.1,698.2L540.8,698.1L544.5,698.1L548.2,698.2L551.8,698.2L555.5,698.2"/>
<path d="M203.0,698.2L206.7,698.0L210.3,697.6L214.0,696.9L217.7,696.1L221.4,695.5L225.0,695.1L228.7,694.7L232.4,694.3L236.0,693.6L239.7,692.9L243.4,692.3L247.1,691.9L250.7,691.7L254.4,691.6L258.1,691.1L261.8,690.2L265.4,689.5L269.1,689.2L272.8,689.3L276.4,689.3L280.1,689.3L283.8,689.5L287.5,689.7L291.1,689.9L294.8,689.6L298.5,689.2L302.1,689.1L305.8,689.4L309.5,690.2L313.2,691.1L316.8,691.8L320.5,691.8L324.2,691.3L327.8,690.6L331.5,689.9L335.2,689.1L338.9,688.1L342.5,687.2L346.2,686.6L349.9,686.3L353.5,686.0L357.2,685.6L360.9,685.4L364.6,685.5L368.2,685.4L371.9,684.8L375.6,683.9L379.2,683.3L382.9,683.3L386.6,683.7L390.3,684.6L393.9,685.5L397.6,686.3L401.3,686.7L405.0,687.1L408.6,687.7L412.3,688.4L416.0,688.9L419.6,689.0L423.3,689.1L427.0,689.5L430.7,690.1L434.3,690.1L438.0,689.6L441.7,688.7L445.3,687.8L449.0,687.2L452.7,687.2L456.4,687.7L460.0,688.6L463.7,689.7L467.4,691.0L471.0,692.4L474.7,693.6L478.4,694.6L482.1,695.4L485.7,696.3L489.4,697.3L493.1,698.1L496.8,698.6L500.4,698.6L504.1,698.5L507.8,698.5L511.4,698.3L515.1,698.0L518.8,697.5L522.5,697.2L526.1,697.3L529.8,697.5L533.5,697.7L537.1,697.7L540.8,697.8L544.5,697.9L548.2,698.1L551.8,698.2L555.5,698.2"/>
<path d="M203.0,698.2L206.7,698.7L210.3,699.2L214.0,699.8L217.7,700.4L221.4,701.0L225.0,701.3L228.7,701.6L232.4,702.0L236.0,702.3L239.7,702.5L243.4,702.4L247.1,702.1L250.7,701.6L254.4,700.8L258.1,699.7L261.8,698.4L265.4,697.5L269.1,696.9L272.8,696.6L276.4,696.3L280.1,696.2L283.8,696.2L287.5,695.9L291.1,695.1L294.8,694.4L298.5,694.4L302.1,695.1L305.8,695.9L309.5,696.6L313.2,697.1L316.8,697.6L320.5,697.8L324.2,697.7L327.8,696.9L331.5,695.7L335.2,694.4L338.9,693.4L342.5,693.0L346.2,693.0L349.9,692.9L353.5,692.5L357.2,692.0L360.9,692.2L364.6,693.1L368.2,693.9L371.9,693.6L375.6,692.6L379.2,692.0L382.9,691.8L386.6,691.7L390.3,691.4L393.9,691.1L397.6,690.8L401.3,690.5L405.0,690.0L408.6,689.6L412.3,690.0L416.0,691.2L419.6,692.7L423.3,694.1L427.0,695.3L430.7,696.4L434.3,697.0L438.0,697.2L441.7,696.9L445.3,696.8L449.0,697.1L452.7,697.8L456.4,698.3L460.0,698.2L463.7,698.0L467.4,698.0L471.0,698.3L474.7,698.5L478.4,698.4L482.1,698.6L485.7,699.1L489.4,699.5L493.1,699.5L496.8,699.1L500.4,698.5L504.1,698.3L507.8,698.1L511.4,698.0L515.1,697.7L518.8,697.6L522.5,697.7L526.1,698.0L529.8,698.2L533.5,698.2L537.1,698.0L540.8,697.9L544.5,697.8L548.2,697.9L551.8,698.1L555.5,698.2"/>
<path d="M203.0,698.2L206.7,697.9L210.3,697.7L214.0,697.6L217.7,697.6L221.4,697.6L225.0,697.6L228.7,697.7L232.4,697.8L236.0,697.8L239.7,697.9L243.4,697.9L247.1,697.9L250.7,697.8L254.4,697.7L258.1,697.5L261.8,697.6L265.4,698.2L269.1,699.3L272.8,700.5L276.4,701.3L280.1,701.6L283.8,701.7L287.5,701.6L291.1,701.3L294.8,700.7L298.5,700.0L302.1,699.4L305.8,698.7L309.5,698.0L313.2,697.4L316.8,697.2L320.5,697.4L324.2,697.5L327.8,697.3L331.5,697.0L335.2,697.3L338.9,698.1L342.5,699.0L346.2,699.5L349.9,699.6L353.5,699.7L357.2,700.0L360.9,700.3L364.6,699.9L368.2,699.2L371.9,698.4L375.6,697.7L379.2,697.3L382.9,697.1L386.6,697.3L390.3,697.3L393.9,696.9L397.6,696.2L401.3,695.6L405.0,695.1L408.6,694.6L412.3,694.4L416.0,694.7L419.6,695.7L423.3,697.0L427.0,697.5L430.7,697.1L434.3,696.1L438.0,695.2L441.7,694.7L445.3,694.7L449.0,695.4L452.7,696.3L456.4,697.0L460.0,697.3L463.7,697.4L467.4,697.2L471.0,696.7L474.7,696.7L478.4,697.1L482.1,697.6L485.7,697.7L489.4,697.4L493.1,696.8L496.8,696.2L500.4,695.9L504.1,695.5L507.8,695.3L511.4,695.2L515.1,695.1L518.8,695.0L522.5,695.0L526.1,695.3L529.8,695.9L533.5,696.7L537.1,697.3L540.8,697.7L544.5,697.9L548.2,698.0L551.8,698.1L555.5,698.2"/>
<path d="M203.0,698.2L206.7,698.3L210.3,698.5L214.0,698.4L217.7,698.3L221.4,698.3L225.0,698.3L228.7,698.2L232.4,698.0L236.0,697.9L239.7,697.7L243.4,697.7L247.1,697.6L250.7,697.5L254.4,697.1L258.1,696.4L261.8,695.9L265.4,695.9L269.1,696.3L272.8,696.6L276.4,696.7L280.1,696.3L283.8,695.8L287.5,695.3L291.1,694.6L294.8,694.0L298.5,694.0L302.1,694.5L305.8,695.2L309.5,695.9L313.2,696.6L316.8,697.1L320.5,697.4L324.2,697.8L327.8,698.2L331.5,698.5L335.2,698.8L338.9,699.2L342.5,699.6L346.2,699.7L349.9,699.8L353.5,699.9L357.2,699.8L360.9,699.4L364.6,698.5L368.2,697.4L371.9,696.3L375.6,695.5L379.2,695.0L382.9,694.6L386.6,694.1L390.3,693.8L393.9,693.8L397.6,693.8L401.3,693.4L405.0,692.6L408.6,692.1L412.3,692.2L416.0,692.7L419.6,693.3L423.3,694.0L427.0,694.4L430.7,694.4L434.3,694.2L438.0,694.4L441.7,694.9L445.3,694.6L449.0,693.2L452.7,691.1L456.4,689.5L460.0,688.4L463.7,687.6L467.4,686.7L471.0,685.9L474.7,685.7L478.4,685.8L482.1,686.1L485.7,686.3L489.4,686.5L493.1,686.8L496.8,687.6L500.4,688.8L504.1,690.0L507.8,691.0L511.4,692.0L515.1,692.9L518.8,693.7L522.5,694.2L526.1,694.7L529.8,695.2L533.5,695.6L537.1,696.1L540.8,696.5L544.5,697.0L548.2,697.4L551.8,697.9L555.5,698.2"/>
<path d="M203.0,698.2L206.7,697.6L210.3,697.4L214.0,697.1L217.7,696.7L221.4,696.2L225.0,695.9L228.7,695.8L232.4,695.8L236.0,695.6L239.7,695.2L243.4,694.7L247.1,694.2L250.7,693.8L254.4,693.4L258.1,692.8L261.8,691.8L265.4,690.7L269.1,690.0L272.8,690.0L276.4,690.7L280.1,691.5L283.8,691.9L287.5,691.8L291.1,691.7L294.8,691.7L298.5,691.7L302.1,691.9L305.8,692.4L309.5,693.3L313.2,694.2L316.8,695.3L320.5,696.7L324.2,698.0L327.8,698.6L331.5,698.5L335.2,698.6L338.9,699.2L342.5,699.9L346.2,700.2L349.9,700.0L353.5,699.8L357.2,699.7L360.9,699.7L364.6,699.8L368.2,700.0L371.9,700.2L375.6,700.3L379.2,700.4L382.9,700.5L386.6,700.8L390.3,701.2L393.9,701.8L397.6,702.7L401.3,703.5L405.0,703.6L408.6,703.0L412.3,702.4L416.0,702.2L419.6,702.4L423.3,703.0L427.0,703.8L430.7,704.5L434.3,704.5L438.0,703.3L441.7,701.7L445.3,700.0L449.0,698.5L452.7,697.2L456.4,696.2L460.0,695.5L463.7,694.7L467.4,693.8L471.0,693.1L474.7,692.9L478.4,693.2L482.1,693.8L485.7,694.7L489.4,696.0L493.1,698.0L496.8,699.9L500.4,701.0L504.1,701.4L507.8,701.5L511.4,701.5L515.1,701.7L518.8,701.9L522.5,701.9L526.1,701.6L529.8,701.1L533.5,700.4L537.1,699.9L540.8,699.5L544.5,699.2L548.2,698.8L551.8,698.4L555.5,698.2"/>
<path d="M203.0,698.2L206.7,698.6L210.3,698.6L214.0,698.4L217.7,698.1L221.4,697.8L225.0,697.5L228.7,697.2L232.4,697.0L236.0,696.7L239.7,696.4L243.4,696.4L247.1,696.8L250.7,697.4L254.4,697.9L258.1,698.5L261.8,699.2L265.4,699.6L269.1,699.2L272.8,698.4L276.4,697.7L280.1,697.4L283.8,697.3L287.5,697.3L291.1,697.6L294.8,698.1L298.5,698.5L302.1,698.8L305.8,699.0L309.5,699.3L313.2,699.5L316.8,699.5L320.5,699.0L324.2,698.4L327.8,697.9L331.5,697.4L335.2,697.1L338.9,697.1L342.5,697.5L346.2,698.0L349.9,698.3L353.5,698.2L357.2,697.5L360.9,696.3L364.6,695.2L368.2,694.7L371.9,694.8L375.6,695.3L379.2,695.9L382.9,696.3L386.6,696.1L390.3,695.0L393.9,693.4L397.6,692.2L401.3,691.9L405.0,692.4L408.6,693.3L412.3,693.9L416.0,694.2L419.6,694.2L423.3,694.3L427.0,694.5L430.7,694.7L434.3,695.1L438.0,695.7L441.7,696.7L445.3,698.0L449.0,699.3L452.7,700.2L456.4,700.5L460.0,700.4L463.7,700.4L467.4,700.6L471.0,700.9L474.7,701.3L478.4,701.4L482.1,701.0L485.7,700.4L489.4,699.9L493.1,699.7L496.8,699.2L500.4,698.3L504.1,697.6L507.8,697.3L511.4,697.4L515.1,697.9L518.8,698.5L522.5,699.0L526.1,699.2L529.8,699.2L533.5,699.1L537.1,699.0L540.8,698.8L544.5,698.6L548.2,698.4L551.8,698.3L555.5,698.2"/>
<path d="M203.0,698.2L206.7,698.0L210.3,697.8L214.0,697.8L217.7,697.8L221.4,697.7L225.0,697.4L228.7,697.1L232.4,696.7L236.0,696.3L239.7,696.0L243.4,695.7L247.1,695.4L250.7,695.2L254.4,695.0L258.1,694.8L261.8,694.6L265.4,694.6L269.1,694.9L272.8,695.3L276.4,695.4L280.1,695.2L283.8,695.1L287.5,695.1L291.1,695.1L294.8,695.0L298.5,695.3L302.1,695.7L305.8,696.0L309.5,695.9L313.2,695.7L316.8,695.5L320.5,695.3L324.2,694.9L327.8,694.5L331.5,694.2L335.2,694.0L338.9,694.1L342.5,694.0L346.2,693.9L349.9,693.6L353.5,693.4L357.2,693.2L360.9,692.9L364.6,692.6L368.2,692.5L371.9,693.0L375.6,694.0L379.2,694.9L382.9,695.6L386.6,696.5L390.3,697.4L393.9,697.9L397.6,698.1L401.3,698.4L405.0,699.4L408.6,700.6L412.3,701.4L416.0,701.7L419.6,701.8L423.3,701.6L427.0,701.3L430.7,700.7L434.3,700.2L438.0,699.8L441.7,699.5L445.3,699.5L449.0,699.4L452.7,699.2L456.4,698.9L460.0,698.8L463.7,699.1L467.4,699.5L471.0,699.5L474.7,699.2L478.4,699.1L482.1,699.4L485.7,699.7L489.4,699.6L493.1,699.0L496.8,698.3L500.4,697.6L504.1,696.9L507.8,696.4L511.4,696.0L515.1,695.7L518.8,695.5L522.5,695.6L526.1,696.0L529.8,696.4L533.5,696.8L537.1,697.0L540.8,697.1L544.5,697.4L548.2,697.6L551.8,697.9L555.5,698.2"/>
<path d="M203.0,698.2L206.7,694.7L210.3,693.0L214.0,691.9L217.7,691.2L221.4,690.7L225.0,690.1L228.7,689.3L232.4,688.6L236.0,688.2L239.7,688.3L243.4,688.8L247.1,689.5L250.7,690.4L254.4,691.3L258.1,692.3L261.8,692.9L265.4,693.3L269.1,693.4L272.8,693.3L276.4,692.8L280.1,692.1L283.8,691.3L287.5,690.1L291.1,688.9L294.8,688.0L298.5,687.6L302.1,687.6L305.8,687.7L309.5,687.6L313.2,687.6L316.8,688.1L320.5,689.2L324.2,690.6L327.8,691.8L331.5,692.7L335.2,693.7L338.9,695.0L342.5,696.4L346.2,697.6L349.9,698.3L353.5,699.1L357.2,700.4L360.9,702.0L364.6,703.3L368.2,703.8L371.9,704.0L375.6,704.5L379.2,705.2L382.9,706.2L386.6,707.0L390.3,707.7L393.9,708.0L397.6,707.9L401.3,707.5L405.0,706.8L408.6,705.9L412.3,704.5L416.0,702.8L419.6,701.5L423.3,700.8L427.0,700.2L430.7,699.6L434.3,698.8L438.0,698.0L441.7,697.5L445.3,697.3L449.0,697.1L452.7,696.8L456.4,696.7L460.0,696.9L463.7,697.1L467.4,697.0L471.0,696.6L474.7,696.4L478.4,696.4L482.1,696.3L485.7,696.1L489.4,695.8L493.1,695.7L496.8,696.0L500.4,696.9L504.1,698.0L507.8,698.8L511.4,699.3L515.1,699.4L518.8,699.3L522.5,699.1L526.1,698.9L529.8,698.8L533.5,698.7L537.1,698.7L540.8,698.5L544.5,698.3L548.2,698.1L551.8,698.1L555.5,698.2"/>
<path d="M203.0,698.2L206.7,697.8L210.3,697.7L214.0,697.8L217.7,697.9L221.4,698.2L225.0,698.6L228.7,699.1L232.4,699.5L236.0,699.7L239.7,699.3L243.4,698.6L247.1,697.8L250.7,697.3L254.4,697.3L258.1,697.5L261.8,698.0L265.4,698.8L269.1,699.8L272.8,700.4L276.4,700.6L280.1,700.8L283.8,701.5L287.5,703.0L291.1,704.8L294.8,706.4L298.5,707.5L302.1,707.9L305.8,708.0L309.5,708.0L313.2,708.3L316.8,709.0L320.5,709.8L324.2,710.5L327.8,710.8L331.5,710.7L335.2,710.3L338.9,709.4L342.5,708.0L346.2,706.8L349.9,706.1L353.5,705.7L357.2,705.7L360.9,705.6L364.6,705.3L368.2,705.0L371.9,705.0L375.6,705.4L379.2,705.5L382.9,704.6L386.6,702.7L390.3,700.9L393.9,699.8L397.6,699.7L401.3,699.6L405.0,698.9L408.6,697.2L412.3,695.8L416.0,695.8L419.6,697.2L423.3,698.7L427.0,699.1L430.7,698.5L434.3,697.7L438.0,697.3L441.7,697.2L445.3,697.3L449.0,697.5L452.7,697.8L456.4,698.5L460.0,699.3L463.7,700.2L467.4,700.9L471.0,701.4L474.7,701.6L478.4,702.0L482.1,702.7L485.7,703.5L489.4,704.3L493.1,704.8L496.8,704.8L500.4,704.5L504.1,703.9L507.8,703.4L511.4,702.9L515.1,702.3L518.8,701.7L522.5,701.2L526.1,700.7L529.8,700.3L533.5,699.8L537.1,699.6L540.8,699.4L544.5,699.2L548.2,698.8L551.8,698.5L555.5,698.2"/>
<path d="M203.0,698.2L206.7,698.3L210.3,698.3L214.0,697.9L217.7,697.1L221.4,696.2L225.0,695.4L228.7,695.0L232.4,694.6L236.0,694.2L239.7,694.1L243.4,694.3L247.1,694.6L250.7,695.0L254.4,694.9L258.1,694.7L261.8,694.6L265.4,694.8L269.1,695.1L272.8,695.2L276.4,695.5L280.1,696.2L283.8,697.3L287.5,698.4L291.1,699.2L294.8,699.5L298.5,699.4L302.1,699.0L305.8,699.3L309.5,700.1L313.2,700.8L316.8,700.5L320.5,699.3L324.2,697.4L327.8,695.5L331.5,693.9L335.2,693.2L338.9,693.2L342.5,693.5L346.2,693.7L349.9,693.8L353.5,694.2L357.2,694.8L360.9,695.8L364.6,697.0L368.2,698.1L371.9,698.8L375.6,699.1L379.2,699.2L382.9,699.4L386.6,699.6L390.3,699.6L393.9,699.8L397.6,700.1L401.3,700.1L405.0,699.5L408.6,698.8L412.3,698.1L416.0,697.7L419.6,697.4L423.3,697.1L427.0,696.7L430.7,696.1L434.3,695.4L438.0,694.7L441.7,694.1L445.3,693.5L449.0,693.2L452.7,693.5L456.4,694.7L460.0,696.7L463.7,699.0L467.4,701.1L471.0,702.7L474.7,703.5L478.4,703.7L482.1,703.7L485.7,703.3L489.4,702.7L493.1,701.9L496.8,701.1L500.4,700.7L504.1,700.7L507.8,700.7L511.4,700.4L515.1,699.9L518.8,699.4L522.5,699.0L526.1,698.6L529.8,698.4L533.5,698.3L537.1,698.2L540.8,698.2L544.5,698.2L548.2,698.2L551.8,698.2L555.5,698.2"/>
<path d="M203.0,698.2L206.7,698.9L210.3,699.3L214.0,699.6L217.7,699.7L221.4,699.6L225.0,699.3L228.7,698.9L232.4,698.7L236.0,698.6L239.7,698.5L243.4,697.9L247.1,697.1L250.7,696.4L254.4,696.1L258.1,696.0L261.8,696.0L265.4,696.1L269.1,696.5L272.8,696.9L276.4,697.1L280.1,697.0L283.8,696.2L287.5,694.5L291.1,692.5L294.8,691.1L298.5,690.8L302.1,691.4L305.8,692.1L309.5,692.3L313.2,692.1L316.8,691.6L320.5,691.3L324.2,691.1L327.8,691.2L331.5,691.4L335.2,691.4L338.9,691.5L342.5,691.8L346.2,691.9L349.9,691.3L353.5,689.8L357.2,687.9L360.9,686.4L364.6,685.5L368.2,684.9L371.9,684.6L375.6,684.3L379.2,684.0L382.9,683.7L386.6,683.8L390.3,684.2L393.9,684.7L397.6,685.0L401.3,685.4L405.0,685.9L408.6,686.3L412.3,686.5L416.0,686.9L419.6,687.3L423.3,687.5L427.0,687.3L430.7,687.6L434.3,688.7L438.0,690.3L441.7,691.5L445.3,691.8L449.0,691.5L452.7,691.2L456.4,691.0L460.0,690.6L463.7,689.8L467.4,689.3L471.0,689.4L474.7,690.0L478.4,690.4L482.1,690.9L485.7,691.5L489.4,692.2L493.1,692.9L496.8,693.4L500.4,693.7L504.1,694.0L507.8,694.1L511.4,694.1L515.1,694.3L518.8,694.7L522.5,695.2L526.1,695.6L529.8,696.1L533.5,696.7L537.1,697.3L540.8,697.7L544.5,697.9L548.2,698.1L551.8,698.1L555.5,698.2"/>
<path d="M203.0,698.2L206.7,697.1L210.3,696.7L214.0,696.4L217.7,696.2L221.4,696.2L225.0,696.2L228.7,696.2L232.4,696.1L236.0,695.8L239.7,695.6L243.4,695.5L247.1,695.4L250.7,695.4L254.4,695.7L258.1,696.4L261.8,697.4L265.4,698.4L269.1,699.3L272.8,700.0L276.4,700.2L280.1,700.0L283.8,699.4L287.5,699.0L291.1,698.9L294.8,698.5L298.5,697.4L302.1,696.1L305.8,695.1L309.5,694.7L313.2,694.6L316.8,694.8L320.5,695.4L324.2,696.3L327.8,697.3L331.5,698.1L335.2,699.3L338.9,700.9L342.5,702.8L346.2,704.8L349.9,706.4L353.5,707.4L357.2,707.6L360.9,707.1L364.6,706.1L368.2,704.7L371.9,703.2L375.6,701.6L379.2,699.8L382.9,697.9L386.6,696.1L390.3,694.9L393.9,694.4L397.6,694.2L401.3,693.6L405.0,692.5L408.6,691.1L412.3,689.7L416.0,688.9L419.6,689.2L423.3,690.1L427.0,691.0L430.7,691.6L434.3,692.0L438.0,692.4L441.7,693.1L445.3,693.8L449.0,694.5L452.7,695.2L456.4,695.6L460.0,695.4L463.7,694.7L467.4,694.0L471.0,693.5L474.7,693.4L478.4,693.5L482.1,693.8L485.7,694.1L489.4,694.5L493.1,694.8L496.8,694.9L500.4,694.8L504.1,694.9L507.8,695.3L511.4,695.8L515.1,696.2L518.8,696.3L522.5,696.4L526.1,696.7L529.8,697.1L533.5,697.5L537.1,697.8L540.8,697.9L544.5,697.9L548.2,698.0L551.8,698.1L555.5,698.2"/>
<path d="M203.0,698.2L206.7,697.3L210.3,697.0L214.0,696.8L217.7,696.5L221.4,696.0L225.0,695.5L228.7,695.2L232.4,695.1L236.0,695.3L239.7,695.8L243.4,696.1L247.1,696.3L250.7,696.3L254.4,696.2L258.1,696.0L261.8,695.6L265.4,695.0L269.1,694.5L272.8,693.9L276.4,693.4L280.1,693.0L283.8,692.6L287.5,692.3L291.1,692.5L294.8,693.3L298.5,694.4L302.1,695.1L305.8,695.3L309.5,695.5L313.2,696.3L316.8,697.3L320.5,697.9L324.2,697.7L327.8,697.0L331.5,696.5L335.2,696.3L338.9,696.2L342.5,695.7L346.2,694.9L349.9,694.3L353.5,694.1L357.2,693.9L360.9,693.4L364.6,693.0L368.2,692.7L371.9,692.6L375.6,693.1L379.2,694.3L382.9,696.1L386.6,698.1L390.3,700.0L393.9,701.1L397.6,701.5L401.3,701.1L405.0,700.6L408.6,700.2L412.3,699.7L416.0,699.3L419.6,698.8L423.3,698.5L427.0,698.1L430.7,697.7L434.3,697.2L438.0,696.6L441.7,696.0L445.3,695.5L449.0,694.9L452.7,693.9L456.4,692.5L460.0,691.2L463.7,690.3L467.4,689.9L471.0,689.9L474.7,690.0L478.4,689.9L482.1,690.0L485.7,690.4L489.4,691.0L493.1,691.9L496.8,692.8L500.4,693.7L504.1,694.2L507.8,694.6L511.4,694.9L515.1,695.5L518.8,696.2L522.5,696.6L526.1,697.0L529.8,697.3L533.5,697.6L537.1,697.8L540.8,697.9L544.5,698.1L548.2,698.2L551.8,698.2L555.5,698.2"/>
<path d="M203.0,698.2L206.7,699.5L210.3,700.1L214.0,700.5L217.7,700.8L221.4,700.8L225.0,701.0L228.7,701.4L232.4,702.2L236.0,702.9L239.7,703.2L243.4,703.2L247.1,703.0L250.7,702.7L254.4,702.1L258.1,701.3L261.8,701.0L265.4,701.2L269.1,701.7L272.8,702.3L276.4,702.4L280.1,702.3L283.8,702.1L287.5,702.0L291.1,702.2L294.8,702.3L298.5,702.0L302.1,700.9L305.8,699.5L309.5,698.4L313.2,697.9L316.8,697.7L320.5,697.6L324.2,697.8L327.8,698.6L331.5,700.1L335.2,701.4L338.9,701.7L342.5,701.0L346.2,700.1L349.9,699.6L353.5,699.0L357.2,698.2L360.9,697.2L364.6,696.5L368.2,696.1L371.9,695.8L375.6,695.4L379.2,694.4L382.9,692.9L386.6,691.5L390.3,690.7L393.9,690.4L397.6,690.8L401.3,691.3L405.0,691.9L408.6,692.4L412.3,693.0L416.0,693.7L419.6,694.3L423.3,694.8L427.0,695.0L430.7,694.8L434.3,694.3L438.0,693.9L441.7,693.6L445.3,693.4L449.0,693.5L452.7,693.6L456.4,693.7L460.0,693.6L463.7,693.2L467.4,692.7L471.0,692.6L474.7,692.9L478.4,693.1L482.1,693.3L485.7,693.5L489.4,694.0L493.1,694.5L496.8,694.8L500.4,695.0L504.1,695.0L507.8,694.9L511.4,695.0L515.1,695.3L518.8,695.8L522.5,696.3L526.1,696.6L529.8,696.8L533.5,696.8L537.1,696.9L540.8,697.0L544.5,697.3L548.2,697.6L551.8,697.9L555.5,698.2"/>
<path d="M203.0,698.2L206.7,696.7L210.3,695.9L214.0,695.4L217.7,695.1L221.4,694.8L225.0,694.5L228.7,694.4L232.4,694.2L236.0,694.0L239.7,693.9L243.4,694.0L247.1,694.2L250.7,694.2L254.4,694.0L258.1,693.3L261.8,692.3L265.4,691.3L269.1,691.0L272.8,691.5L276.4,692.5L280.1,693.5L283.8,694.5L287.5,695.6L291.1,696.3L294.8,696.1L298.5,695.3L302.1,694.7L305.8,694.5L309.5,694.3L313.2,694.1L316.8,693.6L320.5,692.8L324.2,691.8L327.8,691.0L331.5,690.4L335.2,689.7L338.9,688.7L342.5,688.0L346.2,688.0L349.9,688.4L353.5,689.0L357.2,689.3L360.9,689.3L364.6,689.4L368.2,689.9L371.9,690.7L375.6,691.3L379.2,691.8L382.9,692.1L386.6,692.3L390.3,692.5L393.9,692.6L397.6,692.7L401.3,692.8L405.0,692.5L408.6,691.5L412.3,690.0L416.0,688.8L419.6,688.5L423.3,688.8L427.0,689.3L430.7,689.7L434.3,689.9L438.0,690.3L441.7,690.8L445.3,691.3L449.0,691.2L452.7,690.8L456.4,690.7L460.0,691.2L463.7,691.8L467.4,692.0L471.0,691.9L474.7,691.9L478.4,692.4L482.1,693.1L485.7,693.6L489.4,693.7L493.1,694.0L496.8,694.5L500.4,695.1L504.1,695.6L507.8,695.8L511.4,695.9L515.1,696.2L518.8,696.8L522.5,697.5L526.1,697.9L529.8,698.2L533.5,698.4L537.1,698.6L540.8,698.7L544.5,698.6L548.2,698.4L551.8,698.3L555.5,698.2"/>
<path d="M203.0,698.2L206.7,697.7L210.3,697.5L214.0,697.4L217.7,697.2L221.4,696.8L225.0,696.6L228.7,696.3L232.4,695.9L236.0,695.1L239.7,694.3L243.4,693.9L247.1,694.0L250.7,694.0L254.4,693.6L258.1,692.5L261.8,691.1L265.4,689.8L269.1,688.8L272.8,688.6L276.4,688.7L280.1,688.4L283.8,687.3L287.5,685.7L291.1,684.7L294.8,684.3L298.5,684.6L302.1,685.3L305.8,686.3L309.5,687.2L313.2,687.8L316.8,688.1L320.5,688.3L324.2,688.7L327.8,688.8L331.5,688.7L335.2,688.7L338.9,688.9L342.5,689.1L346.2,688.9L349.9,687.7L353.5,686.0L357.2,684.3L360.9,682.8L364.6,682.1L368.2,682.4L371.9,683.4L375.6,684.6L379.2,685.5L382.9,686.5L386.6,687.3L390.3,688.0L393.9,688.4L397.6,688.4L401.3,688.4L405.0,688.7L408.6,689.4L412.3,690.2L416.0,690.6L419.6,690.4L423.3,690.1L427.0,690.1L430.7,690.5L434.3,691.2L438.0,691.4L441.7,691.0L445.3,690.7L449.0,691.1L452.7,692.0L456.4,692.8L460.0,693.2L463.7,693.9L467.4,694.9L471.0,695.9L474.7,696.8L478.4,698.0L482.1,699.7L485.7,701.1L489.4,702.0L493.1,702.4L496.8,702.8L500.4,703.3L504.1,703.5L507.8,703.3L511.4,702.7L515.1,701.8L518.8,701.0L522.5,700.2L526.1,699.5L529.8,698.9L533.5,698.6L537.1,698.4L540.8,698.3L544.5,698.3L548.2,698.3L551.8,698.3L555.5,698.2"/>
<path d="M203.0,698.2L206.7,696.6L210.3,695.9L214.0,695.4L217.7,695.1L221.4,694.6L225.0,694.1L228.7,693.5L232.4,693.1L236.0,693.4L239.7,694.0L243.4,694.6L247.1,694.9L250.7,695.0L254.4,695.0L258.1,694.8L261.8,694.0L265.4,692.5L269.1,690.8L272.8,689.0L276.4,687.6L280.1,686.7L283.8,686.4L287.5,686.6L291.1,687.1L294.8,687.2L298.5,687.4L302.1,688.2L305.8,689.9L309.5,691.5L313.2,692.2L316.8,692.2L320.5,692.4L324.2,693.1L327.8,693.9L331.5,694.7L335.2,695.6L338.9,696.4L342.5,697.4L346.2,698.6L349.9,700.3L353.5,702.0L357.2,703.2L360.9,703.9L364.6,704.4L368.2,705.1L371.9,706.3L375.6,707.6L379.2,708.5L382.9,709.0L386.6,709.6L390.3,710.0L393.9,709.9L397.6,709.3L401.3,708.5L405.0,708.0L408.6,707.9L412.3,707.9L416.0,707.6L419.6,706.8L423.3,705.8L427.0,704.8L430.7,704.0L434.3,703.5L438.0,703.4L441.7,703.4L445.3,703.0L449.0,702.3L452.7,701.5L456.4,700.8L460.0,700.6L463.7,700.5L467.4,700.3L471.0,700.2L474.7,700.2L478.4,700.4L482.1,700.5L485.7,700.6L489.4,701.0L493.1,701.4L496.8,701.5L500.4,701.2L504.1,701.0L507.8,700.8L511.4,700.7L515.1,700.6L518.8,700.5L522.5,700.3L526.1,700.0L529.8,699.6L533.5,699.1L537.1,698.8L540.8,698.5L544.5,698.4L548.2,698.3L551.8,698.2L555.5,698.2"/>
<path d="M203.0,698.2L206.7,698.7L210.3,699.1L214.0,699.5L217.7,699.9L221.4,700.3L225.0,700.7L228.7,701.0L232.4,701.1L236.0,701.1L239.7,700.8L243.4,700.4L247.1,700.2L250.7,700.6L254.4,701.5L258.1,702.1L261.8,702.3L265.4,702.0L269.1,701.7L272.8,701.5L276.4,701.2L280.1,700.7L283.8,700.2L287.5,699.7L291.1,699.5L294.8,699.7L298.5,700.2L302.1,700.5L305.8,700.2L309.5,699.7L313.2,699.3L316.8,699.2L320.5,699.2L324.2,699.3L327.8,699.7L331.5,700.3L335.2,700.7L338.9,700.7L342.5,700.5L346.2,700.4L349.9,700.8L353.5,701.3L357.2,701.7L360.9,701.7L364.6,701.4L368.2,700.7L371.9,699.7L375.6,698.6L379.2,697.7L382.9,696.9L386.6,696.4L390.3,696.1L393.9,696.2L397.6,696.7L401.3,697.5L405.0,698.6L408.6,699.6L412.3,700.3L416.0,700.4L419.6,700.4L423.3,700.4L427.0,700.9L430.7,701.7L434.3,702.3L438.0,702.1L441.7,701.4L445.3,700.8L449.0,700.5L452.7,700.3L456.4,699.8L460.0,698.7L463.7,697.3L467.4,696.0L471.0,695.2L474.7,695.1L478.4,695.5L482.1,695.9L485.7,696.2L489.4,696.2L493.1,695.9L496.8,695.6L500.4,695.6L504.1,695.6L507.8,695.7L511.4,695.8L515.1,695.9L518.8,696.2L522.5,696.5L526.1,696.7L529.8,696.8L533.5,696.9L537.1,697.0L540.8,697.2L544.5,697.4L548.2,697.7L551.8,697.9L555.5,698.2"/>
<path d="M203.0,698.2L206.7,696.5L210.3,695.8L214.0,695.4L217.7,695.3L221.4,695.4L225.0,695.5L228.7,695.4L232.4,695.0L236.0,694.3L239.7,693.7L243.4,693.5L247.1,693.4L250.7,693.1L254.4,692.4L258.1,691.5L261.8,690.8L265.4,690.4L269.1,689.7L272.8,688.4L276.4,687.1L280.1,686.5L283.8,686.6L287.5,686.6L291.1,686.3L294.8,685.9L298.5,686.3L302.1,687.9L305.8,690.1L309.5,691.7L313.2,692.1L316.8,691.9L320.5,691.8L324.2,692.3L327.8,693.4L331.5,695.0L335.2,697.0L338.9,698.9L342.5,700.1L346.2,700.4L349.9,700.4L353.5,700.3L357.2,700.5L360.9,701.2L364.6,702.5L368.2,703.5L371.9,703.9L375.6,704.0L379.2,704.2L382.9,704.6L386.6,704.6L390.3,704.4L393.9,704.1L397.6,704.2L401.3,704.6L405.0,705.1L408.6,705.4L412.3,705.3L416.0,705.3L419.6,705.3L423.3,705.1L427.0,704.7L430.7,704.2L434.3,704.1L438.0,704.5L441.7,705.2L445.3,705.7L449.0,706.1L452.7,706.2L456.4,705.7L460.0,704.8L463.7,703.9L467.4,703.2L471.0,702.7L474.7,702.4L478.4,702.6L482.1,703.0L485.7,703.3L489.4,703.2L493.1,703.1L496.8,703.1L500.4,703.3L504.1,703.3L507.8,703.1L511.4,702.4L515.1,701.6L518.8,700.9L522.5,700.3L526.1,699.9L529.8,699.5L533.5,699.1L537.1,698.7L540.8,698.3L544.5,698.1L548.2,698.0L551.8,698.1L555.5,698.2"/>
<path d="M203.0,698.2L206.7,698.1L210.3,698.0L214.0,698.0L217.7,698.1L221.4,698.2L225.0,698.3L228.7,698.1L232.4,697.7L236.0,697.1L239.7,696.7L243.4,696.7L247.1,697.0L250.7,697.4L254.4,697.9L258.1,698.6L261.8,699.3L265.4,699.8L269.1,700.2L272.8,700.5L276.4,700.4L280.1,700.1L283.8,699.6L287.5,699.0L291.1,697.9L294.8,696.2L298.5,694.2L302.1,692.6L305.8,691.7L309.5,691.2L313.2,691.1L316.8,691.0L320.5,690.9L324.2,690.4L327.8,690.1L331.5,690.3L335.2,690.9L338.9,691.6L342.5,692.1L346.2,693.2L349.9,695.0L353.5,697.2L357.2,699.1L360.9,700.6L364.6,702.2L368.2,703.8L371.9,705.2L375.6,706.2L379.2,706.6L382.9,706.8L386.6,706.8L390.3,706.9L393.9,706.9L397.6,706.9L401.3,706.5L405.0,705.7L408.6,704.7L412.3,703.8L416.0,703.3L419.6,703.1L423.3,703.3L427.0,703.5L430.7,703.9L434.3,704.5L438.0,705.1L441.7,706.0L445.3,707.5L449.0,709.4L452.7,711.0L456.4,711.8L460.0,712.1L463.7,712.4L467.4,712.5L471.0,712.2L474.7,711.6L478.4,710.9L482.1,709.8L485.7,708.1L489.4,706.1L493.1,704.6L496.8,703.7L500.4,703.2L504.1,702.7L507.8,702.1L511.4,701.4L515.1,700.9L518.8,700.3L522.5,699.6L526.1,699.0L529.8,698.5L533.5,698.3L537.1,698.1L540.8,697.9L544.5,697.8L548.2,697.8L551.8,698.0L555.5,698.2"/>
<path d="M203.0,698.2L206.7,696.1L210.3,695.2L214.0,694.4L217.7,693.7L221.4,692.9L225.0,692.2L228.7,691.8L232.4,691.8L236.0,692.2L239.7,692.8L243.4,693.5L247.1,693.9L250.7,694.1L254.4,694.1L258.1,693.9L261.8,693.5L265.4,692.9L269.1,692.4L272.8,692.5L276.4,693.1L280.1,693.6L283.8,693.6L287.5,693.5L291.1,693.7L294.8,694.1L298.5,694.5L302.1,694.7L305.8,694.5L309.5,693.6L313.2,692.2L316.8,691.1L320.5,690.5L324.2,690.4L327.8,690.6L331.5,691.0L335.2,691.7L338.9,692.7L342.5,693.4L346.2,693.4L349.9,693.0L353.5,692.4L357.2,692.1L360.9,692.2L364.6,692.5L368.2,693.1L371.9,693.5L375.6,693.6L379.2,693.4L382.9,693.2L386.6,693.0L390.3,692.5L393.9,692.2L397.6,692.1L401.3,692.0L405.0,691.6L408.6,691.1L412.3,690.7L416.0,690.5L419.6,690.4L423.3,690.1L427.0,689.5L430.7,689.0L434.3,688.6L438.0,688.1L441.7,688.0L445.3,688.5L449.0,689.2L452.7,689.5L456.4,689.8L460.0,690.3L463.7,691.1L467.4,692.0L471.0,693.5L474.7,695.3L478.4,697.2L482.1,699.1L485.7,700.8L489.4,701.7L493.1,702.2L496.8,702.4L500.4,702.4L504.1,702.1L507.8,701.6L511.4,701.0L515.1,700.5L518.8,699.9L522.5,699.5L526.1,699.2L529.8,699.0L533.5,698.8L537.1,698.5L540.8,698.3L544.5,698.2L548.2,698.2L551.8,698.2L555.5,698.2"/>
<path d="M203.0,698.2L206.7,697.6L210.3,697.4L214.0,697.3L217.7,697.4L221.4,697.4L225.0,697.1L228.7,696.6L232.4,696.1L236.0,695.6L239.7,695.3L243.4,694.9L247.1,694.6L250.7,694.4L254.4,694.7L258.1,695.4L261.8,695.7L265.4,695.1L269.1,694.0L272.8,693.1L276.4,692.8L280.1,692.5L283.8,691.8L287.5,691.0L291.1,691.1L294.8,692.1L298.5,693.7L302.1,695.2L305.8,696.3L309.5,696.8L313.2,697.3L316.8,697.9L320.5,698.7L324.2,699.5L327.8,700.0L331.5,700.4L335.2,700.6L338.9,700.6L342.5,699.9L346.2,698.6L349.9,697.2L353.5,696.5L357.2,696.7L360.9,697.2L364.6,697.7L368.2,698.0L371.9,698.0L375.6,697.7L379.2,697.3L382.9,697.0L386.6,697.1L390.3,697.6L393.9,698.0L397.6,697.8L401.3,697.6L405.0,698.1L408.6,699.2L412.3,700.1L416.0,700.1L419.6,699.4L423.3,698.8L427.0,698.6L430.7,698.4L434.3,697.7L438.0,696.5L441.7,695.5L445.3,695.3L449.0,695.6L452.7,695.5L456.4,694.7L460.0,693.3L463.7,692.1L467.4,691.5L471.0,691.5L474.7,691.9L478.4,691.9L482.1,691.6L485.7,691.3L489.4,691.7L493.1,692.5L496.8,693.5L500.4,694.2L504.1,694.8L507.8,695.4L511.4,695.9L515.1,696.4L518.8,696.9L522.5,697.5L526.1,698.0L529.8,698.4L533.5,698.6L537.1,698.6L540.8,698.6L544.5,698.5L548.2,698.4L551.8,698.3L555.5,698.2"/>
<path d="M203.0,698.2L206.7,697.2L210.3,696.7L214.0,696.3L217.7,695.9L221.4,695.6L225.0,695.4L228.7,695.4L232.4,695.5L236.0,695.7L239.7,696.0L243.4,696.3L247.1,696.9L250.7,697.6L254.4,698.7L258.1,699.9L261.8,700.8L265.4,701.2L269.1,701.4L272.8,701.9L276.4,702.4L280.1,702.5L283.8,701.9L287.5,701.0L291.1,700.3L294.8,700.1L298.5,700.4L302.1,700.7L305.8,700.4L309.5,699.8L313.2,699.2L316.8,698.7L320.5,698.1L324.2,697.7L327.8,698.0L331.5,698.8L335.2,699.3L338.9,699.1L342.5,698.2L346.2,697.1L349.9,696.3L353.5,695.8L357.2,695.5L360.9,695.1L364.6,695.1L368.2,695.9L371.9,697.6L375.6,699.5L379.2,700.9L382.9,701.5L386.6,701.5L390.3,701.4L393.9,701.1L397.6,700.6L401.3,699.7L405.0,698.5L408.6,697.4L412.3,696.5L416.0,695.7L419.6,694.7L423.3,693.5L427.0,692.5L430.7,692.0L434.3,692.2L438.0,693.2L441.7,694.8L445.3,696.4L449.0,697.6L452.7,698.2L456.4,698.6L460.0,698.7L463.7,698.2L467.4,697.2L471.0,696.0L474.7,695.0L478.4,694.2L482.1,693.7L485.7,693.5L489.4,693.5L493.1,693.6L496.8,693.8L500.4,694.2L504.1,695.0L507.8,695.8L511.4,696.5L515.1,696.9L518.8,697.1L522.5,697.3L526.1,697.4L529.8,697.5L533.5,697.6L537.1,697.7L540.8,697.8L544.5,697.9L548.2,698.0L551.8,698.1L555.5,698.2"/>
<path d="M203.0,698.2L206.7,696.9L210.3,696.1L214.0,695.5L217.7,695.0L221.4,694.7L225.0,694.9L228.7,695.6L232.4,696.5L236.0,697.4L239.7,697.9L243.4,698.1L247.1,698.0L250.7,698.1L254.4,698.7L258.1,699.9L261.8,701.4L265.4,702.6L269.1,703.2L272.8,703.3L276.4,703.3L280.1,703.0L283.8,702.4L287.5,702.1L291.1,702.2L294.8,702.6L298.5,702.9L302.1,703.2L305.8,703.6L309.5,703.8L313.2,703.3L316.8,702.3L320.5,701.4L324.2,700.8L327.8,700.9L331.5,701.6L335.2,702.7L338.9,703.9L342.5,704.6L346.2,705.1L349.9,705.7L353.5,706.4L357.2,707.5L360.9,708.7L364.6,709.7L368.2,710.4L371.9,710.6L375.6,710.2L379.2,709.3L382.9,708.0L386.6,706.4L390.3,705.1L393.9,704.3L397.6,704.5L401.3,705.2L405.0,705.8L408.6,705.9L412.3,705.6L416.0,705.2L419.6,705.1L423.3,705.2L427.0,705.6L430.7,705.8L434.3,705.9L438.0,705.9L441.7,705.7L445.3,705.1L449.0,704.4L452.7,703.7L456.4,702.9L460.0,701.9L463.7,700.8L467.4,700.2L471.0,700.2L474.7,700.3L478.4,700.3L482.1,699.8L485.7,699.2L489.4,699.0L493.1,699.4L496.8,699.8L500.4,700.2L504.1,700.4L507.8,700.4L511.4,700.3L515.1,700.1L518.8,699.7L522.5,699.4L526.1,699.2L529.8,699.0L533.5,698.7L537.1,698.5L540.8,698.3L544.5,698.2L548.2,698.1L551.8,698.1L555.5,698.2"/>
<path d="M203.0,698.2L206.7,698.8L210.3,699.3L214.0,699.7L217.7,699.9L221.4,700.1L225.0,700.4L228.7,701.0L232.4,701.6L236.0,702.1L239.7,702.3L243.4,702.3L247.1,702.3L250.7,702.0L254.4,701.5L258.1,701.1L261.8,700.9L265.4,700.8L269.1,700.6L272.8,700.2L276.4,699.3L280.1,698.0L283.8,696.6L287.5,695.8L291.1,695.5L294.8,695.4L298.5,695.2L302.1,694.8L305.8,694.0L309.5,693.1L313.2,692.6L316.8,692.9L320.5,693.9L324.2,694.9L327.8,695.5L331.5,695.5L335.2,695.4L338.9,695.5L342.5,695.9L346.2,696.4L349.9,696.6L353.5,696.2L357.2,695.2L360.9,694.0L364.6,693.1L368.2,692.6L371.9,692.1L375.6,691.6L379.2,690.8L382.9,689.7L386.6,688.5L390.3,688.0L393.9,688.1L397.6,688.1L401.3,687.8L405.0,687.2L408.6,687.0L412.3,687.2L416.0,687.6L419.6,687.8L423.3,687.9L427.0,688.1L430.7,688.5L434.3,689.4L438.0,690.3L441.7,691.3L445.3,691.8L449.0,691.8L452.7,691.3L456.4,691.0L460.0,691.1L463.7,691.7L467.4,692.8L471.0,694.2L474.7,695.4L478.4,696.2L482.1,697.1L485.7,698.2L489.4,699.2L493.1,699.9L496.8,700.3L500.4,700.3L504.1,700.1L507.8,699.5L511.4,698.9L515.1,698.6L518.8,698.4L522.5,698.3L526.1,698.3L529.8,698.1L533.5,698.0L537.1,698.1L540.8,698.2L544.5,698.3L548.2,698.3L551.8,698.3L555.5,698.2"/>
<path d="M203.0,698.2L206.7,698.8L210.3,699.1L214.0,699.4L217.7,699.9L221.4,700.6L225.0,701.3L228.7,702.0L232.4,702.6L236.0,703.2L239.7,703.5L243.4,703.3L247.1,702.5L250.7,701.7L254.4,701.1L258.1,700.9L261.8,701.0L265.4,701.5L269.1,701.9L272.8,701.6L276.4,701.2L280.1,701.3L283.8,702.0L287.5,702.8L291.1,703.4L294.8,703.8L298.5,704.3L302.1,704.7L305.8,705.4L309.5,706.4L313.2,707.2L316.8,707.8L320.5,708.3L324.2,708.8L327.8,709.2L331.5,709.3L335.2,709.0L338.9,708.3L342.5,707.6L346.2,707.4L349.9,707.6L353.5,708.0L357.2,708.4L360.9,708.7L364.6,708.6L368.2,708.2L371.9,707.8L375.6,707.6L379.2,707.6L382.9,707.6L386.6,707.1L390.3,705.7L393.9,703.8L397.6,702.4L401.3,702.0L405.0,702.4L408.6,702.9L412.3,702.9L416.0,702.0L419.6,700.5L423.3,699.4L427.0,699.0L430.7,699.3L434.3,699.6L438.0,699.6L441.7,699.1L445.3,698.1L449.0,696.9L452.7,696.0L456.4,695.7L460.0,695.5L463.7,694.7L467.4,693.3L471.0,692.2L474.7,692.1L478.4,692.7L482.1,693.3L485.7,693.4L489.4,693.0L493.1,692.5L496.8,692.2L500.4,692.4L504.1,692.7L507.8,693.2L511.4,693.9L515.1,694.7L518.8,695.6L522.5,696.3L526.1,696.8L529.8,697.1L533.5,697.5L537.1,697.9L540.8,698.2L544.5,698.4L548.2,698.4L551.8,698.3L555.5,698.2"/>
<path d="M203.0,698.2L206.7,696.4L210.3,695.5L214.0,694.9L217.7,694.4L221.4,693.7L225.0,693.1L228.7,692.6L232.4,692.4L236.0,692.2L239.7,692.1L243.4,692.0L247.1,691.7L250.7,691.5L254.4,691.6L258.1,692.4L261.8,693.6L265.4,694.5L269.1,694.8L272.8,694.6L276.4,694.2L280.1,694.0L283.8,693.9L287.5,693.9L291.1,694.3L294.8,694.9L298.5,695.6L302.1,696.1L305.8,696.8L309.5,697.5L313.2,698.0L316.8,697.9L320.5,697.2L324.2,696.3L327.8,695.6L331.5,695.2L335.2,694.7L338.9,693.8L342.5,692.7L346.2,691.7L349.9,690.7L353.5,689.8L357.2,689.2L360.9,688.7L364.6,688.1L368.2,687.5L371.9,687.5L375.6,688.3L379.2,689.5L382.9,690.9L386.6,692.4L390.3,693.6L393.9,693.9L397.6,693.5L401.3,692.8L405.0,691.9L408.6,690.9L412.3,690.1L416.0,689.8L419.6,690.5L423.3,691.9L427.0,693.4L430.7,694.3L434.3,694.3L438.0,693.8L441.7,693.0L445.3,692.4L449.0,692.6L452.7,693.9L456.4,695.6L460.0,696.5L463.7,696.6L467.4,697.2L471.0,699.3L474.7,702.2L478.4,704.6L482.1,705.8L485.7,705.9L489.4,705.4L493.1,705.0L496.8,704.8L500.4,704.9L504.1,705.0L507.8,704.8L511.4,704.4L515.1,703.8L518.8,703.1L522.5,702.4L526.1,701.9L529.8,701.5L533.5,701.1L537.1,700.6L540.8,700.0L544.5,699.5L548.2,699.0L551.8,698.6L555.5,698.2"/>
<path d="M203.0,698.2L206.7,696.6L210.3,695.8L214.0,695.1L217.7,694.5L221.4,694.1L225.0,693.9L228.7,693.9L232.4,693.9L236.0,693.7L239.7,693.1L243.4,692.4L247.1,691.9L250.7,691.9L254.4,692.2L258.1,692.5L261.8,692.8L265.4,693.2L269.1,693.6L272.8,694.1L276.4,695.1L280.1,696.4L283.8,697.8L287.5,698.9L291.1,699.5L294.8,699.5L298.5,699.6L302.1,700.3L305.8,701.6L309.5,702.9L313.2,703.9L316.8,704.2L320.5,704.2L324.2,704.0L327.8,703.6L331.5,703.4L335.2,703.5L338.9,704.0L342.5,704.5L346.2,705.1L349.9,705.6L353.5,705.8L357.2,705.2L360.9,703.6L364.6,701.6L368.2,699.7L371.9,698.7L375.6,698.0L379.2,697.3L382.9,696.5L386.6,695.8L390.3,695.2L393.9,694.7L397.6,694.4L401.3,694.6L405.0,695.2L408.6,695.8L412.3,696.2L416.0,696.5L419.6,696.9L423.3,698.0L427.0,699.5L430.7,701.0L434.3,702.0L438.0,702.6L441.7,703.1L445.3,703.7L449.0,704.5L452.7,705.5L456.4,706.5L460.0,707.1L463.7,707.0L467.4,706.1L471.0,704.3L474.7,702.5L478.4,701.4L482.1,700.7L485.7,700.0L489.4,699.0L493.1,698.0L496.8,697.3L500.4,697.2L504.1,697.5L507.8,697.8L511.4,697.6L515.1,697.0L518.8,696.6L522.5,696.8L526.1,697.2L529.8,697.7L533.5,698.1L537.1,698.3L540.8,698.4L544.5,698.4L548.2,698.3L551.8,698.2L555.5,698.2"/>
<path d="M203.0,698.2L206.7,698.7L210.3,699.1L214.0,699.6L217.7,699.8L221.4,699.7L225.0,699.4L228.7,699.2L232.4,699.4L236.0,699.9L239.7,700.2L243.4,700.0L247.1,699.4L250.7,698.8L254.4,698.3L258.1,697.9L261.8,697.4L265.4,696.6L269.1,695.5L272.8,694.5L276.4,693.7L280.1,693.3L283.8,693.0L287.5,692.6L291.1,692.1L294.8,691.4L298.5,690.3L302.1,689.0L305.8,687.7L309.5,686.9L313.2,686.8L316.8,687.0L320.5,687.1L324.2,687.1L327.8,687.1L331.5,687.3L335.2,687.9L338.9,689.0L342.5,690.3L346.2,691.7L349.9,692.7L353.5,693.2L357.2,693.2L360.9,692.9L364.6,692.6L368.2,692.6L371.9,692.7L375.6,692.5L379.2,691.6L382.9,690.1L386.6,688.5L390.3,687.3L393.9,686.8L397.6,687.3L401.3,688.6L405.0,690.1L408.6,690.9L412.3,690.6L416.0,689.6L419.6,688.6L423.3,688.4L427.0,688.8L430.7,689.4L434.3,689.9L438.0,690.4L441.7,691.1L445.3,691.8L449.0,692.4L452.7,693.1L456.4,693.6L460.0,693.7L463.7,693.2L467.4,692.7L471.0,693.3L474.7,694.9L478.4,696.5L482.1,697.5L485.7,698.0L489.4,698.1L493.1,698.3L496.8,698.5L500.4,698.9L504.1,699.1L507.8,699.2L511.4,699.1L515.1,699.1L518.8,699.2L522.5,699.3L526.1,699.3L529.8,699.1L533.5,698.9L537.1,698.8L540.8,698.6L544.5,698.6L548.2,698.5L551.8,698.3L555.5,698.2"/>
<path d="M203.0,698.2L206.7,697.9L210.3,697.5L214.0,697.1L217.7,696.6L221.4,696.1L225.0,695.7L228.7,695.3L232.4,695.0L236.0,694.5L239.7,694.0L243.4,693.7L247.1,693.9L250.7,694.4L254.4,695.1L258.1,695.7L261.8,696.1L265.4,696.3L269.1,696.6L272.8,697.0L276.4,697.2L280.1,697.3L283.8,697.5L287.5,698.0L291.1,698.8L294.8,699.5L298.5,700.1L302.1,700.9L305.8,701.7L309.5,702.0L313.2,701.6L316.8,701.3L320.5,701.7L324.2,702.6L327.8,703.2L331.5,703.1L335.2,702.5L338.9,702.1L342.5,702.1L346.2,702.1L349.9,701.7L353.5,701.2L357.2,700.9L360.9,701.0L364.6,701.3L368.2,701.9L371.9,703.0L375.6,704.2L379.2,705.0L382.9,704.9L386.6,704.6L390.3,704.7L393.9,705.2L397.6,705.5L401.3,705.1L405.0,704.2L408.6,703.3L412.3,702.4L416.0,701.5L419.6,700.6L423.3,699.5L427.0,698.3L430.7,697.3L434.3,696.8L438.0,696.7L441.7,696.7L445.3,696.6L449.0,696.4L452.7,696.0L456.4,695.5L460.0,695.3L463.7,695.4L467.4,695.5L471.0,695.3L474.7,694.7L478.4,694.2L482.1,694.3L485.7,695.1L489.4,696.0L493.1,696.5L496.8,696.7L500.4,696.8L504.1,696.8L507.8,696.8L511.4,696.8L515.1,697.0L518.8,697.3L522.5,697.5L526.1,697.8L529.8,698.0L533.5,698.2L537.1,698.4L540.8,698.5L544.5,698.5L548.2,698.5L551.8,698.3L555.5,698.2"/>
<path d="M203.0,698.2L206.7,697.9L210.3,697.7L214.0,697.4L217.7,696.8L221.4,696.2L225.0,695.7L228.7,695.1L232.4,694.3L236.0,693.7L239.7,693.4L243.4,693.0L247.1,692.4L250.7,691.6L254.4,691.0L258.1,690.7L261.8,690.6L265.4,691.2L269.1,692.5L272.8,694.3L276.4,696.0L280.1,697.5L283.8,698.7L287.5,699.6L291.1,700.4L294.8,700.9L298.5,700.6L302.1,699.4L305.8,698.1L309.5,697.4L313.2,697.0L316.8,696.0L320.5,694.7L324.2,693.7L327.8,693.4L331.5,693.6L335.2,694.0L338.9,694.0L342.5,693.4L346.2,692.6L349.9,692.2L353.5,692.1L357.2,692.3L360.9,692.6L364.6,693.2L368.2,694.1L371.9,695.0L375.6,695.5L379.2,695.6L382.9,695.5L386.6,695.4L390.3,695.2L393.9,694.8L397.6,694.4L401.3,694.3L405.0,694.6L408.6,695.0L412.3,695.5L416.0,696.0L419.6,696.8L423.3,697.7L427.0,698.5L430.7,698.9L434.3,698.8L438.0,698.3L441.7,697.9L445.3,698.1L449.0,699.0L452.7,700.3L456.4,701.2L460.0,701.4L463.7,701.3L467.4,701.2L471.0,701.3L474.7,701.4L478.4,701.8L482.1,702.2L485.7,702.6L489.4,703.0L493.1,703.2L496.8,703.0L500.4,702.6L504.1,701.9L507.8,701.2L511.4,700.4L515.1,699.8L518.8,699.4L522.5,699.2L526.1,699.1L529.8,699.1L533.5,698.9L537.1,698.7L540.8,698.4L544.5,698.3L548.2,698.2L551.8,698.2L555.5,698.2"/>
<path d="M203.0,698.2L206.7,698.5L210.3,698.7L214.0,698.8L217.7,698.8L221.4,698.7L225.0,698.4L228.7,698.0L232.4,697.5L236.0,697.2L239.7,697.0L243.4,697.0L247.1,697.2L250.7,697.7L254.4,698.3L258.1,699.0L261.8,699.4L265.4,699.9L269.1,700.7L272.8,702.0L276.4,703.9L280.1,705.8L283.8,707.2L287.5,707.3L291.1,706.5L294.8,706.0L298.5,705.9L302.1,706.3L305.8,707.1L309.5,708.0L313.2,708.1L316.8,707.2L320.5,705.9L324.2,704.8L327.8,704.6L331.5,705.2L335.2,706.1L338.9,707.0L342.5,707.5L346.2,707.3L349.9,706.7L353.5,705.9L357.2,705.3L360.9,705.0L364.6,705.0L368.2,705.3L371.9,705.4L375.6,704.9L379.2,703.7L382.9,702.2L386.6,701.0L390.3,700.3L393.9,699.8L397.6,699.0L401.3,698.2L405.0,697.3L408.6,696.7L412.3,696.5L416.0,696.7L419.6,697.1L423.3,697.1L427.0,696.5L430.7,695.4L434.3,694.7L438.0,694.8L441.7,695.5L445.3,696.2L449.0,696.5L452.7,696.2L456.4,695.6L460.0,695.1L463.7,694.9L467.4,695.0L471.0,695.1L474.7,695.3L478.4,695.2L482.1,694.8L485.7,694.4L489.4,694.2L493.1,694.1L496.8,693.8L500.4,693.5L504.1,693.4L507.8,693.8L511.4,694.4L515.1,695.0L518.8,695.4L522.5,695.7L526.1,695.9L529.8,696.2L533.5,696.5L537.1,696.8L540.8,697.1L544.5,697.5L548.2,697.7L551.8,698.0L555.5,698.2"/>
<path d="M203.0,698.2L206.7,699.6L210.3,700.2L214.0,700.8L217.7,701.3L221.4,701.7L225.0,702.0L228.7,702.4L232.4,702.5L236.0,702.3L239.7,701.6L243.4,700.5L247.1,699.2L250.7,697.8L254.4,696.7L258.1,696.2L261.8,696.4L265.4,696.6L269.1,696.3L272.8,695.6L276.4,695.1L280.1,695.1L283.8,695.3L287.5,695.2L291.1,694.6L294.8,693.7L298.5,693.0L302.1,692.6L305.8,692.2L309.5,691.8L313.2,691.5L316.8,691.9L320.5,692.9L324.2,694.2L327.8,695.0L331.5,695.2L335.2,694.8L338.9,693.8L342.5,692.8L346.2,692.1L349.9,691.8L353.5,691.7L357.2,692.0L360.9,692.8L364.6,693.8L368.2,694.6L371.9,694.8L375.6,694.6L379.2,694.2L382.9,693.7L386.6,693.1L390.3,693.0L393.9,693.4L397.6,693.8L401.3,693.5L405.0,692.6L408.6,691.8L412.3,691.5L416.0,691.6L419.6,691.6L423.3,691.5L427.0,692.1L430.7,693.4L434.3,695.0L438.0,696.3L441.7,697.4L445.3,698.3L449.0,698.9L452.7,699.4L456.4,700.2L460.0,701.1L463.7,702.0L467.4,702.9L471.0,703.2L474.7,702.7L478.4,701.7L482.1,700.4L485.7,699.2L489.4,698.3L493.1,697.5L496.8,696.9L500.4,696.3L504.1,695.7L507.8,695.5L511.4,695.6L515.1,695.6L518.8,695.5L522.5,695.4L526.1,695.6L529.8,696.0L533.5,696.4L537.1,696.7L540.8,697.1L544.5,697.4L548.2,697.7L551.8,698.0L555.5,698.2"/>
<path d="M203.0,698.2L206.7,698.2L210.3,698.0L214.0,697.9L217.7,697.9L221.4,698.1L225.0,698.6L228.7,699.4L232.4,700.3L236.0,700.7L239.7,700.5L243.4,699.9L247.1,699.2L250.7,698.5L254.4,697.8L258.1,696.7L261.8,695.3L265.4,694.2L269.1,693.8L272.8,693.9L276.4,694.1L280.1,694.2L283.8,694.5L287.5,694.9L291.1,695.3L294.8,695.9L298.5,697.4L302.1,699.5L305.8,701.2L309.5,701.8L313.2,701.9L316.8,702.5L320.5,703.7L324.2,704.8L327.8,705.1L331.5,704.4L335.2,703.4L338.9,702.8L342.5,702.8L346.2,703.1L349.9,703.5L353.5,704.0L357.2,704.4L360.9,704.3L364.6,703.8L368.2,703.3L371.9,703.4L375.6,704.1L379.2,704.9L382.9,705.1L386.6,704.5L390.3,703.9L393.9,704.1L397.6,705.1L401.3,706.4L405.0,707.5L408.6,708.6L412.3,709.5L416.0,709.9L419.6,709.3L423.3,707.7L427.0,706.2L430.7,705.6L434.3,705.8L438.0,706.3L441.7,706.4L445.3,706.4L449.0,706.7L452.7,707.6L456.4,709.0L460.0,710.3L463.7,711.4L467.4,712.0L471.0,711.7L474.7,710.5L478.4,709.3L482.1,708.2L485.7,707.3L489.4,706.3L493.1,705.4L496.8,704.7L500.4,704.2L504.1,703.9L507.8,703.5L511.4,703.1L515.1,702.8L518.8,702.8L522.5,702.7L526.1,702.5L529.8,702.0L533.5,701.4L537.1,700.8L540.8,700.2L544.5,699.6L548.2,699.1L551.8,698.6L555.5,698.2"/>
<path d="M203.0,698.2L206.7,698.0L210.3,697.8L214.0,697.5L217.7,697.2L221.4,696.8L225.0,696.3L228.7,695.8L232.4,695.3L236.0,694.8L239.7,694.4L243.4,694.2L247.1,694.3L250.7,694.8L254.4,695.7L258.1,696.6L261.8,697.0L265.4,697.3L269.1,697.7L272.8,698.5L276.4,699.1L280.1,699.1L283.8,698.9L287.5,698.7L291.1,698.6L294.8,698.2L298.5,697.4L302.1,696.7L305.8,696.2L309.5,695.9L313.2,695.5L316.8,695.1L320.5,694.7L324.2,694.4L327.8,694.3L331.5,694.2L335.2,694.3L338.9,694.7L342.5,695.7L346.2,697.4L349.9,699.7L353.5,701.9L357.2,703.3L360.9,703.5L364.6,702.9L368.2,702.4L371.9,702.5L375.6,703.3L379.2,704.5L382.9,705.6L386.6,706.5L390.3,706.7L393.9,706.1L397.6,704.8L401.3,703.2L405.0,701.8L408.6,700.9L412.3,700.3L416.0,699.6L419.6,698.7L423.3,697.4L427.0,696.3L430.7,695.5L434.3,695.2L438.0,695.1L441.7,694.8L445.3,694.3L449.0,694.2L452.7,694.5L456.4,694.8L460.0,694.8L463.7,694.8L467.4,694.9L471.0,695.2L474.7,695.6L478.4,695.9L482.1,695.9L485.7,695.7L489.4,695.4L493.1,695.3L496.8,695.6L500.4,696.1L504.1,696.8L507.8,697.5L511.4,698.1L515.1,698.4L518.8,698.7L522.5,698.8L526.1,699.0L529.8,698.9L533.5,698.7L537.1,698.5L540.8,698.4L544.5,698.3L548.2,698.3L551.8,698.2L555.5,698.2"/>
<path d="M203.0,698.2L206.7,698.7L210.3,699.0L214.0,699.1L217.7,699.0L221.4,698.7L225.0,698.3L228.7,697.7L232.4,697.3L236.0,697.2L239.7,697.5L243.4,698.1L247.1,698.6L250.7,698.6L254.4,698.0L258.1,697.5L261.8,697.4L265.4,698.1L269.1,699.7L272.8,701.4L276.4,702.4L280.1,702.7L283.8,703.0L287.5,703.5L291.1,703.8L294.8,703.8L298.5,703.4L302.1,702.9L305.8,702.5L309.5,702.4L313.2,702.8L316.8,703.2L320.5,703.2L324.2,702.7L327.8,702.2L331.5,702.1L335.2,702.2L338.9,702.5L342.5,703.1L346.2,703.5L349.9,703.4L353.5,703.0L357.2,702.6L360.9,702.5L364.6,702.2L368.2,701.5L371.9,700.7L375.6,699.9L379.2,699.3L382.9,698.8L386.6,698.5L390.3,698.4L393.9,698.3L397.6,698.2L401.3,698.2L405.0,698.4L408.6,698.5L412.3,698.1L416.0,697.2L419.6,696.5L423.3,696.3L427.0,696.3L430.7,696.5L434.3,696.8L438.0,697.1L441.7,697.4L445.3,697.7L449.0,698.2L452.7,698.6L456.4,698.7L460.0,698.5L463.7,698.6L467.4,699.3L471.0,700.2L474.7,700.7L478.4,700.7L482.1,700.5L485.7,700.2L489.4,699.9L493.1,699.5L496.8,699.1L500.4,698.9L504.1,698.6L507.8,698.3L511.4,698.0L515.1,697.7L518.8,697.3L522.5,697.0L526.1,697.0L529.8,697.2L533.5,697.5L537.1,697.6L540.8,697.8L544.5,697.9L548.2,698.1L551.8,698.2L555.5,698.2"/>
<path d="M203.0,698.2L206.7,695.7L210.3,694.5L214.0,693.8L217.7,693.4L221.4,693.3L225.0,693.3L228.7,693.3L232.4,693.3L236.0,693.7L239.7,694.2L243.4,694.6L247.1,695.0L250.7,695.2L254.4,695.2L258.1,695.0L261.8,695.1L265.4,696.0L269.1,697.6L272.8,699.3L276.4,700.7L280.1,701.9L283.8,703.2L287.5,704.7L291.1,705.7L294.8,706.2L298.5,706.4L302.1,706.5L305.8,706.8L309.5,707.2L313.2,707.4L316.8,707.7L320.5,708.2L324.2,709.1L327.8,710.1L331.5,710.7L335.2,710.9L338.9,710.9L342.5,710.8L346.2,710.4L349.9,710.0L353.5,709.9L357.2,710.5L360.9,711.0L364.6,711.2L368.2,710.7L371.9,710.0L375.6,709.0L379.2,708.1L382.9,707.2L386.6,706.3L390.3,705.3L393.9,704.4L397.6,703.7L401.3,703.0L405.0,702.1L408.6,700.9L412.3,699.5L416.0,698.1L419.6,697.3L423.3,697.4L427.0,698.0L430.7,698.6L434.3,699.1L438.0,699.4L441.7,699.4L445.3,699.3L449.0,699.3L452.7,699.7L456.4,700.3L460.0,700.5L463.7,700.4L467.4,699.9L471.0,699.2L474.7,698.5L478.4,698.2L482.1,698.3L485.7,698.7L489.4,698.9L493.1,698.7L496.8,698.2L500.4,697.7L504.1,697.5L507.8,697.5L511.4,697.4L515.1,697.1L518.8,696.7L522.5,696.3L526.1,696.1L529.8,696.3L533.5,696.6L537.1,696.9L540.8,697.1L544.5,697.4L548.2,697.7L551.8,698.0L555.5,698.2"/>
<path d="M203.0,698.2L206.7,698.3L210.3,698.1L214.0,697.9L217.7,697.8L221.4,698.0L225.0,698.3L228.7,698.6L232.4,698.7L236.0,698.4L239.7,698.1L243.4,697.8L247.1,697.7L250.7,697.9L254.4,698.0L258.1,698.0L261.8,698.1L265.4,698.0L269.1,697.8L272.8,697.4L276.4,697.2L280.1,697.3L283.8,698.0L287.5,699.1L291.1,700.1L294.8,700.8L298.5,700.7L302.1,699.9L305.8,698.7L309.5,697.7L313.2,697.2L316.8,696.9L320.5,696.3L324.2,695.7L327.8,695.4L331.5,695.4L335.2,695.2L338.9,695.2L342.5,695.7L346.2,696.6L349.9,697.7L353.5,698.9L357.2,700.0L360.9,701.0L364.6,701.8L368.2,702.7L371.9,703.4L375.6,703.7L379.2,703.7L382.9,703.8L386.6,704.2L390.3,704.9L393.9,705.9L397.6,706.9L401.3,707.3L405.0,706.8L408.6,705.9L412.3,705.1L416.0,705.0L419.6,705.6L423.3,706.4L427.0,707.1L430.7,707.7L434.3,708.2L438.0,708.4L441.7,708.1L445.3,707.2L449.0,706.2L452.7,705.3L456.4,704.5L460.0,703.8L463.7,703.0L467.4,702.0L471.0,700.7L474.7,699.4L478.4,698.3L482.1,697.7L485.7,697.3L489.4,696.7L493.1,696.1L496.8,695.7L500.4,695.4L504.1,695.3L507.8,695.4L511.4,696.0L515.1,696.7L518.8,697.2L522.5,697.3L526.1,697.3L529.8,697.3L533.5,697.5L537.1,697.8L540.8,697.9L544.5,698.0L548.2,698.0L551.8,698.1L555.5,698.2"/>
<path d="M203.0,698.2L206.7,697.2L210.3,696.8L214.0,696.7L217.7,696.8L221.4,696.8L225.0,696.6L228.7,696.5L232.4,696.4L236.0,696.3L239.7,696.2L243.4,696.7L247.1,697.6L250.7,698.7L254.4,699.6L258.1,700.0L261.8,699.8L265.4,699.3L269.1,699.3L272.8,699.6L276.4,699.7L280.1,699.7L283.8,699.7L287.5,700.2L291.1,700.6L294.8,700.7L298.5,700.7L302.1,701.0L305.8,701.3L309.5,701.2L313.2,700.6L316.8,699.8L320.5,698.9L324.2,698.0L327.8,697.5L331.5,697.9L335.2,699.0L338.9,700.1L342.5,700.8L346.2,700.9L349.9,700.8L353.5,700.9L357.2,701.2L360.9,701.5L364.6,701.9L368.2,702.2L371.9,702.7L375.6,703.1L379.2,703.4L382.9,703.4L386.6,703.1L390.3,702.8L393.9,702.5L397.6,702.5L401.3,702.6L405.0,702.5L408.6,702.2L412.3,701.6L416.0,700.8L419.6,699.8L423.3,698.6L427.0,697.7L430.7,697.0L434.3,696.4L438.0,695.8L441.7,695.2L445.3,694.9L449.0,695.1L452.7,695.5L456.4,695.9L460.0,696.4L463.7,696.6L467.4,696.5L471.0,696.0L474.7,695.1L478.4,693.8L482.1,692.5L485.7,691.5L489.4,691.0L493.1,691.1L496.8,691.6L500.4,692.3L504.1,693.1L507.8,693.8L511.4,694.1L515.1,694.3L518.8,694.3L522.5,694.4L526.1,694.8L529.8,695.4L533.5,696.1L537.1,696.7L540.8,697.1L544.5,697.4L548.2,697.6L551.8,697.9L555.5,698.2"/>
<path d="M203.0,698.2L206.7,698.8L210.3,699.0L214.0,699.3L217.7,699.4L221.4,699.1L225.0,698.5L228.7,698.0L232.4,697.6L236.0,697.5L239.7,697.5L243.4,697.6L247.1,698.2L250.7,698.9L254.4,699.5L258.1,700.1L261.8,700.7L265.4,701.1L269.1,701.7L272.8,702.5L276.4,703.6L280.1,704.9L283.8,706.2L287.5,707.3L291.1,707.6L294.8,707.3L298.5,706.6L302.1,705.7L305.8,704.6L309.5,703.7L313.2,703.6L316.8,704.1L320.5,704.5L324.2,704.5L327.8,703.8L331.5,702.4L335.2,700.7L338.9,699.6L342.5,699.3L346.2,699.5L349.9,699.7L353.5,699.5L357.2,698.8L360.9,698.0L364.6,697.3L368.2,697.0L371.9,697.2L375.6,697.8L379.2,698.0L382.9,697.6L386.6,697.0L390.3,696.8L393.9,697.3L397.6,698.3L401.3,699.3L405.0,700.4L408.6,701.2L412.3,701.6L416.0,701.8L419.6,702.3L423.3,703.5L427.0,704.7L430.7,705.3L434.3,704.9L438.0,704.1L441.7,703.7L445.3,703.9L449.0,704.5L452.7,705.1L456.4,705.3L460.0,705.5L463.7,705.8L467.4,706.3L471.0,706.7L474.7,706.3L478.4,705.2L482.1,703.7L485.7,702.3L489.4,701.3L493.1,700.8L496.8,700.5L500.4,700.1L504.1,699.7L507.8,699.4L511.4,699.2L515.1,698.9L518.8,698.6L522.5,698.5L526.1,698.5L529.8,698.5L533.5,698.5L537.1,698.4L540.8,698.4L544.5,698.3L548.2,698.3L551.8,698.2L555.5,698.2"/>
<path d="M203.0,698.2L206.7,700.4L210.3,701.8L214.0,703.0L217.7,704.0L221.4,704.8L225.0,705.7L228.7,706.6L232.4,707.6L236.0,708.5L239.7,709.0L243.4,709.1L247.1,708.7L250.7,707.9L254.4,706.6L258.1,705.0L261.8,703.5L265.4,702.3L269.1,701.5L272.8,700.6L276.4,699.7L280.1,698.9L283.8,698.2L287.5,697.8L291.1,697.6L294.8,697.7L298.5,697.8L302.1,697.8L305.8,697.8L309.5,698.2L313.2,699.1L316.8,700.1L320.5,701.0L324.2,701.5L327.8,701.5L331.5,701.0L335.2,700.5L338.9,700.3L342.5,700.4L346.2,700.8L349.9,701.3L353.5,701.6L357.2,701.6L360.9,700.7L364.6,699.2L368.2,697.3L371.9,695.9L375.6,695.2L379.2,695.0L382.9,694.8L386.6,694.3L390.3,693.5L393.9,692.3L397.6,691.1L401.3,690.3L405.0,690.1L408.6,690.6L412.3,691.4L416.0,691.9L419.6,691.7L423.3,691.5L427.0,691.6L430.7,692.2L434.3,692.7L438.0,693.2L441.7,694.0L445.3,695.3L449.0,696.7L452.7,697.7L456.4,698.0L460.0,698.1L463.7,698.2L467.4,698.4L471.0,698.5L474.7,698.1L478.4,697.6L482.1,697.2L485.7,696.7L489.4,696.3L493.1,695.8L496.8,695.7L500.4,695.8L504.1,696.1L507.8,696.4L511.4,696.6L515.1,697.0L518.8,697.5L522.5,697.9L526.1,698.1L529.8,698.1L533.5,698.0L537.1,698.0L540.8,698.0L544.5,698.2L548.2,698.3L551.8,698.3L555.5,698.2"/>
<path d="M203.0,698.2L206.7,697.2L210.3,696.7L214.0,696.1L217.7,695.3L221.4,694.7L225.0,694.3L228.7,694.2L232.4,693.8L236.0,693.6L239.7,693.8L243.4,694.8L247.1,696.2L250.7,697.3L254.4,697.8L258.1,697.8L261.8,697.8L265.4,698.0L269.1,698.2L272.8,698.4L276.4,698.5L280.1,698.3L283.8,697.8L287.5,697.1L291.1,696.3L294.8,695.3L298.5,694.0L302.1,693.2L305.8,693.1L309.5,693.6L313.2,694.1L316.8,694.3L320.5,694.0L324.2,693.4L327.8,692.4L331.5,691.5L335.2,691.0L338.9,691.4L342.5,692.3L346.2,693.2L349.9,693.6L353.5,693.9L357.2,694.4L360.9,695.0L364.6,695.5L368.2,695.7L371.9,696.0L375.6,696.1L379.2,695.9L382.9,695.4L386.6,695.3L390.3,695.9L393.9,697.2L397.6,698.6L401.3,699.7L405.0,700.5L408.6,701.3L412.3,702.0L416.0,702.5L419.6,703.3L423.3,704.3L427.0,705.0L430.7,705.1L434.3,704.7L438.0,704.1L441.7,703.6L445.3,703.4L449.0,703.2L452.7,702.9L456.4,702.3L460.0,701.8L463.7,701.0L467.4,699.9L471.0,698.4L474.7,696.8L478.4,695.1L482.1,693.6L485.7,692.5L489.4,692.2L493.1,692.4L496.8,692.8L500.4,693.0L504.1,693.2L507.8,693.5L511.4,694.1L515.1,694.6L518.8,695.2L522.5,695.9L526.1,696.4L529.8,697.0L533.5,697.5L537.1,697.8L540.8,698.0L544.5,698.1L548.2,698.1L551.8,698.2L555.5,698.2"/>
<path d="M203.0,698.2L206.7,697.4L210.3,697.0L214.0,696.7L217.7,696.7L221.4,697.0L225.0,697.4L228.7,697.7L232.4,697.8L236.0,697.8L239.7,697.9L243.4,698.3L247.1,698.7L250.7,698.7L254.4,698.0L258.1,696.9L261.8,695.8L265.4,695.2L269.1,695.0L272.8,695.1L276.4,695.2L280.1,694.9L283.8,694.2L287.5,693.2L291.1,692.5L294.8,692.3L298.5,692.2L302.1,692.0L305.8,691.5L309.5,691.2L313.2,691.1L316.8,691.1L320.5,690.8L324.2,690.1L327.8,689.5L331.5,689.6L335.2,690.7L338.9,692.3L342.5,693.6L346.2,694.4L349.9,695.1L353.5,696.0L357.2,696.9L360.9,697.4L364.6,697.5L368.2,697.3L371.9,697.0L375.6,696.4L379.2,695.8L382.9,695.4L386.6,694.9L390.3,694.2L393.9,693.6L397.6,693.0L401.3,692.3L405.0,691.9L408.6,692.2L412.3,693.2L416.0,694.1L419.6,694.1L423.3,693.5L427.0,693.0L430.7,693.2L434.3,693.9L438.0,694.6L441.7,694.9L445.3,695.0L449.0,695.1L452.7,695.2L456.4,695.4L460.0,695.6L463.7,695.6L467.4,695.3L471.0,695.2L474.7,695.3L478.4,695.2L482.1,695.1L485.7,695.0L489.4,695.3L493.1,695.7L496.8,696.2L500.4,696.5L504.1,696.9L507.8,697.3L511.4,697.5L515.1,697.7L518.8,698.0L522.5,698.3L526.1,698.4L529.8,698.4L533.5,698.5L537.1,698.6L540.8,698.6L544.5,698.5L548.2,698.4L551.8,698.3L555.5,698.2"/>
<path d="M203.0,698.2L206.7,698.5L210.3,698.4L214.0,698.0L217.7,697.5L221.4,697.1L225.0,697.2L228.7,697.6L232.4,697.9L236.0,697.8L239.7,697.3L243.4,696.4L247.1,695.5L250.7,695.0L254.4,695.0L258.1,695.3L261.8,695.5L265.4,695.4L269.1,694.9L272.8,694.1L276.4,693.4L280.1,693.0L283.8,692.6L287.5,692.2L291.1,691.8L294.8,691.5L298.5,691.2L302.1,691.1L305.8,691.6L309.5,692.7L313.2,693.9L316.8,694.3L320.5,693.5L324.2,692.2L327.8,691.1L331.5,690.9L335.2,691.2L338.9,691.5L342.5,691.4L346.2,690.7L349.9,689.7L353.5,688.8L357.2,688.0L360.9,687.3L364.6,686.8L368.2,686.4L371.9,686.1L375.6,685.9L379.2,686.3L382.9,687.3L386.6,688.1L390.3,688.3L393.9,688.1L397.6,687.7L401.3,687.7L405.0,688.0L408.6,688.6L412.3,689.3L416.0,689.9L419.6,690.5L423.3,690.9L427.0,690.5L430.7,689.7L434.3,688.8L438.0,688.4L441.7,688.1L445.3,687.8L449.0,687.7L452.7,687.7L456.4,687.7L460.0,687.3L463.7,686.7L467.4,686.2L471.0,686.0L474.7,686.2L478.4,686.5L482.1,686.9L485.7,687.4L489.4,687.8L493.1,688.4L496.8,689.5L500.4,691.2L504.1,692.8L507.8,693.7L511.4,694.0L515.1,694.2L518.8,694.6L522.5,695.1L526.1,695.7L529.8,696.3L533.5,696.6L537.1,696.9L540.8,697.2L544.5,697.5L548.2,697.8L551.8,698.0L555.5,698.2"/>
<path d="M203.0,698.2L206.7,698.1L210.3,698.1L214.0,698.2L217.7,698.4L221.4,698.7L225.0,698.9L228.7,698.8L232.4,698.8L236.0,699.0L239.7,699.6L243.4,700.4L247.1,701.5L250.7,702.6L254.4,703.5L258.1,704.3L261.8,705.0L265.4,705.9L269.1,706.9L272.8,707.8L276.4,708.2L280.1,708.0L283.8,707.5L287.5,707.2L291.1,706.9L294.8,706.6L298.5,706.4L302.1,706.4L305.8,706.6L309.5,706.8L313.2,706.9L316.8,706.6L320.5,705.8L324.2,704.6L327.8,703.2L331.5,702.2L335.2,701.8L338.9,701.4L342.5,700.7L346.2,700.3L349.9,700.3L353.5,700.8L357.2,701.7L360.9,702.9L364.6,704.0L368.2,704.8L371.9,705.4L375.6,706.1L379.2,706.7L382.9,707.0L386.6,707.0L390.3,706.5L393.9,705.8L397.6,705.3L401.3,704.9L405.0,704.5L408.6,703.8L412.3,702.9L416.0,701.8L419.6,700.5L423.3,699.3L427.0,698.2L430.7,697.3L434.3,696.8L438.0,696.7L441.7,697.0L445.3,697.3L449.0,697.4L452.7,697.2L456.4,696.7L460.0,696.6L463.7,697.1L467.4,698.1L471.0,698.5L474.7,697.9L478.4,696.8L482.1,695.8L485.7,695.3L489.4,695.4L493.1,695.8L496.8,696.1L500.4,696.3L504.1,696.4L507.8,696.6L511.4,697.0L515.1,697.2L518.8,697.1L522.5,697.0L526.1,697.1L529.8,697.4L533.5,697.7L537.1,698.0L540.8,698.2L544.5,698.3L548.2,698.3L551.8,698.2L555.5,698.2"/>
<path d="M203.0,698.2L206.7,698.3L210.3,698.3L214.0,698.1L217.7,697.7L221.4,697.4L225.0,697.0L228.7,696.5L232.4,695.9L236.0,695.5L239.7,695.2L243.4,695.1L247.1,695.1L250.7,695.0L254.4,694.9L258.1,694.8L261.8,694.4L265.4,693.9L269.1,693.3L272.8,693.0L276.4,693.0L280.1,693.1L283.8,693.4L287.5,694.3L291.1,695.9L294.8,697.6L298.5,699.0L302.1,700.2L305.8,701.2L309.5,702.0L313.2,703.2L316.8,704.4L320.5,705.2L324.2,705.4L327.8,705.2L331.5,704.6L335.2,703.5L338.9,702.3L342.5,701.5L346.2,701.7L349.9,702.6L353.5,703.6L357.2,704.3L360.9,704.3L364.6,703.7L368.2,702.9L371.9,702.1L375.6,701.3L379.2,700.7L382.9,700.1L386.6,699.2L390.3,698.2L393.9,697.4L397.6,696.9L401.3,696.5L405.0,696.2L408.6,696.2L412.3,696.3L416.0,696.5L419.6,696.6L423.3,696.6L427.0,696.4L430.7,696.1L434.3,696.0L438.0,696.1L441.7,696.2L445.3,696.4L449.0,696.9L452.7,697.8L456.4,699.1L460.0,700.3L463.7,700.8L467.4,700.4L471.0,700.0L474.7,700.2L478.4,700.9L482.1,701.2L485.7,701.1L489.4,700.9L493.1,700.7L496.8,700.4L500.4,700.2L504.1,700.3L507.8,700.5L511.4,700.6L515.1,700.4L518.8,699.8L522.5,699.2L526.1,698.6L529.8,698.4L533.5,698.3L537.1,698.3L540.8,698.3L544.5,698.3L548.2,698.2L551.8,698.2L555.5,698.2"/>
<path d="M203.0,698.2L206.7,699.6L210.3,700.3L214.0,701.0L217.7,701.8L221.4,702.4L225.0,702.7L228.7,702.8L232.4,703.0L236.0,703.4L239.7,703.6L243.4,703.6L247.1,703.7L250.7,704.4L254.4,705.3L258.1,705.7L261.8,705.4L265.4,704.6L269.1,703.8L272.8,703.4L276.4,703.4L280.1,703.6L283.8,703.7L287.5,703.3L291.1,702.7L294.8,702.5L298.5,703.1L302.1,704.1L305.8,705.0L309.5,705.9L313.2,707.3L316.8,708.7L320.5,709.6L324.2,710.0L327.8,710.1L331.5,710.2L335.2,710.5L338.9,710.6L342.5,710.3L346.2,709.5L349.9,708.2L353.5,706.7L357.2,705.4L360.9,704.8L364.6,704.5L368.2,703.8L371.9,702.6L375.6,701.1L379.2,699.8L382.9,699.0L386.6,698.6L390.3,698.3L393.9,697.6L397.6,696.6L401.3,695.3L405.0,693.9L408.6,692.8L412.3,692.1L416.0,691.8L419.6,691.8L423.3,691.8L427.0,691.7L430.7,691.2L434.3,690.2L438.0,688.9L441.7,687.8L445.3,687.2L449.0,687.3L452.7,688.0L456.4,688.9L460.0,689.5L463.7,689.7L467.4,689.9L471.0,690.3L474.7,691.1L478.4,691.8L482.1,692.3L485.7,692.6L489.4,693.1L493.1,693.8L496.8,694.3L500.4,694.7L504.1,695.1L507.8,695.8L511.4,696.6L515.1,697.1L518.8,697.2L522.5,697.2L526.1,697.2L529.8,697.3L533.5,697.5L537.1,697.6L540.8,697.8L544.5,698.0L548.2,698.1L551.8,698.2L555.5,698.2"/>
<path d="M203.0,698.2L206.7,697.8L210.3,697.4L214.0,696.7L217.7,695.9L221.4,695.2L225.0,694.8L228.7,694.4L232.4,693.8L236.0,693.1L239.7,692.7L243.4,692.7L247.1,692.9L250.7,693.2L254.4,693.7L258.1,694.2L261.8,694.6L265.4,694.8L269.1,694.8L272.8,694.6L276.4,694.3L280.1,694.4L283.8,695.0L287.5,695.9L291.1,696.5L294.8,697.0L298.5,697.6L302.1,698.1L305.8,698.3L309.5,698.2L313.2,698.3L316.8,698.5L320.5,698.4L324.2,698.4L327.8,698.8L331.5,699.8L335.2,701.0L338.9,701.8L342.5,702.0L346.2,702.5L349.9,703.3L353.5,704.6L357.2,705.9L360.9,706.8L364.6,707.4L368.2,707.8L371.9,708.4L375.6,709.1L379.2,709.9L382.9,710.4L386.6,710.4L390.3,709.7L393.9,708.5L397.6,707.0L401.3,706.0L405.0,705.6L408.6,705.0L412.3,703.9L416.0,702.6L419.6,701.5L423.3,701.2L427.0,701.6L430.7,702.3L434.3,702.8L438.0,703.2L441.7,703.4L445.3,703.2L449.0,702.8L452.7,702.6L456.4,702.5L460.0,702.2L463.7,702.0L467.4,702.3L471.0,702.9L474.7,703.3L478.4,703.1L482.1,702.5L485.7,701.6L489.4,700.8L493.1,700.0L496.8,699.3L500.4,698.7L504.1,698.3L507.8,697.9L511.4,697.6L515.1,697.4L518.8,697.2L522.5,697.0L526.1,696.8L529.8,696.9L533.5,697.0L537.1,697.2L540.8,697.3L544.5,697.5L548.2,697.8L551.8,698.0L555.5,698.2"/>
<path d="M203.0,698.2L206.7,699.2L210.3,699.7L214.0,700.0L217.7,700.4L221.4,701.0L225.0,701.6L228.7,702.2L232.4,702.7L236.0,703.2L239.7,703.5L243.4,703.3L247.1,702.6L250.7,701.4L254.4,700.2L258.1,698.9L261.8,697.6L265.4,696.2L269.1,695.0L272.8,694.2L276.4,693.9L280.1,693.7L283.8,693.3L287.5,692.9L291.1,692.9L294.8,693.2L298.5,693.4L302.1,693.9L305.8,694.8L309.5,696.3L313.2,697.9L316.8,699.4L320.5,700.6L324.2,701.5L327.8,702.2L331.5,703.1L335.2,704.0L338.9,704.7L342.5,705.1L346.2,705.2L349.9,705.0L353.5,704.1L357.2,702.6L360.9,701.1L364.6,700.0L368.2,699.0L371.9,697.6L375.6,695.9L379.2,694.6L382.9,693.8L386.6,693.6L390.3,693.9L393.9,694.6L397.6,695.6L401.3,696.7L405.0,698.2L408.6,699.9L412.3,701.1L416.0,701.6L419.6,701.6L423.3,701.7L427.0,701.8L430.7,701.5L434.3,700.8L438.0,700.1L441.7,699.7L445.3,700.0L449.0,700.5L452.7,700.8L456.4,700.6L460.0,699.9L463.7,699.0L467.4,698.4L471.0,698.7L474.7,699.5L478.4,700.1L482.1,700.5L485.7,700.7L489.4,700.9L493.1,701.0L496.8,700.7L500.4,700.2L504.1,699.7L507.8,699.2L511.4,699.0L515.1,698.9L518.8,698.8L522.5,698.7L526.1,698.5L529.8,698.3L533.5,698.1L537.1,698.0L540.8,697.9L544.5,697.9L548.2,697.9L551.8,698.0L555.5,698.2"/>
<path d="M203.0,698.2L206.7,698.5L210.3,698.3L214.0,698.1L217.7,698.0L221.4,697.7L225.0,697.1L228.7,696.2L232.4,695.4L236.0,695.0L239.7,695.0L243.4,695.1L247.1,695.4L250.7,696.0L254.4,696.9L258.1,697.4L261.8,697.4L265.4,697.1L269.1,696.7L272.8,696.1L276.4,695.5L280.1,695.3L283.8,695.1L287.5,694.6L291.1,693.7L294.8,692.8L298.5,692.5L302.1,692.9L305.8,693.5L309.5,693.8L313.2,693.7L316.8,693.5L320.5,694.0L324.2,695.1L327.8,696.5L331.5,697.5L335.2,698.1L338.9,698.5L342.5,699.0L346.2,699.8L349.9,700.9L353.5,702.3L357.2,703.5L360.9,704.3L364.6,704.6L368.2,704.1L371.9,702.7L375.6,700.8L379.2,699.0L382.9,697.9L386.6,697.6L390.3,697.3L393.9,696.7L397.6,695.7L401.3,694.9L405.0,694.5L408.6,694.4L412.3,693.8L416.0,692.6L419.6,691.2L423.3,690.0L427.0,689.6L430.7,689.7L434.3,689.7L438.0,689.3L441.7,688.7L445.3,688.1L449.0,687.4L452.7,686.8L456.4,686.1L460.0,685.5L463.7,685.0L467.4,684.7L471.0,685.0L474.7,686.2L478.4,687.7L482.1,689.4L485.7,691.3L489.4,693.0L493.1,694.1L496.8,694.6L500.4,694.8L504.1,695.1L507.8,695.4L511.4,695.5L515.1,695.2L518.8,694.8L522.5,694.8L526.1,695.2L529.8,695.8L533.5,696.4L537.1,696.9L540.8,697.2L544.5,697.6L548.2,697.9L551.8,698.1L555.5,698.2"/>
<path d="M203.0,698.2L206.7,697.7L210.3,697.8L214.0,697.8L217.7,697.8L221.4,697.7L225.0,697.5L228.7,697.1L232.4,696.5L236.0,696.0L239.7,695.7L243.4,695.5L247.1,695.1L250.7,694.5L254.4,693.7L258.1,692.7L261.8,691.8L265.4,691.5L269.1,692.1L272.8,693.5L276.4,695.0L280.1,696.0L283.8,696.2L287.5,696.0L291.1,695.6L294.8,695.4L298.5,696.0L302.1,696.8L305.8,697.5L309.5,697.9L313.2,698.4L316.8,698.9L320.5,699.0L324.2,698.3L327.8,697.4L331.5,696.8L335.2,696.6L338.9,696.6L342.5,696.9L346.2,697.2L349.9,697.2L353.5,696.9L357.2,696.9L360.9,697.7L364.6,699.3L368.2,700.7L371.9,701.2L375.6,700.6L379.2,699.1L382.9,697.6L386.6,696.7L390.3,696.3L393.9,696.3L397.6,696.7L401.3,697.0L405.0,697.0L408.6,696.8L412.3,696.9L416.0,697.0L419.6,696.6L423.3,695.9L427.0,695.7L430.7,696.2L434.3,697.2L438.0,698.0L441.7,698.2L445.3,698.1L449.0,697.9L452.7,697.6L456.4,697.0L460.0,696.2L463.7,695.7L467.4,695.4L471.0,694.8L474.7,694.0L478.4,693.5L482.1,693.6L485.7,693.7L489.4,693.7L493.1,694.0L496.8,694.6L500.4,695.0L504.1,695.2L507.8,695.3L511.4,695.4L515.1,695.3L518.8,695.3L522.5,695.5L526.1,695.8L529.8,696.3L533.5,696.7L537.1,697.1L540.8,697.3L544.5,697.6L548.2,697.8L551.8,698.0L555.5,698.2"/>
<path d="M203.0,698.2L206.7,698.5L210.3,698.9L214.0,699.6L217.7,700.4L221.4,701.3L225.0,702.0L228.7,702.6L232.4,702.9L236.0,703.2L239.7,703.3L243.4,703.4L247.1,703.6L250.7,703.9L254.4,704.5L258.1,705.1L261.8,705.7L265.4,706.0L269.1,705.8L272.8,705.1L276.4,704.4L280.1,704.3L283.8,704.7L287.5,705.1L291.1,705.3L294.8,705.5L298.5,705.6L302.1,705.5L305.8,705.0L309.5,704.5L313.2,704.0L316.8,703.3L320.5,702.2L324.2,700.6L327.8,699.1L331.5,698.4L335.2,698.9L338.9,700.0L342.5,700.9L346.2,701.1L349.9,700.7L353.5,700.4L357.2,700.2L360.9,700.2L364.6,700.2L368.2,700.5L371.9,701.0L375.6,701.7L379.2,702.3L382.9,702.7L386.6,703.2L390.3,703.5L393.9,703.6L397.6,703.4L401.3,703.1L405.0,703.2L408.6,703.7L412.3,704.1L416.0,704.3L419.6,704.7L423.3,705.1L427.0,704.8L430.7,703.7L434.3,702.4L438.0,701.9L441.7,702.1L445.3,702.6L449.0,702.6L452.7,701.9L456.4,701.0L460.0,700.3L463.7,700.4L467.4,700.9L471.0,701.1L474.7,700.2L478.4,698.6L482.1,697.1L485.7,696.6L489.4,696.9L493.1,697.5L496.8,698.1L500.4,698.4L504.1,698.5L507.8,698.5L511.4,698.5L515.1,698.5L518.8,698.5L522.5,698.7L526.1,699.0L529.8,699.1L533.5,699.0L537.1,698.9L540.8,698.7L544.5,698.6L548.2,698.5L551.8,698.3L555.5,698.2"/>
<path d="M203.0,698.2L206.7,697.3L210.3,696.8L214.0,696.2L217.7,695.8L221.4,695.6L225.0,695.5L228.7,695.2L232.4,695.0L236.0,695.0L239.7,695.2L243.4,695.3L247.1,695.2L250.7,695.1L254.4,695.2L258.1,695.6L261.8,696.1L265.4,696.8L269.1,697.4L272.8,697.7L276.4,697.5L280.1,696.8L283.8,696.2L287.5,696.0L291.1,696.5L294.8,697.0L298.5,697.4L302.1,698.0L305.8,699.1L309.5,700.7L313.2,702.1L316.8,703.2L320.5,704.2L324.2,705.4L327.8,706.3L331.5,706.4L335.2,705.7L338.9,704.5L342.5,703.2L346.2,701.8L349.9,700.5L353.5,699.5L357.2,698.4L360.9,697.2L364.6,696.4L368.2,696.7L371.9,697.8L375.6,699.1L379.2,699.8L382.9,700.1L386.6,700.4L390.3,700.8L393.9,701.0L397.6,700.8L401.3,700.1L405.0,699.4L408.6,699.2L412.3,699.5L416.0,699.8L419.6,700.4L423.3,701.6L427.0,703.1L430.7,704.3L434.3,705.0L438.0,705.6L441.7,706.0L445.3,706.4L449.0,707.1L452.7,707.7L456.4,707.7L460.0,706.8L463.7,705.5L467.4,704.5L471.0,703.8L474.7,703.2L478.4,702.4L482.1,701.3L485.7,700.1L489.4,699.2L493.1,698.8L496.8,698.8L500.4,698.8L504.1,699.0L507.8,699.1L511.4,699.1L515.1,699.1L518.8,699.1L522.5,699.1L526.1,699.1L529.8,698.9L533.5,698.7L537.1,698.6L540.8,698.4L544.5,698.3L548.2,698.1L551.8,698.1L555.5,698.2"/>
<path d="M203.0,698.2L206.7,700.7L210.3,702.0L214.0,702.7L217.7,703.1L221.4,703.4L225.0,703.5L228.7,703.5L232.4,703.2L236.0,702.7L239.7,702.4L243.4,702.4L247.1,702.4L250.7,702.3L254.4,702.4L258.1,703.1L261.8,704.2L265.4,705.5L269.1,706.9L272.8,708.5L276.4,710.3L280.1,711.9L283.8,712.9L287.5,713.1L291.1,712.8L294.8,712.7L298.5,712.8L302.1,712.8L305.8,712.5L309.5,712.0L313.2,711.1L316.8,709.9L320.5,709.0L324.2,708.3L327.8,707.2L331.5,705.6L335.2,703.7L338.9,702.2L342.5,701.6L346.2,701.7L349.9,701.5L353.5,700.8L357.2,699.7L360.9,699.0L364.6,698.8L368.2,698.8L371.9,698.6L375.6,697.9L379.2,697.1L382.9,696.2L386.6,695.4L390.3,694.6L393.9,693.9L397.6,693.4L401.3,692.6L405.0,691.4L408.6,690.2L412.3,689.7L416.0,689.6L419.6,689.3L423.3,688.4L427.0,687.0L430.7,685.8L434.3,684.7L438.0,683.4L441.7,681.9L445.3,680.5L449.0,679.0L452.7,677.7L456.4,676.6L460.0,676.0L463.7,676.1L467.4,676.7L471.0,678.2L474.7,680.2L478.4,681.5L482.1,682.2L485.7,682.7L489.4,683.4L493.1,684.3L496.8,685.4L500.4,686.5L504.1,687.7L507.8,688.9L511.4,690.0L515.1,690.9L518.8,691.8L522.5,692.8L526.1,693.8L529.8,694.5L533.5,695.0L537.1,695.4L540.8,695.9L544.5,696.5L548.2,697.1L551.8,697.7L555.5,698.2"/>
<path d="M203.0,698.2L206.7,698.2L210.3,697.8L214.0,697.3L217.7,697.0L221.4,697.2L225.0,697.6L228.7,698.3L232.4,698.8L236.0,698.8L239.7,698.2L243.4,697.2L247.1,696.6L250.7,696.5L254.4,696.4L258.1,696.1L261.8,695.5L265.4,694.6L269.1,693.3L272.8,691.8L276.4,690.6L280.1,690.0L283.8,689.8L287.5,689.7L291.1,689.8L294.8,689.7L298.5,689.4L302.1,689.1L305.8,689.3L309.5,690.1L313.2,690.9L316.8,691.1L320.5,690.4L324.2,689.3L327.8,688.3L331.5,687.9L335.2,688.1L338.9,688.6L342.5,689.4L346.2,690.3L349.9,691.2L353.5,692.0L357.2,692.4L360.9,692.3L364.6,692.0L368.2,691.9L371.9,692.0L375.6,692.1L379.2,692.0L382.9,691.7L386.6,691.3L390.3,690.9L393.9,690.5L397.6,690.1L401.3,690.1L405.0,690.4L408.6,690.7L412.3,690.7L416.0,690.5L419.6,690.6L423.3,691.1L427.0,692.0L430.7,693.1L434.3,694.2L438.0,694.6L441.7,695.0L445.3,695.8L449.0,697.4L452.7,699.3L456.4,700.8L460.0,701.3L463.7,701.1L467.4,700.7L471.0,700.6L474.7,700.9L478.4,701.4L482.1,701.7L485.7,701.8L489.4,701.8L493.1,701.9L496.8,702.0L500.4,702.2L504.1,702.4L507.8,702.5L511.4,702.5L515.1,702.3L518.8,702.0L522.5,701.6L526.1,701.1L529.8,700.7L533.5,700.2L537.1,699.8L540.8,699.3L544.5,698.9L548.2,698.6L551.8,698.4L555.5,698.2"/>
<path d="M203.0,698.2L206.7,697.0L210.3,696.7L214.0,696.5L217.7,696.5L221.4,696.5L225.0,696.5L228.7,696.6L232.4,696.8L236.0,696.8L239.7,696.4L243.4,695.7L247.1,695.0L250.7,694.6L254.4,694.5L258.1,694.5L261.8,694.7L265.4,694.9L269.1,695.1L272.8,695.2L276.4,694.9L280.1,693.9L283.8,692.2L287.5,690.2L291.1,688.7L294.8,687.6L298.5,686.2L302.1,684.5L305.8,683.1L309.5,682.4L313.2,682.2L316.8,682.1L320.5,682.3L324.2,683.1L327.8,684.6L331.5,685.8L335.2,686.0L338.9,685.6L342.5,685.5L346.2,685.9L349.9,686.6L353.5,687.1L357.2,687.8L360.9,688.9L364.6,690.2L368.2,691.3L371.9,691.9L375.6,692.2L379.2,692.4L382.9,692.8L386.6,693.3L390.3,693.9L393.9,694.9L397.6,696.2L401.3,697.5L405.0,698.4L408.6,698.8L412.3,698.9L416.0,699.1L419.6,699.6L423.3,700.1L427.0,700.2L430.7,699.8L434.3,699.3L438.0,699.0L441.7,698.8L445.3,698.7L449.0,698.5L452.7,698.4L456.4,698.8L460.0,699.5L463.7,700.2L467.4,700.6L471.0,700.7L474.7,700.6L478.4,700.4L482.1,700.0L485.7,699.4L489.4,698.4L493.1,697.4L496.8,696.5L500.4,696.0L504.1,695.8L507.8,695.8L511.4,696.1L515.1,696.3L518.8,696.4L522.5,696.3L526.1,696.5L529.8,696.8L533.5,697.0L537.1,697.2L540.8,697.3L544.5,697.5L548.2,697.7L551.8,698.0L555.5,698.2"/>
</g>
<path d="M203.0,698.2L205.5,698.0L208.1,697.9L210.6,697.8L213.1,697.7L215.7,697.5L218.2,697.2L220.8,696.8L223.3,696.2L225.8,695.6L228.4,695.1L230.9,694.8L233.4,694.5L236.0,694.3L238.5,694.1L241.0,694.2L243.6,694.4L246.1,695.0L248.6,695.8L251.2,696.7L253.7,697.5L256.3,698.0L258.8,698.6L261.3,699.3L263.9,700.3L266.4,701.2L268.9,702.0L271.5,702.4L274.0,702.4L276.5,702.3L279.1,702.0L281.6,701.7L284.2,701.4L286.7,701.2L289.2,701.0L291.8,701.0L294.3,701.0L296.8,701.0L299.4,700.9L301.9,700.8L304.4,700.6L307.0,700.5L309.5,700.4L312.0,700.4L314.6,700.4L317.1,700.5L319.7,700.5L322.2,700.5L324.7,700.6L327.3,700.8L329.8,701.2L332.3,701.7L334.9,702.2L337.4,702.8L339.9,703.3L342.5,703.8L345.0,704.1L347.6,704.3L350.1,704.3L352.6,704.2L355.2,704.0L357.7,703.6L360.2,703.2L362.8,702.7L365.3,702.1L367.8,701.7L370.4,701.3L372.9,701.1L375.4,701.1L378.0,701.1L380.5,701.0L383.1,700.9L385.6,700.6L388.1,700.3L390.7,700.2L393.2,700.2L395.7,700.4L398.3,700.6L400.8,700.7L403.3,700.7L405.9,700.9L408.4,701.3L410.9,702.1L413.5,703.1L416.0,704.0L418.6,704.7L421.1,705.0L423.6,704.9L426.2,704.8L428.7,704.6L431.2,704.5L433.8,704.3L436.3,704.0L438.8,703.7L441.4,703.3L443.9,703.0L446.5,702.8L449.0,702.6L451.5,702.5L454.1,702.5L456.6,702.4L459.1,702.3L461.7,702.3L464.2,702.3L466.7,702.4L469.3,702.4L471.8,702.2L474.3,701.8L476.9,701.3L479.4,700.9L482.0,700.6L484.5,700.4L487.0,700.2L489.6,700.1L492.1,700.1L494.6,700.0L497.2,700.0L499.7,700.0L502.2,699.9L504.8,699.8L507.3,699.7L509.9,699.6L512.4,699.5L514.9,699.4L517.5,699.3L520.0,699.2L522.5,699.1L525.1,699.0L527.6,698.9L530.1,698.8L532.7,698.7L535.2,698.7L537.7,698.6L540.3,698.5L542.8,698.4L545.4,698.3L547.9,698.3L550.4,698.2L553.0,698.2L555.5,698.2" fill="none" stroke="#1F8A35" stroke-width="2.8" stroke-linejoin="round"/>
<line x1="202" y1="740" x2="554" y2="740" stroke="#000" stroke-width="1.9"/>
<path d="M42.4,740 H201.4 V725.8 H554.4 V740 H761" fill="none" stroke="#EA5F79" stroke-width="3.7"/>
<text x="10.8" y="660.3" font-size="26" fill="#000" font-style="italic" textLength="18" lengthAdjust="spacingAndGlyphs" stroke="#000" stroke-width="0.3">B</text>
<text x="30.3" y="653.3" font-size="19.5" fill="#000" font-style="italic" textLength="8.8" lengthAdjust="spacingAndGlyphs" stroke="#000" stroke-width="0.25">c</text>
<text x="10.8" y="703.2" font-size="26" fill="#000" font-style="italic" textLength="18" lengthAdjust="spacingAndGlyphs" stroke="#000" stroke-width="0.3">B</text>
<text x="30.3" y="696.1" font-size="15.5" fill="#000" font-style="italic" textLength="4.6" lengthAdjust="spacingAndGlyphs" stroke="#000" stroke-width="0.25">l</text>
<text x="10.8" y="746.5" font-size="26" fill="#000" font-style="italic" textLength="18" lengthAdjust="spacingAndGlyphs" stroke="#000" stroke-width="0.3">B</text>
<text x="30.3" y="737.5" font-size="19.5" fill="#000" font-style="italic" textLength="9.0" lengthAdjust="spacingAndGlyphs" stroke="#000" stroke-width="0.25">q</text>
</svg>
</body></html>
